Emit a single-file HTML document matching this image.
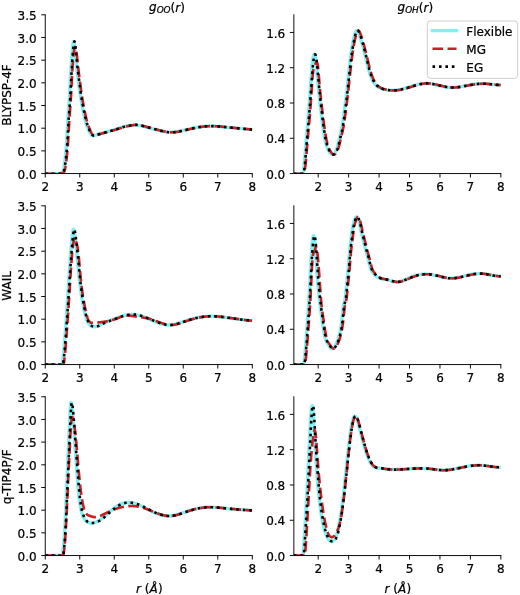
<!DOCTYPE html>
<html><head><meta charset="utf-8"><title>g(r)</title><style>html,body{margin:0;padding:0;background:#fff;width:520px;height:595px;overflow:hidden;}</style></head><body>
<svg width="520" height="595" viewBox="0 0 520 595" style="position:absolute;left:0;top:0;font-family:'DejaVu Sans', 'Liberation Sans', sans-serif;">
<style>text{fill:#000;stroke:#000;stroke-width:0.22px;}</style>
<rect x="0" y="0" width="520" height="595" fill="#fff"/>
<clipPath id="c00"><rect x="45.25" y="14.8" width="207.05" height="158.75"/></clipPath>
<g clip-path="url(#c00)">
<path d="M45.25,173.70 L45.48,173.70 L45.71,173.70 L45.94,173.70 L46.17,173.70 L46.40,173.70 L46.63,173.70 L46.86,173.70 L47.09,173.70 L47.32,173.70 L47.55,173.70 L47.78,173.70 L48.01,173.70 L48.24,173.70 L48.47,173.70 L48.70,173.70 L48.93,173.70 L49.17,173.70 L49.40,173.70 L49.63,173.70 L49.86,173.70 L50.09,173.70 L50.32,173.70 L50.55,173.70 L50.78,173.70 L51.01,173.70 L51.24,173.70 L51.47,173.70 L51.70,173.70 L51.93,173.70 L52.16,173.70 L52.39,173.70 L52.62,173.70 L52.85,173.70 L53.08,173.70 L53.31,173.70 L53.54,173.70 L53.77,173.70 L54.00,173.70 L54.23,173.70 L54.46,173.70 L54.69,173.70 L54.92,173.70 L55.15,173.70 L55.38,173.70 L55.61,173.70 L55.84,173.70 L56.07,173.70 L56.30,173.70 L56.54,173.70 L56.77,173.70 L57.00,173.70 L57.23,173.70 L57.46,173.70 L57.69,173.70 L57.92,173.70 L58.15,173.70 L58.38,173.70 L58.61,173.70 L58.84,173.70 L59.07,173.68 L59.30,173.61 L59.53,173.54 L59.76,173.47 L59.99,173.39 L60.22,173.30 L60.45,173.22 L60.68,173.12 L60.91,173.02 L61.14,172.92 L61.37,172.81 L61.60,172.70 L61.83,172.57 L62.06,172.42 L62.29,172.21 L62.52,171.93 L62.75,171.55 L62.98,171.04 L63.21,170.39 L63.44,169.56 L63.67,168.55 L63.91,167.33 L64.14,165.94 L64.37,164.38 L64.60,162.70 L64.83,160.91 L65.06,159.03 L65.29,157.07 L65.52,154.97 L65.75,152.71 L65.98,150.22 L66.21,147.47 L66.44,144.40 L66.67,140.96 L66.90,137.12 L67.13,132.83 L67.36,128.29 L67.59,123.86 L67.82,119.91 L68.05,116.53 L68.28,113.52 L68.51,110.70 L68.74,107.88 L68.97,104.88 L69.20,101.61 L69.43,97.95 L69.66,93.82 L69.89,89.23 L70.12,84.44 L70.35,79.71 L70.58,75.30 L70.81,71.23 L71.04,67.44 L71.28,63.87 L71.51,60.48 L71.74,57.26 L71.97,54.24 L72.20,51.43 L72.43,48.86 L72.66,46.56 L72.89,44.57 L73.12,43.00 L73.35,41.92 L73.58,41.41 L73.81,41.56 L74.04,42.31 L74.27,43.58 L74.50,45.31 L74.73,47.40 L74.96,49.79 L75.19,52.36 L75.42,54.99 L75.65,57.56 L75.88,59.99 L76.11,62.27 L76.34,64.44 L76.57,66.50 L76.80,68.47 L77.03,70.37 L77.26,72.21 L77.49,74.01 L77.72,75.78 L77.95,77.53 L78.18,79.28 L78.41,81.03 L78.65,82.80 L78.88,84.59 L79.11,86.41 L79.34,88.22 L79.57,90.00 L79.80,91.71 L80.03,93.34 L80.26,94.91 L80.49,96.40 L80.72,97.84 L80.95,99.22 L81.18,100.55 L81.41,101.85 L81.64,103.11 L81.87,104.34 L82.10,105.55 L82.33,106.74 L82.56,107.91 L82.79,109.07 L83.02,110.21 L83.25,111.33 L83.48,112.45 L83.71,113.56 L83.94,114.65 L84.17,115.74 L84.40,116.80 L84.63,117.84 L84.86,118.84 L85.09,119.81 L85.32,120.74 L85.55,121.62 L85.78,122.45 L86.02,123.22 L86.25,123.94 L86.48,124.61 L86.71,125.25 L86.94,125.86 L87.17,126.46 L87.40,127.04 L87.63,127.62 L87.86,128.20 L88.09,128.78 L88.32,129.34 L88.55,129.90 L88.78,130.44 L89.01,130.96 L89.24,131.47 L89.47,131.94 L89.70,132.39 L89.93,132.81 L90.16,133.20 L90.39,133.56 L90.62,133.89 L90.85,134.19 L91.08,134.46 L91.31,134.70 L91.54,134.92 L91.77,135.11 L92.00,135.27 L92.23,135.41 L92.46,135.51 L92.69,135.60 L92.92,135.66 L93.15,135.69 L93.39,135.70 L93.62,135.70 L93.85,135.67 L94.08,135.64 L94.31,135.58 L94.54,135.52 L94.77,135.45 L95.00,135.37 L95.23,135.28 L95.46,135.19 L95.69,135.10 L95.92,135.02 L96.15,134.93 L96.38,134.84 L96.61,134.76 L96.84,134.67 L97.07,134.59 L97.30,134.51 L97.53,134.42 L97.76,134.34 L97.99,134.27 L98.22,134.19 L98.45,134.11 L98.68,134.04 L98.91,133.96 L99.14,133.89 L99.37,133.82 L99.60,133.75 L99.83,133.68 L100.06,133.61 L100.29,133.55 L100.52,133.48 L100.76,133.42 L100.99,133.35 L101.22,133.29 L101.45,133.23 L101.68,133.17 L101.91,133.10 L102.14,133.04 L102.37,132.98 L102.60,132.92 L102.83,132.86 L103.06,132.80 L103.29,132.74 L103.52,132.68 L103.75,132.62 L103.98,132.56 L104.21,132.51 L104.44,132.45 L104.67,132.39 L104.90,132.33 L105.13,132.27 L105.36,132.20 L105.59,132.14 L105.82,132.08 L106.05,132.02 L106.28,131.96 L106.51,131.90 L106.74,131.83 L106.97,131.77 L107.20,131.71 L107.43,131.64 L107.66,131.58 L107.89,131.52 L108.13,131.45 L108.36,131.39 L108.59,131.32 L108.82,131.26 L109.05,131.19 L109.28,131.13 L109.51,131.06 L109.74,130.99 L109.97,130.93 L110.20,130.86 L110.43,130.80 L110.66,130.73 L110.89,130.66 L111.12,130.59 L111.35,130.53 L111.58,130.46 L111.81,130.39 L112.04,130.32 L112.27,130.26 L112.50,130.19 L112.73,130.12 L112.96,130.05 L113.19,129.98 L113.42,129.91 L113.65,129.84 L113.88,129.77 L114.11,129.70 L114.34,129.63 L114.57,129.56 L114.80,129.49 L115.03,129.42 L115.26,129.35 L115.49,129.28 L115.73,129.20 L115.96,129.13 L116.19,129.06 L116.42,128.98 L116.65,128.91 L116.88,128.84 L117.11,128.76 L117.34,128.69 L117.57,128.61 L117.80,128.54 L118.03,128.46 L118.26,128.39 L118.49,128.31 L118.72,128.23 L118.95,128.16 L119.18,128.08 L119.41,128.01 L119.64,127.93 L119.87,127.86 L120.10,127.78 L120.33,127.71 L120.56,127.63 L120.79,127.56 L121.02,127.49 L121.25,127.42 L121.48,127.35 L121.71,127.28 L121.94,127.21 L122.17,127.14 L122.40,127.07 L122.63,127.01 L122.86,126.94 L123.10,126.88 L123.33,126.82 L123.56,126.76 L123.79,126.70 L124.02,126.64 L124.25,126.59 L124.48,126.53 L124.71,126.48 L124.94,126.43 L125.17,126.38 L125.40,126.33 L125.63,126.28 L125.86,126.23 L126.09,126.18 L126.32,126.13 L126.55,126.09 L126.78,126.04 L127.01,125.99 L127.24,125.95 L127.47,125.90 L127.70,125.86 L127.93,125.81 L128.16,125.77 L128.39,125.72 L128.62,125.68 L128.85,125.64 L129.08,125.59 L129.31,125.55 L129.54,125.51 L129.77,125.46 L130.00,125.42 L130.23,125.38 L130.47,125.34 L130.70,125.30 L130.93,125.27 L131.16,125.23 L131.39,125.20 L131.62,125.16 L131.85,125.13 L132.08,125.10 L132.31,125.07 L132.54,125.04 L132.77,125.02 L133.00,125.00 L133.23,124.97 L133.46,124.96 L133.69,124.94 L133.92,124.92 L134.15,124.91 L134.38,124.90 L134.61,124.90 L134.84,124.89 L135.07,124.89 L135.30,124.89 L135.53,124.89 L135.76,124.90 L135.99,124.91 L136.22,124.93 L136.45,124.94 L136.68,124.96 L136.91,124.98 L137.14,125.01 L137.37,125.03 L137.60,125.06 L137.84,125.10 L138.07,125.13 L138.30,125.17 L138.53,125.21 L138.76,125.25 L138.99,125.29 L139.22,125.33 L139.45,125.38 L139.68,125.43 L139.91,125.48 L140.14,125.53 L140.37,125.58 L140.60,125.63 L140.83,125.69 L141.06,125.75 L141.29,125.80 L141.52,125.86 L141.75,125.92 L141.98,125.98 L142.21,126.04 L142.44,126.10 L142.67,126.16 L142.90,126.23 L143.13,126.29 L143.36,126.35 L143.59,126.41 L143.82,126.48 L144.05,126.54 L144.28,126.60 L144.51,126.67 L144.74,126.73 L144.97,126.79 L145.21,126.86 L145.44,126.92 L145.67,126.98 L145.90,127.04 L146.13,127.10 L146.36,127.16 L146.59,127.22 L146.82,127.28 L147.05,127.34 L147.28,127.40 L147.51,127.46 L147.74,127.52 L147.97,127.58 L148.20,127.64 L148.43,127.69 L148.66,127.75 L148.89,127.81 L149.12,127.87 L149.35,127.93 L149.58,127.99 L149.81,128.05 L150.04,128.11 L150.27,128.17 L150.50,128.22 L150.73,128.28 L150.96,128.34 L151.19,128.40 L151.42,128.46 L151.65,128.52 L151.88,128.58 L152.11,128.64 L152.34,128.71 L152.58,128.77 L152.81,128.83 L153.04,128.89 L153.27,128.95 L153.50,129.02 L153.73,129.08 L153.96,129.14 L154.19,129.21 L154.42,129.27 L154.65,129.33 L154.88,129.40 L155.11,129.46 L155.34,129.53 L155.57,129.59 L155.80,129.65 L156.03,129.72 L156.26,129.78 L156.49,129.85 L156.72,129.91 L156.95,129.97 L157.18,130.04 L157.41,130.10 L157.64,130.16 L157.87,130.23 L158.10,130.29 L158.33,130.35 L158.56,130.41 L158.79,130.48 L159.02,130.54 L159.25,130.60 L159.48,130.66 L159.71,130.72 L159.95,130.77 L160.18,130.83 L160.41,130.89 L160.64,130.95 L160.87,131.00 L161.10,131.06 L161.33,131.11 L161.56,131.17 L161.79,131.22 L162.02,131.27 L162.25,131.32 L162.48,131.37 L162.71,131.42 L162.94,131.47 L163.17,131.52 L163.40,131.57 L163.63,131.61 L163.86,131.66 L164.09,131.70 L164.32,131.74 L164.55,131.78 L164.78,131.82 L165.01,131.86 L165.24,131.90 L165.47,131.93 L165.70,131.97 L165.93,132.00 L166.16,132.03 L166.39,132.06 L166.62,132.09 L166.85,132.12 L167.08,132.14 L167.32,132.17 L167.55,132.19 L167.78,132.21 L168.01,132.23 L168.24,132.25 L168.47,132.26 L168.70,132.28 L168.93,132.29 L169.16,132.30 L169.39,132.31 L169.62,132.31 L169.85,132.32 L170.08,132.32 L170.31,132.32 L170.54,132.32 L170.77,132.32 L171.00,132.32 L171.23,132.31 L171.46,132.30 L171.69,132.29 L171.92,132.28 L172.15,132.27 L172.38,132.26 L172.61,132.24 L172.84,132.23 L173.07,132.21 L173.30,132.19 L173.53,132.17 L173.76,132.15 L173.99,132.12 L174.22,132.10 L174.45,132.07 L174.69,132.04 L174.92,132.02 L175.15,131.99 L175.38,131.96 L175.61,131.92 L175.84,131.89 L176.07,131.86 L176.30,131.82 L176.53,131.78 L176.76,131.75 L176.99,131.71 L177.22,131.67 L177.45,131.63 L177.68,131.59 L177.91,131.55 L178.14,131.50 L178.37,131.46 L178.60,131.41 L178.83,131.37 L179.06,131.32 L179.29,131.28 L179.52,131.23 L179.75,131.18 L179.98,131.13 L180.21,131.08 L180.44,131.03 L180.67,130.98 L180.90,130.93 L181.13,130.88 L181.36,130.83 L181.59,130.78 L181.82,130.72 L182.06,130.67 L182.29,130.62 L182.52,130.56 L182.75,130.51 L182.98,130.45 L183.21,130.40 L183.44,130.34 L183.67,130.29 L183.90,130.23 L184.13,130.18 L184.36,130.12 L184.59,130.06 L184.82,130.01 L185.05,129.95 L185.28,129.90 L185.51,129.84 L185.74,129.78 L185.97,129.73 L186.20,129.67 L186.43,129.62 L186.66,129.56 L186.89,129.51 L187.12,129.45 L187.35,129.40 L187.58,129.34 L187.81,129.29 L188.04,129.23 L188.27,129.18 L188.50,129.12 L188.73,129.07 L188.96,129.01 L189.19,128.96 L189.42,128.91 L189.66,128.85 L189.89,128.80 L190.12,128.75 L190.35,128.70 L190.58,128.65 L190.81,128.59 L191.04,128.54 L191.27,128.49 L191.50,128.44 L191.73,128.39 L191.96,128.34 L192.19,128.29 L192.42,128.24 L192.65,128.19 L192.88,128.14 L193.11,128.10 L193.34,128.05 L193.57,128.00 L193.80,127.95 L194.03,127.91 L194.26,127.86 L194.49,127.81 L194.72,127.77 L194.95,127.72 L195.18,127.68 L195.41,127.64 L195.64,127.59 L195.87,127.55 L196.10,127.51 L196.33,127.46 L196.56,127.42 L196.79,127.38 L197.03,127.34 L197.26,127.30 L197.49,127.26 L197.72,127.22 L197.95,127.18 L198.18,127.14 L198.41,127.11 L198.64,127.07 L198.87,127.03 L199.10,127.00 L199.33,126.96 L199.56,126.93 L199.79,126.89 L200.02,126.86 L200.25,126.83 L200.48,126.80 L200.71,126.77 L200.94,126.73 L201.17,126.70 L201.40,126.67 L201.63,126.65 L201.86,126.62 L202.09,126.59 L202.32,126.56 L202.55,126.54 L202.78,126.51 L203.01,126.49 L203.24,126.46 L203.47,126.44 L203.70,126.42 L203.93,126.40 L204.16,126.38 L204.40,126.36 L204.63,126.34 L204.86,126.32 L205.09,126.30 L205.32,126.28 L205.55,126.27 L205.78,126.25 L206.01,126.24 L206.24,126.22 L206.47,126.21 L206.70,126.20 L206.93,126.19 L207.16,126.18 L207.39,126.17 L207.62,126.16 L207.85,126.15 L208.08,126.15 L208.31,126.14 L208.54,126.14 L208.77,126.13 L209.00,126.13 L209.23,126.12 L209.46,126.12 L209.69,126.12 L209.92,126.12 L210.15,126.12 L210.38,126.12 L210.61,126.12 L210.84,126.12 L211.07,126.13 L211.30,126.13 L211.53,126.13 L211.77,126.14 L212.00,126.14 L212.23,126.15 L212.46,126.15 L212.69,126.16 L212.92,126.17 L213.15,126.18 L213.38,126.19 L213.61,126.20 L213.84,126.21 L214.07,126.22 L214.30,126.23 L214.53,126.24 L214.76,126.25 L214.99,126.26 L215.22,126.28 L215.45,126.29 L215.68,126.30 L215.91,126.32 L216.14,126.33 L216.37,126.35 L216.60,126.36 L216.83,126.38 L217.06,126.39 L217.29,126.41 L217.52,126.43 L217.75,126.44 L217.98,126.46 L218.21,126.48 L218.44,126.50 L218.67,126.52 L218.90,126.54 L219.14,126.56 L219.37,126.57 L219.60,126.59 L219.83,126.61 L220.06,126.64 L220.29,126.66 L220.52,126.68 L220.75,126.70 L220.98,126.72 L221.21,126.74 L221.44,126.76 L221.67,126.78 L221.90,126.81 L222.13,126.83 L222.36,126.85 L222.59,126.87 L222.82,126.89 L223.05,126.92 L223.28,126.94 L223.51,126.96 L223.74,126.99 L223.97,127.01 L224.20,127.03 L224.43,127.05 L224.66,127.08 L224.89,127.10 L225.12,127.12 L225.35,127.15 L225.58,127.17 L225.81,127.19 L226.04,127.22 L226.27,127.24 L226.51,127.26 L226.74,127.28 L226.97,127.31 L227.20,127.33 L227.43,127.35 L227.66,127.37 L227.89,127.40 L228.12,127.42 L228.35,127.44 L228.58,127.46 L228.81,127.49 L229.04,127.51 L229.27,127.53 L229.50,127.55 L229.73,127.57 L229.96,127.60 L230.19,127.62 L230.42,127.64 L230.65,127.66 L230.88,127.68 L231.11,127.70 L231.34,127.72 L231.57,127.75 L231.80,127.77 L232.03,127.79 L232.26,127.81 L232.49,127.83 L232.72,127.85 L232.95,127.87 L233.18,127.89 L233.41,127.91 L233.64,127.94 L233.88,127.96 L234.11,127.98 L234.34,128.00 L234.57,128.02 L234.80,128.04 L235.03,128.06 L235.26,128.08 L235.49,128.10 L235.72,128.12 L235.95,128.14 L236.18,128.16 L236.41,128.18 L236.64,128.20 L236.87,128.22 L237.10,128.24 L237.33,128.26 L237.56,128.28 L237.79,128.30 L238.02,128.32 L238.25,128.34 L238.48,128.36 L238.71,128.38 L238.94,128.40 L239.17,128.42 L239.40,128.44 L239.63,128.46 L239.86,128.48 L240.09,128.50 L240.32,128.52 L240.55,128.54 L240.78,128.56 L241.01,128.58 L241.25,128.60 L241.48,128.62 L241.71,128.64 L241.94,128.66 L242.17,128.68 L242.40,128.70 L242.63,128.72 L242.86,128.74 L243.09,128.76 L243.32,128.78 L243.55,128.80 L243.78,128.82 L244.01,128.84 L244.24,128.86 L244.47,128.88 L244.70,128.90 L244.93,128.91 L245.16,128.93 L245.39,128.95 L245.62,128.97 L245.85,128.99 L246.08,129.01 L246.31,129.03 L246.54,129.05 L246.77,129.07 L247.00,129.09 L247.23,129.11 L247.46,129.13 L247.69,129.15 L247.92,129.17 L248.15,129.19 L248.38,129.21 L248.62,129.23 L248.85,129.25 L249.08,129.27 L249.31,129.29 L249.54,129.31 L249.77,129.33 L250.00,129.35 L250.23,129.37 L250.46,129.39 L250.69,129.41 L250.92,129.43 L251.15,129.45 L251.38,129.47 L251.61,129.49 L251.84,129.51 L252.07,129.53 L252.30,129.55" fill="none" stroke="#80f0f0" stroke-width="3.4" stroke-linejoin="round"/>
<path d="M45.25,173.70 L45.48,173.70 L45.71,173.70 L45.94,173.70 L46.17,173.70 L46.40,173.70 L46.63,173.70 L46.86,173.70 L47.09,173.70 L47.32,173.70 L47.55,173.70 L47.78,173.70 L48.01,173.70 L48.24,173.70 L48.47,173.70 L48.70,173.70 L48.93,173.70 L49.17,173.70 L49.40,173.70 L49.63,173.70 L49.86,173.70 L50.09,173.70 L50.32,173.70 L50.55,173.70 L50.78,173.70 L51.01,173.70 L51.24,173.70 L51.47,173.70 L51.70,173.70 L51.93,173.70 L52.16,173.70 L52.39,173.70 L52.62,173.70 L52.85,173.70 L53.08,173.70 L53.31,173.70 L53.54,173.70 L53.77,173.70 L54.00,173.70 L54.23,173.70 L54.46,173.70 L54.69,173.70 L54.92,173.70 L55.15,173.70 L55.38,173.70 L55.61,173.70 L55.84,173.70 L56.07,173.70 L56.30,173.70 L56.54,173.70 L56.77,173.70 L57.00,173.70 L57.23,173.70 L57.46,173.70 L57.69,173.70 L57.92,173.70 L58.15,173.70 L58.38,173.70 L58.61,173.70 L58.84,173.70 L59.07,173.69 L59.30,173.67 L59.53,173.64 L59.76,173.61 L59.99,173.58 L60.22,173.55 L60.45,173.51 L60.68,173.47 L60.91,173.42 L61.14,173.37 L61.37,173.32 L61.60,173.26 L61.83,173.19 L62.06,173.12 L62.29,173.04 L62.52,172.95 L62.75,172.86 L62.98,172.75 L63.21,172.64 L63.44,172.51 L63.67,172.34 L63.91,172.10 L64.14,171.77 L64.37,171.32 L64.60,170.75 L64.83,170.01 L65.06,169.09 L65.29,167.98 L65.52,166.67 L65.75,165.20 L65.98,163.58 L66.21,161.84 L66.44,160.00 L66.67,158.09 L66.90,156.07 L67.13,153.90 L67.36,151.53 L67.59,148.92 L67.82,146.01 L68.05,142.77 L68.28,139.15 L68.51,135.09 L68.74,130.63 L68.97,126.09 L69.20,121.86 L69.43,118.20 L69.66,115.03 L69.89,112.14 L70.12,109.34 L70.35,106.45 L70.58,103.32 L70.81,99.87 L71.04,96.00 L71.28,91.64 L71.51,86.93 L71.74,82.14 L71.97,77.50 L72.20,73.19 L72.43,69.21 L72.66,65.58 L72.89,62.29 L73.12,59.34 L73.35,56.72 L73.58,54.42 L73.81,52.42 L74.04,50.74 L74.27,49.34 L74.50,48.26 L74.73,47.51 L74.96,47.09 L75.19,47.01 L75.42,47.29 L75.65,47.88 L75.88,48.76 L76.11,49.90 L76.34,51.27 L76.57,52.84 L76.80,54.58 L77.03,56.46 L77.26,58.46 L77.49,60.54 L77.72,62.67 L77.95,64.83 L78.18,66.99 L78.41,69.11 L78.65,71.17 L78.88,73.13 L79.11,75.00 L79.34,76.78 L79.57,78.52 L79.80,80.22 L80.03,81.94 L80.26,83.67 L80.49,85.46 L80.72,87.27 L80.95,89.08 L81.18,90.84 L81.41,92.52 L81.64,94.13 L81.87,95.66 L82.10,97.13 L82.33,98.53 L82.56,99.89 L82.79,101.20 L83.02,102.47 L83.25,103.71 L83.48,104.93 L83.71,106.13 L83.94,107.31 L84.17,108.47 L84.40,109.62 L84.63,110.76 L84.86,111.88 L85.09,112.99 L85.32,114.09 L85.55,115.18 L85.78,116.26 L86.02,117.31 L86.25,118.33 L86.48,119.32 L86.71,120.27 L86.94,121.18 L87.17,122.03 L87.40,122.83 L87.63,123.57 L87.86,124.27 L88.09,124.93 L88.32,125.55 L88.55,126.15 L88.78,126.74 L89.01,127.32 L89.24,127.90 L89.47,128.48 L89.70,129.05 L89.93,129.62 L90.16,130.16 L90.39,130.70 L90.62,131.21 L90.85,131.70 L91.08,132.16 L91.31,132.60 L91.54,133.00 L91.77,133.38 L92.00,133.72 L92.23,134.04 L92.46,134.32 L92.69,134.58 L92.92,134.81 L93.15,135.01 L93.39,135.19 L93.62,135.34 L93.85,135.46 L94.08,135.56 L94.31,135.63 L94.54,135.68 L94.77,135.70 L95.00,135.70 L95.23,135.69 L95.46,135.66 L95.69,135.61 L95.92,135.55 L96.15,135.49 L96.38,135.41 L96.61,135.33 L96.84,135.24 L97.07,135.15 L97.30,135.06 L97.53,134.97 L97.76,134.89 L97.99,134.80 L98.22,134.71 L98.45,134.63 L98.68,134.55 L98.91,134.47 L99.14,134.39 L99.37,134.31 L99.60,134.23 L99.83,134.15 L100.06,134.08 L100.29,134.00 L100.52,133.93 L100.76,133.86 L100.99,133.79 L101.22,133.72 L101.45,133.65 L101.68,133.58 L101.91,133.52 L102.14,133.45 L102.37,133.39 L102.60,133.32 L102.83,133.26 L103.06,133.20 L103.29,133.14 L103.52,133.07 L103.75,133.01 L103.98,132.95 L104.21,132.89 L104.44,132.83 L104.67,132.77 L104.90,132.71 L105.13,132.65 L105.36,132.60 L105.59,132.54 L105.82,132.48 L106.05,132.42 L106.28,132.36 L106.51,132.30 L106.74,132.24 L106.97,132.18 L107.20,132.11 L107.43,132.05 L107.66,131.99 L107.89,131.93 L108.13,131.87 L108.36,131.80 L108.59,131.74 L108.82,131.68 L109.05,131.61 L109.28,131.55 L109.51,131.48 L109.74,131.42 L109.97,131.36 L110.20,131.29 L110.43,131.23 L110.66,131.16 L110.89,131.09 L111.12,131.03 L111.35,130.96 L111.58,130.90 L111.81,130.83 L112.04,130.76 L112.27,130.70 L112.50,130.63 L112.73,130.56 L112.96,130.49 L113.19,130.43 L113.42,130.36 L113.65,130.29 L113.88,130.22 L114.11,130.15 L114.34,130.09 L114.57,130.02 L114.80,129.95 L115.03,129.88 L115.26,129.81 L115.49,129.74 L115.73,129.67 L115.96,129.60 L116.19,129.53 L116.42,129.46 L116.65,129.38 L116.88,129.31 L117.11,129.24 L117.34,129.17 L117.57,129.10 L117.80,129.02 L118.03,128.95 L118.26,128.87 L118.49,128.80 L118.72,128.73 L118.95,128.65 L119.18,128.58 L119.41,128.50 L119.64,128.42 L119.87,128.35 L120.10,128.27 L120.33,128.20 L120.56,128.12 L120.79,128.05 L121.02,127.97 L121.25,127.89 L121.48,127.82 L121.71,127.75 L121.94,127.67 L122.17,127.60 L122.40,127.53 L122.63,127.45 L122.86,127.38 L123.10,127.31 L123.33,127.24 L123.56,127.17 L123.79,127.11 L124.02,127.04 L124.25,126.98 L124.48,126.91 L124.71,126.85 L124.94,126.79 L125.17,126.73 L125.40,126.67 L125.63,126.62 L125.86,126.56 L126.09,126.51 L126.32,126.45 L126.55,126.40 L126.78,126.35 L127.01,126.30 L127.24,126.25 L127.47,126.20 L127.70,126.16 L127.93,126.11 L128.16,126.06 L128.39,126.02 L128.62,125.97 L128.85,125.93 L129.08,125.88 L129.31,125.84 L129.54,125.79 L129.77,125.75 L130.00,125.70 L130.23,125.66 L130.47,125.61 L130.70,125.57 L130.93,125.53 L131.16,125.48 L131.39,125.44 L131.62,125.40 L131.85,125.36 L132.08,125.32 L132.31,125.29 L132.54,125.25 L132.77,125.21 L133.00,125.18 L133.23,125.15 L133.46,125.11 L133.69,125.09 L133.92,125.06 L134.15,125.03 L134.38,125.01 L134.61,124.98 L134.84,124.96 L135.07,124.95 L135.30,124.93 L135.53,124.92 L135.76,124.91 L135.99,124.90 L136.22,124.89 L136.45,124.89 L136.68,124.89 L136.91,124.89 L137.14,124.90 L137.37,124.91 L137.60,124.92 L137.84,124.93 L138.07,124.95 L138.30,124.97 L138.53,124.99 L138.76,125.02 L138.99,125.05 L139.22,125.08 L139.45,125.11 L139.68,125.15 L139.91,125.19 L140.14,125.23 L140.37,125.27 L140.60,125.31 L140.83,125.36 L141.06,125.40 L141.29,125.45 L141.52,125.50 L141.75,125.55 L141.98,125.61 L142.21,125.66 L142.44,125.72 L142.67,125.77 L142.90,125.83 L143.13,125.89 L143.36,125.95 L143.59,126.01 L143.82,126.07 L144.05,126.13 L144.28,126.19 L144.51,126.26 L144.74,126.32 L144.97,126.38 L145.21,126.45 L145.44,126.51 L145.67,126.57 L145.90,126.64 L146.13,126.70 L146.36,126.76 L146.59,126.82 L146.82,126.89 L147.05,126.95 L147.28,127.01 L147.51,127.07 L147.74,127.13 L147.97,127.19 L148.20,127.25 L148.43,127.31 L148.66,127.37 L148.89,127.43 L149.12,127.49 L149.35,127.55 L149.58,127.61 L149.81,127.66 L150.04,127.72 L150.27,127.78 L150.50,127.84 L150.73,127.90 L150.96,127.96 L151.19,128.02 L151.42,128.08 L151.65,128.13 L151.88,128.19 L152.11,128.25 L152.34,128.31 L152.58,128.37 L152.81,128.43 L153.04,128.49 L153.27,128.55 L153.50,128.61 L153.73,128.67 L153.96,128.73 L154.19,128.80 L154.42,128.86 L154.65,128.92 L154.88,128.98 L155.11,129.05 L155.34,129.11 L155.57,129.17 L155.80,129.24 L156.03,129.30 L156.26,129.36 L156.49,129.43 L156.72,129.49 L156.95,129.56 L157.18,129.62 L157.41,129.69 L157.64,129.75 L157.87,129.81 L158.10,129.88 L158.33,129.94 L158.56,130.01 L158.79,130.07 L159.02,130.13 L159.25,130.20 L159.48,130.26 L159.71,130.32 L159.95,130.38 L160.18,130.44 L160.41,130.50 L160.64,130.57 L160.87,130.63 L161.10,130.69 L161.33,130.74 L161.56,130.80 L161.79,130.86 L162.02,130.92 L162.25,130.97 L162.48,131.03 L162.71,131.09 L162.94,131.14 L163.17,131.19 L163.40,131.25 L163.63,131.30 L163.86,131.35 L164.09,131.40 L164.32,131.45 L164.55,131.50 L164.78,131.54 L165.01,131.59 L165.24,131.63 L165.47,131.68 L165.70,131.72 L165.93,131.76 L166.16,131.80 L166.39,131.84 L166.62,131.88 L166.85,131.92 L167.08,131.95 L167.32,131.98 L167.55,132.02 L167.78,132.05 L168.01,132.08 L168.24,132.10 L168.47,132.13 L168.70,132.16 L168.93,132.18 L169.16,132.20 L169.39,132.22 L169.62,132.24 L169.85,132.25 L170.08,132.27 L170.31,132.28 L170.54,132.29 L170.77,132.30 L171.00,132.31 L171.23,132.32 L171.46,132.32 L171.69,132.32 L171.92,132.32 L172.15,132.32 L172.38,132.32 L172.61,132.31 L172.84,132.31 L173.07,132.30 L173.30,132.29 L173.53,132.28 L173.76,132.26 L173.99,132.25 L174.22,132.23 L174.45,132.22 L174.69,132.20 L174.92,132.18 L175.15,132.16 L175.38,132.13 L175.61,132.11 L175.84,132.08 L176.07,132.06 L176.30,132.03 L176.53,132.00 L176.76,131.97 L176.99,131.94 L177.22,131.91 L177.45,131.87 L177.68,131.84 L177.91,131.80 L178.14,131.77 L178.37,131.73 L178.60,131.69 L178.83,131.65 L179.06,131.61 L179.29,131.57 L179.52,131.52 L179.75,131.48 L179.98,131.44 L180.21,131.39 L180.44,131.35 L180.67,131.30 L180.90,131.25 L181.13,131.20 L181.36,131.16 L181.59,131.11 L181.82,131.06 L182.06,131.01 L182.29,130.96 L182.52,130.91 L182.75,130.85 L182.98,130.80 L183.21,130.75 L183.44,130.70 L183.67,130.64 L183.90,130.59 L184.13,130.53 L184.36,130.48 L184.59,130.43 L184.82,130.37 L185.05,130.31 L185.28,130.26 L185.51,130.20 L185.74,130.15 L185.97,130.09 L186.20,130.04 L186.43,129.98 L186.66,129.92 L186.89,129.87 L187.12,129.81 L187.35,129.76 L187.58,129.70 L187.81,129.65 L188.04,129.59 L188.27,129.53 L188.50,129.48 L188.73,129.42 L188.96,129.37 L189.19,129.31 L189.42,129.26 L189.66,129.20 L189.89,129.15 L190.12,129.10 L190.35,129.04 L190.58,128.99 L190.81,128.94 L191.04,128.88 L191.27,128.83 L191.50,128.78 L191.73,128.73 L191.96,128.67 L192.19,128.62 L192.42,128.57 L192.65,128.52 L192.88,128.47 L193.11,128.42 L193.34,128.37 L193.57,128.32 L193.80,128.27 L194.03,128.22 L194.26,128.17 L194.49,128.12 L194.72,128.07 L194.95,128.03 L195.18,127.98 L195.41,127.93 L195.64,127.89 L195.87,127.84 L196.10,127.80 L196.33,127.75 L196.56,127.71 L196.79,127.66 L197.03,127.62 L197.26,127.57 L197.49,127.53 L197.72,127.49 L197.95,127.45 L198.18,127.41 L198.41,127.36 L198.64,127.32 L198.87,127.28 L199.10,127.24 L199.33,127.21 L199.56,127.17 L199.79,127.13 L200.02,127.09 L200.25,127.06 L200.48,127.02 L200.71,126.98 L200.94,126.95 L201.17,126.92 L201.40,126.88 L201.63,126.85 L201.86,126.82 L202.09,126.78 L202.32,126.75 L202.55,126.72 L202.78,126.69 L203.01,126.66 L203.24,126.64 L203.47,126.61 L203.70,126.58 L203.93,126.55 L204.16,126.53 L204.40,126.50 L204.63,126.48 L204.86,126.46 L205.09,126.43 L205.32,126.41 L205.55,126.39 L205.78,126.37 L206.01,126.35 L206.24,126.33 L206.47,126.31 L206.70,126.29 L206.93,126.28 L207.16,126.26 L207.39,126.25 L207.62,126.23 L207.85,126.22 L208.08,126.21 L208.31,126.19 L208.54,126.18 L208.77,126.17 L209.00,126.16 L209.23,126.16 L209.46,126.15 L209.69,126.14 L209.92,126.14 L210.15,126.13 L210.38,126.13 L210.61,126.12 L210.84,126.12 L211.07,126.12 L211.30,126.12 L211.53,126.11 L211.77,126.11 L212.00,126.12 L212.23,126.12 L212.46,126.12 L212.69,126.12 L212.92,126.12 L213.15,126.13 L213.38,126.13 L213.61,126.14 L213.84,126.14 L214.07,126.15 L214.30,126.16 L214.53,126.16 L214.76,126.17 L214.99,126.18 L215.22,126.19 L215.45,126.20 L215.68,126.21 L215.91,126.22 L216.14,126.23 L216.37,126.24 L216.60,126.26 L216.83,126.27 L217.06,126.28 L217.29,126.30 L217.52,126.31 L217.75,126.33 L217.98,126.34 L218.21,126.36 L218.44,126.37 L218.67,126.39 L218.90,126.40 L219.14,126.42 L219.37,126.44 L219.60,126.46 L219.83,126.48 L220.06,126.49 L220.29,126.51 L220.52,126.53 L220.75,126.55 L220.98,126.57 L221.21,126.59 L221.44,126.61 L221.67,126.63 L221.90,126.65 L222.13,126.67 L222.36,126.69 L222.59,126.72 L222.82,126.74 L223.05,126.76 L223.28,126.78 L223.51,126.80 L223.74,126.83 L223.97,126.85 L224.20,126.87 L224.43,126.89 L224.66,126.92 L224.89,126.94 L225.12,126.96 L225.35,126.99 L225.58,127.01 L225.81,127.03 L226.04,127.06 L226.27,127.08 L226.51,127.10 L226.74,127.13 L226.97,127.15 L227.20,127.18 L227.43,127.20 L227.66,127.22 L227.89,127.25 L228.12,127.27 L228.35,127.29 L228.58,127.32 L228.81,127.34 L229.04,127.37 L229.27,127.39 L229.50,127.41 L229.73,127.44 L229.96,127.46 L230.19,127.48 L230.42,127.51 L230.65,127.53 L230.88,127.55 L231.11,127.58 L231.34,127.60 L231.57,127.62 L231.80,127.65 L232.03,127.67 L232.26,127.69 L232.49,127.71 L232.72,127.74 L232.95,127.76 L233.18,127.78 L233.41,127.81 L233.64,127.83 L233.88,127.85 L234.11,127.87 L234.34,127.90 L234.57,127.92 L234.80,127.94 L235.03,127.96 L235.26,127.99 L235.49,128.01 L235.72,128.03 L235.95,128.05 L236.18,128.08 L236.41,128.10 L236.64,128.12 L236.87,128.14 L237.10,128.16 L237.33,128.19 L237.56,128.21 L237.79,128.23 L238.02,128.25 L238.25,128.27 L238.48,128.30 L238.71,128.32 L238.94,128.34 L239.17,128.36 L239.40,128.38 L239.63,128.41 L239.86,128.43 L240.09,128.45 L240.32,128.47 L240.55,128.49 L240.78,128.51 L241.01,128.54 L241.25,128.56 L241.48,128.58 L241.71,128.60 L241.94,128.62 L242.17,128.64 L242.40,128.66 L242.63,128.68 L242.86,128.71 L243.09,128.73 L243.32,128.75 L243.55,128.77 L243.78,128.79 L244.01,128.81 L244.24,128.83 L244.47,128.85 L244.70,128.87 L244.93,128.90 L245.16,128.92 L245.39,128.94 L245.62,128.96 L245.85,128.98 L246.08,129.00 L246.31,129.02 L246.54,129.04 L246.77,129.06 L247.00,129.08 L247.23,129.10 L247.46,129.12 L247.69,129.14 L247.92,129.16 L248.15,129.18 L248.38,129.21 L248.62,129.23 L248.85,129.25 L249.08,129.27 L249.31,129.29 L249.54,129.31 L249.77,129.33 L250.00,129.35 L250.23,129.37 L250.46,129.39 L250.69,129.41 L250.92,129.43 L251.15,129.45 L251.38,129.47 L251.61,129.49 L251.84,129.51 L252.07,129.53 L252.30,129.55" fill="none" stroke="#c81e24" stroke-width="2.6" stroke-dasharray="10.6,4.4" stroke-linejoin="round"/>
<path d="M45.25,173.70 L45.48,173.70 L45.71,173.70 L45.94,173.70 L46.17,173.70 L46.40,173.70 L46.63,173.70 L46.86,173.70 L47.09,173.70 L47.32,173.70 L47.55,173.70 L47.78,173.70 L48.01,173.70 L48.24,173.70 L48.47,173.70 L48.70,173.70 L48.93,173.70 L49.17,173.70 L49.40,173.70 L49.63,173.70 L49.86,173.70 L50.09,173.70 L50.32,173.70 L50.55,173.70 L50.78,173.70 L51.01,173.70 L51.24,173.70 L51.47,173.70 L51.70,173.70 L51.93,173.70 L52.16,173.70 L52.39,173.70 L52.62,173.70 L52.85,173.70 L53.08,173.70 L53.31,173.70 L53.54,173.70 L53.77,173.70 L54.00,173.70 L54.23,173.70 L54.46,173.70 L54.69,173.70 L54.92,173.70 L55.15,173.70 L55.38,173.70 L55.61,173.70 L55.84,173.70 L56.07,173.70 L56.30,173.70 L56.54,173.70 L56.77,173.70 L57.00,173.70 L57.23,173.70 L57.46,173.70 L57.69,173.70 L57.92,173.70 L58.15,173.70 L58.38,173.70 L58.61,173.70 L58.84,173.70 L59.07,173.69 L59.30,173.65 L59.53,173.61 L59.76,173.56 L59.99,173.51 L60.22,173.46 L60.45,173.40 L60.68,173.34 L60.91,173.28 L61.14,173.20 L61.37,173.13 L61.60,173.04 L61.83,172.95 L62.06,172.86 L62.29,172.75 L62.52,172.64 L62.75,172.50 L62.98,172.33 L63.21,172.08 L63.44,171.75 L63.67,171.30 L63.91,170.72 L64.14,169.98 L64.37,169.05 L64.60,167.93 L64.83,166.62 L65.06,165.14 L65.29,163.51 L65.52,161.77 L65.75,159.93 L65.98,158.01 L66.21,155.98 L66.44,153.81 L66.67,151.43 L66.90,148.81 L67.13,145.89 L67.36,142.64 L67.59,138.99 L67.82,134.92 L68.05,130.45 L68.28,125.92 L68.51,121.70 L68.74,118.07 L68.97,114.91 L69.20,112.03 L69.43,109.23 L69.66,106.33 L69.89,103.20 L70.12,99.74 L70.35,95.84 L70.58,91.44 L70.81,86.72 L71.04,81.93 L71.28,77.34 L71.51,73.12 L71.74,69.20 L71.97,65.54 L72.20,62.07 L72.43,58.76 L72.66,55.65 L72.89,52.73 L73.12,50.05 L73.35,47.61 L73.58,45.47 L73.81,43.69 L74.04,42.36 L74.27,41.57 L74.50,41.41 L74.73,41.88 L74.96,42.92 L75.19,44.44 L75.42,46.37 L75.65,48.63 L75.88,51.12 L76.11,53.74 L76.34,56.36 L76.57,58.85 L76.80,61.21 L77.03,63.43 L77.26,65.54 L77.49,67.55 L77.72,69.48 L77.95,71.35 L78.18,73.16 L78.41,74.95 L78.65,76.70 L78.88,78.45 L79.11,80.20 L79.34,81.96 L79.57,83.74 L79.80,85.55 L80.03,87.36 L80.26,89.16 L80.49,90.91 L80.72,92.58 L80.95,94.18 L81.18,95.70 L81.41,97.16 L81.64,98.57 L81.87,99.93 L82.10,101.24 L82.33,102.51 L82.56,103.76 L82.79,104.98 L83.02,106.18 L83.25,107.36 L83.48,108.52 L83.71,109.67 L83.94,110.80 L84.17,111.92 L84.40,113.03 L84.63,114.14 L84.86,115.23 L85.09,116.30 L85.32,117.35 L85.55,118.37 L85.78,119.36 L86.02,120.31 L86.25,121.21 L86.48,122.06 L86.71,122.86 L86.94,123.60 L87.17,124.30 L87.40,124.95 L87.63,125.58 L87.86,126.18 L88.09,126.77 L88.32,127.35 L88.55,127.93 L88.78,128.50 L89.01,129.08 L89.24,129.64 L89.47,130.19 L89.70,130.72 L89.93,131.23 L90.16,131.72 L90.39,132.18 L90.62,132.62 L90.85,133.02 L91.08,133.39 L91.31,133.73 L91.54,134.05 L91.77,134.33 L92.00,134.59 L92.23,134.82 L92.46,135.02 L92.69,135.20 L92.92,135.34 L93.15,135.47 L93.39,135.56 L93.62,135.63 L93.85,135.68 L94.08,135.70 L94.31,135.70 L94.54,135.69 L94.77,135.66 L95.00,135.61 L95.23,135.55 L95.46,135.48 L95.69,135.41 L95.92,135.32 L96.15,135.24 L96.38,135.15 L96.61,135.06 L96.84,134.97 L97.07,134.88 L97.30,134.80 L97.53,134.71 L97.76,134.63 L97.99,134.54 L98.22,134.46 L98.45,134.38 L98.68,134.30 L98.91,134.23 L99.14,134.15 L99.37,134.07 L99.60,134.00 L99.83,133.93 L100.06,133.85 L100.29,133.78 L100.52,133.71 L100.76,133.65 L100.99,133.58 L101.22,133.51 L101.45,133.45 L101.68,133.38 L101.91,133.32 L102.14,133.26 L102.37,133.19 L102.60,133.13 L102.83,133.07 L103.06,133.01 L103.29,132.95 L103.52,132.89 L103.75,132.83 L103.98,132.77 L104.21,132.71 L104.44,132.65 L104.67,132.59 L104.90,132.53 L105.13,132.47 L105.36,132.41 L105.59,132.35 L105.82,132.29 L106.05,132.23 L106.28,132.17 L106.51,132.11 L106.74,132.05 L106.97,131.99 L107.20,131.93 L107.43,131.86 L107.66,131.80 L107.89,131.74 L108.13,131.67 L108.36,131.61 L108.59,131.55 L108.82,131.48 L109.05,131.42 L109.28,131.35 L109.51,131.29 L109.74,131.22 L109.97,131.16 L110.20,131.09 L110.43,131.03 L110.66,130.96 L110.89,130.89 L111.12,130.83 L111.35,130.76 L111.58,130.69 L111.81,130.63 L112.04,130.56 L112.27,130.49 L112.50,130.42 L112.73,130.36 L112.96,130.29 L113.19,130.22 L113.42,130.15 L113.65,130.08 L113.88,130.01 L114.11,129.94 L114.34,129.88 L114.57,129.81 L114.80,129.74 L115.03,129.67 L115.26,129.59 L115.49,129.52 L115.73,129.45 L115.96,129.38 L116.19,129.31 L116.42,129.24 L116.65,129.17 L116.88,129.09 L117.11,129.02 L117.34,128.95 L117.57,128.87 L117.80,128.80 L118.03,128.72 L118.26,128.65 L118.49,128.57 L118.72,128.50 L118.95,128.42 L119.18,128.35 L119.41,128.27 L119.64,128.19 L119.87,128.12 L120.10,128.04 L120.33,127.97 L120.56,127.89 L120.79,127.82 L121.02,127.74 L121.25,127.67 L121.48,127.60 L121.71,127.52 L121.94,127.45 L122.17,127.38 L122.40,127.31 L122.63,127.24 L122.86,127.17 L123.10,127.10 L123.33,127.04 L123.56,126.97 L123.79,126.91 L124.02,126.85 L124.25,126.79 L124.48,126.73 L124.71,126.67 L124.94,126.61 L125.17,126.56 L125.40,126.51 L125.63,126.45 L125.86,126.40 L126.09,126.35 L126.32,126.30 L126.55,126.25 L126.78,126.20 L127.01,126.15 L127.24,126.11 L127.47,126.06 L127.70,126.02 L127.93,125.97 L128.16,125.92 L128.39,125.88 L128.62,125.83 L128.85,125.79 L129.08,125.74 L129.31,125.70 L129.54,125.66 L129.77,125.61 L130.00,125.57 L130.23,125.53 L130.47,125.48 L130.70,125.44 L130.93,125.40 L131.16,125.36 L131.39,125.32 L131.62,125.28 L131.85,125.25 L132.08,125.21 L132.31,125.18 L132.54,125.14 L132.77,125.11 L133.00,125.08 L133.23,125.06 L133.46,125.03 L133.69,125.01 L133.92,124.98 L134.15,124.96 L134.38,124.95 L134.61,124.93 L134.84,124.92 L135.07,124.91 L135.30,124.90 L135.53,124.89 L135.76,124.89 L135.99,124.89 L136.22,124.89 L136.45,124.90 L136.68,124.91 L136.91,124.92 L137.14,124.93 L137.37,124.95 L137.60,124.97 L137.84,125.00 L138.07,125.02 L138.30,125.05 L138.53,125.08 L138.76,125.11 L138.99,125.15 L139.22,125.19 L139.45,125.23 L139.68,125.27 L139.91,125.31 L140.14,125.36 L140.37,125.40 L140.60,125.45 L140.83,125.50 L141.06,125.56 L141.29,125.61 L141.52,125.66 L141.75,125.72 L141.98,125.78 L142.21,125.83 L142.44,125.89 L142.67,125.95 L142.90,126.01 L143.13,126.07 L143.36,126.13 L143.59,126.20 L143.82,126.26 L144.05,126.32 L144.28,126.38 L144.51,126.45 L144.74,126.51 L144.97,126.57 L145.21,126.64 L145.44,126.70 L145.67,126.76 L145.90,126.83 L146.13,126.89 L146.36,126.95 L146.59,127.01 L146.82,127.07 L147.05,127.13 L147.28,127.19 L147.51,127.25 L147.74,127.31 L147.97,127.37 L148.20,127.43 L148.43,127.49 L148.66,127.55 L148.89,127.61 L149.12,127.67 L149.35,127.73 L149.58,127.78 L149.81,127.84 L150.04,127.90 L150.27,127.96 L150.50,128.02 L150.73,128.08 L150.96,128.14 L151.19,128.20 L151.42,128.26 L151.65,128.31 L151.88,128.37 L152.11,128.43 L152.34,128.49 L152.58,128.55 L152.81,128.62 L153.04,128.68 L153.27,128.74 L153.50,128.80 L153.73,128.86 L153.96,128.92 L154.19,128.99 L154.42,129.05 L154.65,129.11 L154.88,129.18 L155.11,129.24 L155.34,129.30 L155.57,129.37 L155.80,129.43 L156.03,129.50 L156.26,129.56 L156.49,129.62 L156.72,129.69 L156.95,129.75 L157.18,129.82 L157.41,129.88 L157.64,129.94 L157.87,130.01 L158.10,130.07 L158.33,130.13 L158.56,130.20 L158.79,130.26 L159.02,130.32 L159.25,130.38 L159.48,130.45 L159.71,130.51 L159.95,130.57 L160.18,130.63 L160.41,130.69 L160.64,130.75 L160.87,130.81 L161.10,130.86 L161.33,130.92 L161.56,130.98 L161.79,131.03 L162.02,131.09 L162.25,131.14 L162.48,131.20 L162.71,131.25 L162.94,131.30 L163.17,131.35 L163.40,131.40 L163.63,131.45 L163.86,131.50 L164.09,131.54 L164.32,131.59 L164.55,131.64 L164.78,131.68 L165.01,131.72 L165.24,131.76 L165.47,131.80 L165.70,131.84 L165.93,131.88 L166.16,131.92 L166.39,131.95 L166.62,131.99 L166.85,132.02 L167.08,132.05 L167.32,132.08 L167.55,132.11 L167.78,132.13 L168.01,132.16 L168.24,132.18 L168.47,132.20 L168.70,132.22 L168.93,132.24 L169.16,132.26 L169.39,132.27 L169.62,132.28 L169.85,132.29 L170.08,132.30 L170.31,132.31 L170.54,132.32 L170.77,132.32 L171.00,132.32 L171.23,132.32 L171.46,132.32 L171.69,132.32 L171.92,132.31 L172.15,132.31 L172.38,132.30 L172.61,132.29 L172.84,132.28 L173.07,132.26 L173.30,132.25 L173.53,132.23 L173.76,132.22 L173.99,132.20 L174.22,132.18 L174.45,132.16 L174.69,132.13 L174.92,132.11 L175.15,132.08 L175.38,132.06 L175.61,132.03 L175.84,132.00 L176.07,131.97 L176.30,131.94 L176.53,131.91 L176.76,131.87 L176.99,131.84 L177.22,131.80 L177.45,131.76 L177.68,131.73 L177.91,131.69 L178.14,131.65 L178.37,131.61 L178.60,131.57 L178.83,131.52 L179.06,131.48 L179.29,131.44 L179.52,131.39 L179.75,131.34 L179.98,131.30 L180.21,131.25 L180.44,131.20 L180.67,131.15 L180.90,131.11 L181.13,131.06 L181.36,131.01 L181.59,130.96 L181.82,130.90 L182.06,130.85 L182.29,130.80 L182.52,130.75 L182.75,130.69 L182.98,130.64 L183.21,130.59 L183.44,130.53 L183.67,130.48 L183.90,130.42 L184.13,130.37 L184.36,130.31 L184.59,130.26 L184.82,130.20 L185.05,130.15 L185.28,130.09 L185.51,130.03 L185.74,129.98 L185.97,129.92 L186.20,129.87 L186.43,129.81 L186.66,129.75 L186.89,129.70 L187.12,129.64 L187.35,129.59 L187.58,129.53 L187.81,129.48 L188.04,129.42 L188.27,129.37 L188.50,129.31 L188.73,129.26 L188.96,129.20 L189.19,129.15 L189.42,129.09 L189.66,129.04 L189.89,128.99 L190.12,128.93 L190.35,128.88 L190.58,128.83 L190.81,128.78 L191.04,128.72 L191.27,128.67 L191.50,128.62 L191.73,128.57 L191.96,128.52 L192.19,128.47 L192.42,128.42 L192.65,128.37 L192.88,128.32 L193.11,128.27 L193.34,128.22 L193.57,128.17 L193.80,128.12 L194.03,128.07 L194.26,128.02 L194.49,127.98 L194.72,127.93 L194.95,127.88 L195.18,127.84 L195.41,127.79 L195.64,127.75 L195.87,127.70 L196.10,127.66 L196.33,127.61 L196.56,127.57 L196.79,127.53 L197.03,127.49 L197.26,127.44 L197.49,127.40 L197.72,127.36 L197.95,127.32 L198.18,127.28 L198.41,127.24 L198.64,127.20 L198.87,127.16 L199.10,127.13 L199.33,127.09 L199.56,127.05 L199.79,127.02 L200.02,126.98 L200.25,126.95 L200.48,126.91 L200.71,126.88 L200.94,126.85 L201.17,126.81 L201.40,126.78 L201.63,126.75 L201.86,126.72 L202.09,126.69 L202.32,126.66 L202.55,126.63 L202.78,126.61 L203.01,126.58 L203.24,126.55 L203.47,126.53 L203.70,126.50 L203.93,126.48 L204.16,126.45 L204.40,126.43 L204.63,126.41 L204.86,126.39 L205.09,126.37 L205.32,126.35 L205.55,126.33 L205.78,126.31 L206.01,126.29 L206.24,126.28 L206.47,126.26 L206.70,126.25 L206.93,126.23 L207.16,126.22 L207.39,126.21 L207.62,126.19 L207.85,126.18 L208.08,126.17 L208.31,126.16 L208.54,126.16 L208.77,126.15 L209.00,126.14 L209.23,126.14 L209.46,126.13 L209.69,126.13 L209.92,126.12 L210.15,126.12 L210.38,126.12 L210.61,126.12 L210.84,126.12 L211.07,126.12 L211.30,126.12 L211.53,126.12 L211.77,126.12 L212.00,126.12 L212.23,126.13 L212.46,126.13 L212.69,126.14 L212.92,126.14 L213.15,126.15 L213.38,126.15 L213.61,126.16 L213.84,126.17 L214.07,126.18 L214.30,126.19 L214.53,126.20 L214.76,126.21 L214.99,126.22 L215.22,126.23 L215.45,126.24 L215.68,126.25 L215.91,126.26 L216.14,126.28 L216.37,126.29 L216.60,126.30 L216.83,126.32 L217.06,126.33 L217.29,126.35 L217.52,126.36 L217.75,126.38 L217.98,126.40 L218.21,126.41 L218.44,126.43 L218.67,126.45 L218.90,126.46 L219.14,126.48 L219.37,126.50 L219.60,126.52 L219.83,126.54 L220.06,126.56 L220.29,126.58 L220.52,126.60 L220.75,126.62 L220.98,126.64 L221.21,126.66 L221.44,126.68 L221.67,126.70 L221.90,126.72 L222.13,126.74 L222.36,126.77 L222.59,126.79 L222.82,126.81 L223.05,126.83 L223.28,126.86 L223.51,126.88 L223.74,126.90 L223.97,126.92 L224.20,126.95 L224.43,126.97 L224.66,126.99 L224.89,127.02 L225.12,127.04 L225.35,127.06 L225.58,127.09 L225.81,127.11 L226.04,127.13 L226.27,127.16 L226.51,127.18 L226.74,127.20 L226.97,127.23 L227.20,127.25 L227.43,127.27 L227.66,127.30 L227.89,127.32 L228.12,127.34 L228.35,127.37 L228.58,127.39 L228.81,127.41 L229.04,127.43 L229.27,127.46 L229.50,127.48 L229.73,127.50 L229.96,127.52 L230.19,127.55 L230.42,127.57 L230.65,127.59 L230.88,127.62 L231.11,127.64 L231.34,127.66 L231.57,127.68 L231.80,127.70 L232.03,127.73 L232.26,127.75 L232.49,127.77 L232.72,127.79 L232.95,127.81 L233.18,127.84 L233.41,127.86 L233.64,127.88 L233.88,127.90 L234.11,127.92 L234.34,127.95 L234.57,127.97 L234.80,127.99 L235.03,128.01 L235.26,128.03 L235.49,128.05 L235.72,128.07 L235.95,128.10 L236.18,128.12 L236.41,128.14 L236.64,128.16 L236.87,128.18 L237.10,128.20 L237.33,128.22 L237.56,128.24 L237.79,128.27 L238.02,128.29 L238.25,128.31 L238.48,128.33 L238.71,128.35 L238.94,128.37 L239.17,128.39 L239.40,128.41 L239.63,128.43 L239.86,128.45 L240.09,128.47 L240.32,128.50 L240.55,128.52 L240.78,128.54 L241.01,128.56 L241.25,128.58 L241.48,128.60 L241.71,128.62 L241.94,128.64 L242.17,128.66 L242.40,128.68 L242.63,128.70 L242.86,128.72 L243.09,128.74 L243.32,128.76 L243.55,128.78 L243.78,128.80 L244.01,128.82 L244.24,128.84 L244.47,128.86 L244.70,128.88 L244.93,128.90 L245.16,128.93 L245.39,128.95 L245.62,128.97 L245.85,128.99 L246.08,129.01 L246.31,129.03 L246.54,129.05 L246.77,129.07 L247.00,129.09 L247.23,129.11 L247.46,129.13 L247.69,129.15 L247.92,129.17 L248.15,129.19 L248.38,129.21 L248.62,129.23 L248.85,129.25 L249.08,129.27 L249.31,129.29 L249.54,129.31 L249.77,129.33 L250.00,129.35 L250.23,129.37 L250.46,129.39 L250.69,129.41 L250.92,129.43 L251.15,129.45 L251.38,129.47 L251.61,129.49 L251.84,129.51 L252.07,129.53 L252.30,129.55" fill="none" stroke="#000" stroke-width="2.6" stroke-dasharray="2.6,3.85" stroke-linejoin="round"/>
</g>
<path d="M45.25,14.8 L45.25,173.55 L252.3,173.55" fill="none" stroke="#000" stroke-width="0.95" stroke-linecap="square"/>
<line x1="41.25" y1="173.55" x2="45.25" y2="173.55" stroke="#000" stroke-width="0.95"/>
<text x="36.65" y="178.70" font-size="12.0" text-anchor="end">0.0</text>
<line x1="41.25" y1="150.87" x2="45.25" y2="150.87" stroke="#000" stroke-width="0.95"/>
<text x="36.65" y="156.02" font-size="12.0" text-anchor="end">0.5</text>
<line x1="41.25" y1="128.19" x2="45.25" y2="128.19" stroke="#000" stroke-width="0.95"/>
<text x="36.65" y="133.34" font-size="12.0" text-anchor="end">1.0</text>
<line x1="41.25" y1="105.51" x2="45.25" y2="105.51" stroke="#000" stroke-width="0.95"/>
<text x="36.65" y="110.66" font-size="12.0" text-anchor="end">1.5</text>
<line x1="41.25" y1="82.84" x2="45.25" y2="82.84" stroke="#000" stroke-width="0.95"/>
<text x="36.65" y="87.99" font-size="12.0" text-anchor="end">2.0</text>
<line x1="41.25" y1="60.16" x2="45.25" y2="60.16" stroke="#000" stroke-width="0.95"/>
<text x="36.65" y="65.31" font-size="12.0" text-anchor="end">2.5</text>
<line x1="41.25" y1="37.48" x2="45.25" y2="37.48" stroke="#000" stroke-width="0.95"/>
<text x="36.65" y="42.63" font-size="12.0" text-anchor="end">3.0</text>
<line x1="41.25" y1="14.80" x2="45.25" y2="14.80" stroke="#000" stroke-width="0.95"/>
<text x="36.65" y="19.95" font-size="12.0" text-anchor="end">3.5</text>
<line x1="45.25" y1="173.55" x2="45.25" y2="177.55" stroke="#000" stroke-width="0.95"/>
<text x="45.25" y="191.45" font-size="12.0" text-anchor="middle">2</text>
<line x1="79.76" y1="173.55" x2="79.76" y2="177.55" stroke="#000" stroke-width="0.95"/>
<text x="79.76" y="191.45" font-size="12.0" text-anchor="middle">3</text>
<line x1="114.27" y1="173.55" x2="114.27" y2="177.55" stroke="#000" stroke-width="0.95"/>
<text x="114.27" y="191.45" font-size="12.0" text-anchor="middle">4</text>
<line x1="148.78" y1="173.55" x2="148.78" y2="177.55" stroke="#000" stroke-width="0.95"/>
<text x="148.78" y="191.45" font-size="12.0" text-anchor="middle">5</text>
<line x1="183.28" y1="173.55" x2="183.28" y2="177.55" stroke="#000" stroke-width="0.95"/>
<text x="183.28" y="191.45" font-size="12.0" text-anchor="middle">6</text>
<line x1="217.79" y1="173.55" x2="217.79" y2="177.55" stroke="#000" stroke-width="0.95"/>
<text x="217.79" y="191.45" font-size="12.0" text-anchor="middle">7</text>
<line x1="252.30" y1="173.55" x2="252.30" y2="177.55" stroke="#000" stroke-width="0.95"/>
<text x="252.30" y="191.45" font-size="12.0" text-anchor="middle">8</text>
<clipPath id="c01"><rect x="293.85" y="14.8" width="207.00" height="158.75"/></clipPath>
<g clip-path="url(#c01)">
<path d="M293.85,173.70 L294.08,173.70 L294.31,173.70 L294.54,173.70 L294.77,173.70 L295.00,173.70 L295.23,173.70 L295.46,173.70 L295.69,173.70 L295.92,173.70 L296.15,173.70 L296.38,173.70 L296.61,173.70 L296.84,173.70 L297.07,173.70 L297.30,173.70 L297.53,173.70 L297.76,173.70 L297.99,173.70 L298.22,173.70 L298.46,173.70 L298.69,173.70 L298.92,173.70 L299.15,173.70 L299.38,173.70 L299.61,173.70 L299.84,173.70 L300.07,173.70 L300.30,173.70 L300.53,173.70 L300.76,173.70 L300.99,173.70 L301.22,173.70 L301.45,173.70 L301.68,173.70 L301.91,173.70 L302.14,173.70 L302.37,173.69 L302.60,173.52 L302.83,173.09 L303.06,172.33 L303.29,171.22 L303.52,169.79 L303.75,168.06 L303.98,166.08 L304.21,163.87 L304.44,161.46 L304.67,158.89 L304.90,156.18 L305.13,153.36 L305.36,150.47 L305.59,147.54 L305.82,144.60 L306.05,141.67 L306.28,138.80 L306.51,136.00 L306.74,133.27 L306.97,130.59 L307.20,127.95 L307.44,125.33 L307.67,122.71 L307.90,120.09 L308.13,117.44 L308.36,114.75 L308.59,112.01 L308.82,109.19 L309.05,106.29 L309.28,103.28 L309.51,100.17 L309.74,96.99 L309.97,93.75 L310.20,90.49 L310.43,87.23 L310.66,84.01 L310.89,80.84 L311.12,77.75 L311.35,74.77 L311.58,71.93 L311.81,69.25 L312.04,66.75 L312.27,64.43 L312.50,62.32 L312.73,60.42 L312.96,58.76 L313.19,57.34 L313.42,56.18 L313.65,55.28 L313.88,54.67 L314.11,54.34 L314.34,54.32 L314.57,54.60 L314.80,55.18 L315.03,56.04 L315.26,57.16 L315.49,58.55 L315.72,60.18 L315.95,62.04 L316.18,64.10 L316.42,66.33 L316.65,68.69 L316.88,71.15 L317.11,73.68 L317.34,76.25 L317.57,78.82 L317.80,81.36 L318.03,83.85 L318.26,86.28 L318.49,88.66 L318.72,90.98 L318.95,93.26 L319.18,95.49 L319.41,97.68 L319.64,99.83 L319.87,101.95 L320.10,104.04 L320.33,106.11 L320.56,108.15 L320.79,110.16 L321.02,112.16 L321.25,114.13 L321.48,116.07 L321.71,117.98 L321.94,119.85 L322.17,121.69 L322.40,123.48 L322.63,125.23 L322.86,126.93 L323.09,128.57 L323.32,130.17 L323.55,131.70 L323.78,133.18 L324.01,134.59 L324.24,135.93 L324.47,137.20 L324.70,138.40 L324.93,139.53 L325.16,140.60 L325.40,141.60 L325.63,142.54 L325.86,143.42 L326.09,144.25 L326.32,145.03 L326.55,145.77 L326.78,146.46 L327.01,147.10 L327.24,147.71 L327.47,148.28 L327.70,148.82 L327.93,149.34 L328.16,149.82 L328.39,150.28 L328.62,150.72 L328.85,151.13 L329.08,151.52 L329.31,151.88 L329.54,152.23 L329.77,152.54 L330.00,152.83 L330.23,153.10 L330.46,153.35 L330.69,153.57 L330.92,153.76 L331.15,153.93 L331.38,154.08 L331.61,154.20 L331.84,154.30 L332.07,154.37 L332.30,154.42 L332.53,154.44 L332.76,154.44 L332.99,154.41 L333.22,154.34 L333.45,154.25 L333.68,154.13 L333.91,153.97 L334.14,153.77 L334.38,153.54 L334.61,153.27 L334.84,152.96 L335.07,152.61 L335.30,152.22 L335.53,151.78 L335.76,151.30 L335.99,150.77 L336.22,150.19 L336.45,149.57 L336.68,148.89 L336.91,148.17 L337.14,147.40 L337.37,146.60 L337.60,145.77 L337.83,144.90 L338.06,144.01 L338.29,143.10 L338.52,142.17 L338.75,141.23 L338.98,140.27 L339.21,139.32 L339.44,138.36 L339.67,137.41 L339.90,136.46 L340.13,135.50 L340.36,134.53 L340.59,133.55 L340.82,132.54 L341.05,131.49 L341.28,130.40 L341.51,129.25 L341.74,128.05 L341.97,126.79 L342.20,125.45 L342.43,124.06 L342.66,122.60 L342.89,121.09 L343.12,119.54 L343.36,117.95 L343.59,116.32 L343.82,114.67 L344.05,112.99 L344.28,111.28 L344.51,109.55 L344.74,107.79 L344.97,106.00 L345.20,104.18 L345.43,102.33 L345.66,100.44 L345.89,98.53 L346.12,96.58 L346.35,94.59 L346.58,92.58 L346.81,90.52 L347.04,88.43 L347.27,86.31 L347.50,84.17 L347.73,82.02 L347.96,79.86 L348.19,77.71 L348.42,75.57 L348.65,73.45 L348.88,71.36 L349.11,69.30 L349.34,67.28 L349.57,65.30 L349.80,63.36 L350.03,61.47 L350.26,59.64 L350.49,57.85 L350.72,56.13 L350.95,54.46 L351.18,52.85 L351.41,51.29 L351.64,49.79 L351.87,48.33 L352.10,46.93 L352.33,45.57 L352.57,44.27 L352.80,43.01 L353.03,41.80 L353.26,40.64 L353.49,39.53 L353.72,38.47 L353.95,37.47 L354.18,36.53 L354.41,35.64 L354.64,34.81 L354.87,34.05 L355.10,33.35 L355.33,32.72 L355.56,32.16 L355.79,31.68 L356.02,31.29 L356.25,30.98 L356.48,30.76 L356.71,30.63 L356.94,30.60 L357.17,30.67 L357.40,30.84 L357.63,31.09 L357.86,31.41 L358.09,31.81 L358.32,32.27 L358.55,32.78 L358.78,33.33 L359.01,33.93 L359.24,34.56 L359.47,35.21 L359.70,35.88 L359.93,36.56 L360.16,37.27 L360.39,37.98 L360.62,38.72 L360.85,39.47 L361.08,40.23 L361.31,41.01 L361.55,41.80 L361.78,42.60 L362.01,43.42 L362.24,44.24 L362.47,45.08 L362.70,45.92 L362.93,46.78 L363.16,47.64 L363.39,48.52 L363.62,49.40 L363.85,50.30 L364.08,51.20 L364.31,52.11 L364.54,53.03 L364.77,53.96 L365.00,54.90 L365.23,55.84 L365.46,56.80 L365.69,57.76 L365.92,58.73 L366.15,59.70 L366.38,60.68 L366.61,61.66 L366.84,62.63 L367.07,63.60 L367.30,64.56 L367.53,65.51 L367.76,66.44 L367.99,67.36 L368.22,68.26 L368.45,69.13 L368.68,69.98 L368.91,70.80 L369.14,71.59 L369.37,72.36 L369.60,73.09 L369.83,73.80 L370.06,74.48 L370.29,75.14 L370.53,75.77 L370.76,76.38 L370.99,76.97 L371.22,77.53 L371.45,78.08 L371.68,78.60 L371.91,79.10 L372.14,79.58 L372.37,80.05 L372.60,80.50 L372.83,80.93 L373.06,81.34 L373.29,81.74 L373.52,82.12 L373.75,82.49 L373.98,82.84 L374.21,83.18 L374.44,83.50 L374.67,83.82 L374.90,84.11 L375.13,84.40 L375.36,84.67 L375.59,84.93 L375.82,85.18 L376.05,85.42 L376.28,85.65 L376.51,85.87 L376.74,86.08 L376.97,86.28 L377.20,86.47 L377.43,86.65 L377.66,86.82 L377.89,86.99 L378.12,87.14 L378.35,87.29 L378.58,87.43 L378.81,87.57 L379.04,87.70 L379.27,87.82 L379.51,87.94 L379.74,88.05 L379.97,88.15 L380.20,88.25 L380.43,88.35 L380.66,88.44 L380.89,88.53 L381.12,88.61 L381.35,88.69 L381.58,88.77 L381.81,88.84 L382.04,88.91 L382.27,88.98 L382.50,89.04 L382.73,89.11 L382.96,89.17 L383.19,89.23 L383.42,89.29 L383.65,89.35 L383.88,89.41 L384.11,89.46 L384.34,89.51 L384.57,89.57 L384.80,89.62 L385.03,89.66 L385.26,89.71 L385.49,89.76 L385.72,89.80 L385.95,89.84 L386.18,89.89 L386.41,89.92 L386.64,89.96 L386.87,90.00 L387.10,90.03 L387.33,90.07 L387.56,90.10 L387.79,90.13 L388.02,90.16 L388.25,90.19 L388.49,90.21 L388.72,90.24 L388.95,90.26 L389.18,90.28 L389.41,90.30 L389.64,90.32 L389.87,90.33 L390.10,90.35 L390.33,90.36 L390.56,90.37 L390.79,90.38 L391.02,90.39 L391.25,90.40 L391.48,90.41 L391.71,90.41 L391.94,90.41 L392.17,90.42 L392.40,90.41 L392.63,90.41 L392.86,90.41 L393.09,90.40 L393.32,90.40 L393.55,90.39 L393.78,90.38 L394.01,90.37 L394.24,90.36 L394.47,90.34 L394.70,90.33 L394.93,90.31 L395.16,90.29 L395.39,90.27 L395.62,90.25 L395.85,90.23 L396.08,90.20 L396.31,90.18 L396.54,90.15 L396.77,90.12 L397.00,90.09 L397.23,90.06 L397.47,90.02 L397.70,89.99 L397.93,89.95 L398.16,89.91 L398.39,89.87 L398.62,89.83 L398.85,89.79 L399.08,89.75 L399.31,89.71 L399.54,89.66 L399.77,89.61 L400.00,89.57 L400.23,89.52 L400.46,89.47 L400.69,89.42 L400.92,89.37 L401.15,89.31 L401.38,89.26 L401.61,89.20 L401.84,89.15 L402.07,89.09 L402.30,89.03 L402.53,88.98 L402.76,88.92 L402.99,88.86 L403.22,88.80 L403.45,88.74 L403.68,88.67 L403.91,88.61 L404.14,88.55 L404.37,88.48 L404.60,88.42 L404.83,88.35 L405.06,88.29 L405.29,88.22 L405.52,88.15 L405.75,88.08 L405.98,88.02 L406.21,87.95 L406.45,87.88 L406.68,87.81 L406.91,87.74 L407.14,87.67 L407.37,87.60 L407.60,87.53 L407.83,87.46 L408.06,87.38 L408.29,87.31 L408.52,87.24 L408.75,87.17 L408.98,87.10 L409.21,87.02 L409.44,86.95 L409.67,86.88 L409.90,86.81 L410.13,86.73 L410.36,86.66 L410.59,86.59 L410.82,86.51 L411.05,86.44 L411.28,86.37 L411.51,86.30 L411.74,86.23 L411.97,86.15 L412.20,86.08 L412.43,86.01 L412.66,85.94 L412.89,85.87 L413.12,85.80 L413.35,85.73 L413.58,85.66 L413.81,85.59 L414.04,85.52 L414.27,85.45 L414.50,85.39 L414.73,85.32 L414.96,85.25 L415.19,85.19 L415.43,85.12 L415.66,85.06 L415.89,84.99 L416.12,84.93 L416.35,84.87 L416.58,84.81 L416.81,84.75 L417.04,84.69 L417.27,84.63 L417.50,84.57 L417.73,84.52 L417.96,84.46 L418.19,84.41 L418.42,84.35 L418.65,84.30 L418.88,84.25 L419.11,84.20 L419.34,84.15 L419.57,84.10 L419.80,84.06 L420.03,84.01 L420.26,83.97 L420.49,83.93 L420.72,83.88 L420.95,83.85 L421.18,83.81 L421.41,83.77 L421.64,83.74 L421.87,83.70 L422.10,83.67 L422.33,83.64 L422.56,83.61 L422.79,83.58 L423.02,83.56 L423.25,83.54 L423.48,83.51 L423.71,83.49 L423.94,83.48 L424.17,83.46 L424.41,83.44 L424.64,83.43 L424.87,83.42 L425.10,83.41 L425.33,83.41 L425.56,83.40 L425.79,83.40 L426.02,83.40 L426.25,83.40 L426.48,83.40 L426.71,83.41 L426.94,83.42 L427.17,83.43 L427.40,83.44 L427.63,83.45 L427.86,83.47 L428.09,83.48 L428.32,83.50 L428.55,83.52 L428.78,83.54 L429.01,83.56 L429.24,83.59 L429.47,83.62 L429.70,83.64 L429.93,83.67 L430.16,83.70 L430.39,83.73 L430.62,83.77 L430.85,83.80 L431.08,83.84 L431.31,83.87 L431.54,83.91 L431.77,83.95 L432.00,83.99 L432.23,84.03 L432.46,84.08 L432.69,84.12 L432.92,84.16 L433.15,84.21 L433.39,84.26 L433.62,84.30 L433.85,84.35 L434.08,84.40 L434.31,84.45 L434.54,84.50 L434.77,84.55 L435.00,84.60 L435.23,84.65 L435.46,84.70 L435.69,84.76 L435.92,84.81 L436.15,84.86 L436.38,84.92 L436.61,84.97 L436.84,85.03 L437.07,85.08 L437.30,85.14 L437.53,85.19 L437.76,85.25 L437.99,85.31 L438.22,85.36 L438.45,85.42 L438.68,85.47 L438.91,85.53 L439.14,85.59 L439.37,85.64 L439.60,85.70 L439.83,85.75 L440.06,85.81 L440.29,85.86 L440.52,85.92 L440.75,85.97 L440.98,86.03 L441.21,86.08 L441.44,86.13 L441.67,86.19 L441.90,86.24 L442.13,86.29 L442.37,86.34 L442.60,86.39 L442.83,86.44 L443.06,86.49 L443.29,86.54 L443.52,86.59 L443.75,86.64 L443.98,86.69 L444.21,86.73 L444.44,86.78 L444.67,86.82 L444.90,86.86 L445.13,86.90 L445.36,86.95 L445.59,86.99 L445.82,87.02 L446.05,87.06 L446.28,87.10 L446.51,87.13 L446.74,87.17 L446.97,87.20 L447.20,87.23 L447.43,87.26 L447.66,87.29 L447.89,87.32 L448.12,87.35 L448.35,87.37 L448.58,87.39 L448.81,87.41 L449.04,87.43 L449.27,87.45 L449.50,87.47 L449.73,87.48 L449.96,87.50 L450.19,87.51 L450.42,87.52 L450.65,87.53 L450.88,87.53 L451.11,87.54 L451.34,87.54 L451.58,87.54 L451.81,87.54 L452.04,87.54 L452.27,87.54 L452.50,87.53 L452.73,87.53 L452.96,87.52 L453.19,87.51 L453.42,87.50 L453.65,87.49 L453.88,87.48 L454.11,87.46 L454.34,87.45 L454.57,87.43 L454.80,87.41 L455.03,87.39 L455.26,87.37 L455.49,87.35 L455.72,87.33 L455.95,87.30 L456.18,87.28 L456.41,87.25 L456.64,87.23 L456.87,87.20 L457.10,87.17 L457.33,87.14 L457.56,87.11 L457.79,87.08 L458.02,87.04 L458.25,87.01 L458.48,86.98 L458.71,86.94 L458.94,86.91 L459.17,86.87 L459.40,86.83 L459.63,86.80 L459.86,86.76 L460.09,86.72 L460.32,86.68 L460.56,86.64 L460.79,86.60 L461.02,86.56 L461.25,86.52 L461.48,86.48 L461.71,86.44 L461.94,86.40 L462.17,86.35 L462.40,86.31 L462.63,86.27 L462.86,86.22 L463.09,86.18 L463.32,86.14 L463.55,86.09 L463.78,86.05 L464.01,86.00 L464.24,85.96 L464.47,85.91 L464.70,85.87 L464.93,85.83 L465.16,85.78 L465.39,85.74 L465.62,85.69 L465.85,85.65 L466.08,85.60 L466.31,85.56 L466.54,85.52 L466.77,85.47 L467.00,85.43 L467.23,85.39 L467.46,85.34 L467.69,85.30 L467.92,85.26 L468.15,85.22 L468.38,85.17 L468.61,85.13 L468.84,85.09 L469.07,85.05 L469.30,85.01 L469.54,84.97 L469.77,84.93 L470.00,84.89 L470.23,84.85 L470.46,84.81 L470.69,84.77 L470.92,84.73 L471.15,84.70 L471.38,84.66 L471.61,84.62 L471.84,84.59 L472.07,84.55 L472.30,84.52 L472.53,84.48 L472.76,84.45 L472.99,84.42 L473.22,84.38 L473.45,84.35 L473.68,84.32 L473.91,84.29 L474.14,84.26 L474.37,84.23 L474.60,84.20 L474.83,84.17 L475.06,84.14 L475.29,84.12 L475.52,84.09 L475.75,84.06 L475.98,84.04 L476.21,84.02 L476.44,83.99 L476.67,83.97 L476.90,83.95 L477.13,83.93 L477.36,83.91 L477.59,83.89 L477.82,83.87 L478.05,83.85 L478.28,83.83 L478.52,83.82 L478.75,83.80 L478.98,83.79 L479.21,83.78 L479.44,83.77 L479.67,83.75 L479.90,83.74 L480.13,83.73 L480.36,83.73 L480.59,83.72 L480.82,83.71 L481.05,83.71 L481.28,83.70 L481.51,83.70 L481.74,83.70 L481.97,83.70 L482.20,83.70 L482.43,83.70 L482.66,83.70 L482.89,83.71 L483.12,83.71 L483.35,83.72 L483.58,83.72 L483.81,83.73 L484.04,83.74 L484.27,83.75 L484.50,83.76 L484.73,83.77 L484.96,83.79 L485.19,83.80 L485.42,83.81 L485.65,83.83 L485.88,83.84 L486.11,83.86 L486.34,83.87 L486.57,83.89 L486.80,83.91 L487.03,83.93 L487.26,83.95 L487.50,83.97 L487.73,83.99 L487.96,84.01 L488.19,84.03 L488.42,84.05 L488.65,84.07 L488.88,84.09 L489.11,84.11 L489.34,84.14 L489.57,84.16 L489.80,84.18 L490.03,84.21 L490.26,84.23 L490.49,84.25 L490.72,84.28 L490.95,84.30 L491.18,84.32 L491.41,84.35 L491.64,84.37 L491.87,84.40 L492.10,84.42 L492.33,84.44 L492.56,84.47 L492.79,84.49 L493.02,84.51 L493.25,84.54 L493.48,84.56 L493.71,84.58 L493.94,84.61 L494.17,84.63 L494.40,84.65 L494.63,84.67 L494.86,84.69 L495.09,84.71 L495.32,84.73 L495.55,84.75 L495.78,84.77 L496.01,84.79 L496.24,84.81 L496.48,84.82 L496.71,84.84 L496.94,84.86 L497.17,84.87 L497.40,84.89 L497.63,84.90 L497.86,84.91 L498.09,84.93 L498.32,84.94 L498.55,84.95 L498.78,84.96 L499.01,84.97 L499.24,84.97 L499.47,84.98 L499.70,84.99 L499.93,84.99 L500.16,85.00 L500.39,85.00 L500.62,85.00 L500.85,85.00" fill="none" stroke="#80f0f0" stroke-width="3.4" stroke-linejoin="round"/>
<path d="M293.85,173.70 L294.08,173.70 L294.31,173.70 L294.54,173.70 L294.77,173.70 L295.00,173.70 L295.23,173.70 L295.46,173.70 L295.69,173.70 L295.92,173.70 L296.15,173.70 L296.38,173.70 L296.61,173.70 L296.84,173.70 L297.07,173.70 L297.30,173.70 L297.53,173.70 L297.76,173.70 L297.99,173.70 L298.22,173.70 L298.46,173.70 L298.69,173.70 L298.92,173.70 L299.15,173.70 L299.38,173.70 L299.61,173.70 L299.84,173.70 L300.07,173.70 L300.30,173.70 L300.53,173.70 L300.76,173.70 L300.99,173.70 L301.22,173.70 L301.45,173.70 L301.68,173.70 L301.91,173.70 L302.14,173.70 L302.37,173.70 L302.60,173.70 L302.83,173.70 L303.06,173.70 L303.29,173.70 L303.52,173.70 L303.75,173.70 L303.98,173.70 L304.21,173.67 L304.44,172.70 L304.67,171.46 L304.90,169.94 L305.13,168.19 L305.36,166.21 L305.59,164.05 L305.82,161.73 L306.05,159.26 L306.28,156.68 L306.51,154.01 L306.74,151.27 L306.97,148.50 L307.20,145.70 L307.44,142.92 L307.67,140.18 L307.90,137.49 L308.13,134.87 L308.36,132.30 L308.59,129.76 L308.82,127.22 L309.05,124.68 L309.28,122.10 L309.51,119.47 L309.74,116.77 L309.97,113.99 L310.20,111.09 L310.43,108.06 L310.66,104.89 L310.89,101.55 L311.12,98.09 L311.35,94.57 L311.58,91.05 L311.81,87.59 L312.04,84.24 L312.27,81.07 L312.50,78.14 L312.73,75.51 L312.96,73.24 L313.19,71.38 L313.42,69.89 L313.65,68.71 L313.88,67.78 L314.11,67.03 L314.34,66.40 L314.57,65.82 L314.80,65.26 L315.03,64.71 L315.26,64.20 L315.49,63.73 L315.72,63.30 L315.95,62.93 L316.18,62.62 L316.42,62.40 L316.65,62.28 L316.88,62.32 L317.11,62.59 L317.34,63.13 L317.57,64.01 L317.80,65.28 L318.03,67.00 L318.26,69.14 L318.49,71.60 L318.72,74.29 L318.95,77.10 L319.18,79.93 L319.41,82.68 L319.64,85.32 L319.87,87.84 L320.10,90.27 L320.33,92.59 L320.56,94.84 L320.79,97.01 L321.02,99.13 L321.25,101.18 L321.48,103.20 L321.71,105.19 L321.94,107.15 L322.17,109.11 L322.40,111.05 L322.63,112.99 L322.86,114.91 L323.09,116.81 L323.32,118.69 L323.55,120.54 L323.78,122.36 L324.01,124.14 L324.24,125.88 L324.47,127.58 L324.70,129.23 L324.93,130.82 L325.16,132.35 L325.40,133.82 L325.63,135.22 L325.86,136.55 L326.09,137.81 L326.32,138.99 L326.55,140.09 L326.78,141.14 L327.01,142.11 L327.24,143.03 L327.47,143.89 L327.70,144.69 L327.93,145.44 L328.16,146.15 L328.39,146.81 L328.62,147.43 L328.85,148.01 L329.08,148.56 L329.31,149.08 L329.54,149.58 L329.77,150.04 L330.00,150.49 L330.23,150.91 L330.46,151.31 L330.69,151.68 L330.92,152.04 L331.15,152.37 L331.38,152.67 L331.61,152.95 L331.84,153.21 L332.07,153.44 L332.30,153.65 L332.53,153.84 L332.76,154.00 L332.99,154.14 L333.22,154.25 L333.45,154.33 L333.68,154.40 L333.91,154.43 L334.14,154.45 L334.38,154.43 L334.61,154.38 L334.84,154.31 L335.07,154.20 L335.30,154.06 L335.53,153.88 L335.76,153.67 L335.99,153.42 L336.22,153.13 L336.45,152.80 L336.68,152.43 L336.91,152.01 L337.14,151.56 L337.37,151.05 L337.60,150.50 L337.83,149.90 L338.06,149.24 L338.29,148.54 L338.52,147.80 L338.75,147.02 L338.98,146.20 L339.21,145.35 L339.44,144.47 L339.67,143.57 L339.90,142.65 L340.13,141.71 L340.36,140.76 L340.59,139.81 L340.82,138.85 L341.05,137.90 L341.28,136.95 L341.51,135.99 L341.74,135.03 L341.97,134.06 L342.20,133.06 L342.43,132.03 L342.66,130.96 L342.89,129.85 L343.12,128.68 L343.36,127.45 L343.59,126.15 L343.82,124.78 L344.05,123.36 L344.28,121.87 L344.51,120.34 L344.74,118.77 L344.97,117.16 L345.20,115.52 L345.43,113.85 L345.66,112.16 L345.89,110.44 L346.12,108.70 L346.35,106.92 L346.58,105.12 L346.81,103.28 L347.04,101.42 L347.27,99.52 L347.50,97.59 L347.73,95.62 L347.96,93.62 L348.19,91.58 L348.42,89.51 L348.65,87.40 L348.88,85.27 L349.11,83.13 L349.34,80.97 L349.57,78.81 L349.80,76.67 L350.03,74.54 L350.26,72.43 L350.49,70.35 L350.72,68.31 L350.95,66.31 L351.18,64.35 L351.41,62.44 L351.64,60.58 L351.87,58.76 L352.10,57.01 L352.33,55.31 L352.57,53.67 L352.80,52.09 L353.03,50.55 L353.26,49.07 L353.49,47.64 L353.72,46.27 L353.95,44.93 L354.18,43.65 L354.41,42.41 L354.64,41.23 L354.87,40.09 L355.10,39.01 L355.33,37.98 L355.56,37.01 L355.79,36.09 L356.02,35.23 L356.25,34.43 L356.48,33.70 L356.71,33.03 L356.94,32.44 L357.17,31.92 L357.40,31.48 L357.63,31.12 L357.86,30.86 L358.09,30.68 L358.32,30.60 L358.55,30.63 L358.78,30.74 L359.01,30.95 L359.24,31.24 L359.47,31.60 L359.70,32.02 L359.93,32.51 L360.16,33.04 L360.39,33.62 L360.62,34.23 L360.85,34.87 L361.08,35.53 L361.31,36.21 L361.55,36.90 L361.78,37.61 L362.01,38.34 L362.24,39.08 L362.47,39.84 L362.70,40.61 L362.93,41.39 L363.16,42.19 L363.39,43.00 L363.62,43.81 L363.85,44.65 L364.08,45.49 L364.31,46.34 L364.54,47.20 L364.77,48.07 L365.00,48.95 L365.23,49.83 L365.46,50.73 L365.69,51.64 L365.92,52.55 L366.15,53.48 L366.38,54.41 L366.61,55.35 L366.84,56.30 L367.07,57.26 L367.30,58.23 L367.53,59.20 L367.76,60.18 L367.99,61.15 L368.22,62.13 L368.45,63.10 L368.68,64.07 L368.91,65.02 L369.14,65.96 L369.37,66.89 L369.60,67.80 L369.83,68.68 L370.06,69.55 L370.29,70.38 L370.53,71.19 L370.76,71.97 L370.99,72.72 L371.22,73.44 L371.45,74.14 L371.68,74.81 L371.91,75.45 L372.14,76.07 L372.37,76.67 L372.60,77.25 L372.83,77.80 L373.06,78.33 L373.29,78.84 L373.52,79.34 L373.75,79.81 L373.98,80.27 L374.21,80.71 L374.44,81.13 L374.67,81.54 L374.90,81.93 L375.13,82.30 L375.36,82.66 L375.59,83.01 L375.82,83.34 L376.05,83.66 L376.28,83.96 L376.51,84.25 L376.74,84.53 L376.97,84.80 L377.20,85.06 L377.43,85.30 L377.66,85.54 L377.89,85.76 L378.12,85.97 L378.35,86.18 L378.58,86.37 L378.81,86.56 L379.04,86.73 L379.27,86.90 L379.51,87.06 L379.74,87.22 L379.97,87.36 L380.20,87.50 L380.43,87.63 L380.66,87.76 L380.89,87.88 L381.12,87.99 L381.35,88.10 L381.58,88.20 L381.81,88.30 L382.04,88.39 L382.27,88.48 L382.50,88.57 L382.73,88.65 L382.96,88.73 L383.19,88.80 L383.42,88.87 L383.65,88.94 L383.88,89.01 L384.11,89.08 L384.34,89.14 L384.57,89.20 L384.80,89.26 L385.03,89.32 L385.26,89.38 L385.49,89.43 L385.72,89.49 L385.95,89.54 L386.18,89.59 L386.41,89.64 L386.64,89.69 L386.87,89.73 L387.10,89.78 L387.33,89.82 L387.56,89.86 L387.79,89.90 L388.02,89.94 L388.25,89.98 L388.49,90.02 L388.72,90.05 L388.95,90.08 L389.18,90.11 L389.41,90.14 L389.64,90.17 L389.87,90.20 L390.10,90.22 L390.33,90.25 L390.56,90.27 L390.79,90.29 L391.02,90.31 L391.25,90.33 L391.48,90.34 L391.71,90.36 L391.94,90.37 L392.17,90.38 L392.40,90.39 L392.63,90.40 L392.86,90.40 L393.09,90.41 L393.32,90.41 L393.55,90.41 L393.78,90.42 L394.01,90.41 L394.24,90.41 L394.47,90.41 L394.70,90.40 L394.93,90.39 L395.16,90.39 L395.39,90.38 L395.62,90.36 L395.85,90.35 L396.08,90.34 L396.31,90.32 L396.54,90.30 L396.77,90.28 L397.00,90.26 L397.23,90.24 L397.47,90.21 L397.70,90.19 L397.93,90.16 L398.16,90.13 L398.39,90.10 L398.62,90.07 L398.85,90.04 L399.08,90.00 L399.31,89.97 L399.54,89.93 L399.77,89.89 L400.00,89.85 L400.23,89.81 L400.46,89.77 L400.69,89.73 L400.92,89.68 L401.15,89.64 L401.38,89.59 L401.61,89.54 L401.84,89.49 L402.07,89.44 L402.30,89.39 L402.53,89.34 L402.76,89.29 L402.99,89.23 L403.22,89.18 L403.45,89.12 L403.68,89.06 L403.91,89.01 L404.14,88.95 L404.37,88.89 L404.60,88.83 L404.83,88.77 L405.06,88.71 L405.29,88.64 L405.52,88.58 L405.75,88.52 L405.98,88.45 L406.21,88.39 L406.45,88.32 L406.68,88.25 L406.91,88.19 L407.14,88.12 L407.37,88.05 L407.60,87.98 L407.83,87.91 L408.06,87.84 L408.29,87.77 L408.52,87.70 L408.75,87.63 L408.98,87.56 L409.21,87.49 L409.44,87.42 L409.67,87.35 L409.90,87.28 L410.13,87.21 L410.36,87.13 L410.59,87.06 L410.82,86.99 L411.05,86.92 L411.28,86.84 L411.51,86.77 L411.74,86.70 L411.97,86.62 L412.20,86.55 L412.43,86.48 L412.66,86.41 L412.89,86.33 L413.12,86.26 L413.35,86.19 L413.58,86.12 L413.81,86.05 L414.04,85.98 L414.27,85.90 L414.50,85.83 L414.73,85.76 L414.96,85.69 L415.19,85.62 L415.43,85.56 L415.66,85.49 L415.89,85.42 L416.12,85.35 L416.35,85.29 L416.58,85.22 L416.81,85.15 L417.04,85.09 L417.27,85.03 L417.50,84.96 L417.73,84.90 L417.96,84.84 L418.19,84.78 L418.42,84.72 L418.65,84.66 L418.88,84.60 L419.11,84.54 L419.34,84.49 L419.57,84.43 L419.80,84.38 L420.03,84.33 L420.26,84.28 L420.49,84.22 L420.72,84.18 L420.95,84.13 L421.18,84.08 L421.41,84.03 L421.64,83.99 L421.87,83.95 L422.10,83.91 L422.33,83.87 L422.56,83.83 L422.79,83.79 L423.02,83.75 L423.25,83.72 L423.48,83.69 L423.71,83.66 L423.94,83.63 L424.17,83.60 L424.41,83.57 L424.64,83.55 L424.87,83.52 L425.10,83.50 L425.33,83.48 L425.56,83.47 L425.79,83.45 L426.02,83.44 L426.25,83.43 L426.48,83.42 L426.71,83.41 L426.94,83.40 L427.17,83.40 L427.40,83.40 L427.63,83.40 L427.86,83.40 L428.09,83.41 L428.32,83.41 L428.55,83.42 L428.78,83.43 L429.01,83.44 L429.24,83.46 L429.47,83.47 L429.70,83.49 L429.93,83.51 L430.16,83.53 L430.39,83.55 L430.62,83.58 L430.85,83.60 L431.08,83.63 L431.31,83.66 L431.54,83.69 L431.77,83.72 L432.00,83.75 L432.23,83.78 L432.46,83.82 L432.69,83.86 L432.92,83.89 L433.15,83.93 L433.39,83.97 L433.62,84.01 L433.85,84.05 L434.08,84.10 L434.31,84.14 L434.54,84.19 L434.77,84.23 L435.00,84.28 L435.23,84.33 L435.46,84.37 L435.69,84.42 L435.92,84.47 L436.15,84.52 L436.38,84.57 L436.61,84.63 L436.84,84.68 L437.07,84.73 L437.30,84.78 L437.53,84.84 L437.76,84.89 L437.99,84.95 L438.22,85.00 L438.45,85.05 L438.68,85.11 L438.91,85.17 L439.14,85.22 L439.37,85.28 L439.60,85.33 L439.83,85.39 L440.06,85.45 L440.29,85.50 L440.52,85.56 L440.75,85.61 L440.98,85.67 L441.21,85.72 L441.44,85.78 L441.67,85.84 L441.90,85.89 L442.13,85.94 L442.37,86.00 L442.60,86.05 L442.83,86.11 L443.06,86.16 L443.29,86.21 L443.52,86.26 L443.75,86.32 L443.98,86.37 L444.21,86.42 L444.44,86.47 L444.67,86.52 L444.90,86.57 L445.13,86.61 L445.36,86.66 L445.59,86.71 L445.82,86.75 L446.05,86.80 L446.28,86.84 L446.51,86.88 L446.74,86.92 L446.97,86.96 L447.20,87.00 L447.43,87.04 L447.66,87.08 L447.89,87.12 L448.12,87.15 L448.35,87.18 L448.58,87.22 L448.81,87.25 L449.04,87.28 L449.27,87.30 L449.50,87.33 L449.73,87.36 L449.96,87.38 L450.19,87.40 L450.42,87.42 L450.65,87.44 L450.88,87.46 L451.11,87.48 L451.34,87.49 L451.58,87.50 L451.81,87.51 L452.04,87.52 L452.27,87.53 L452.50,87.54 L452.73,87.54 L452.96,87.54 L453.19,87.54 L453.42,87.54 L453.65,87.54 L453.88,87.54 L454.11,87.53 L454.34,87.53 L454.57,87.52 L454.80,87.51 L455.03,87.50 L455.26,87.49 L455.49,87.47 L455.72,87.46 L455.95,87.44 L456.18,87.42 L456.41,87.41 L456.64,87.39 L456.87,87.36 L457.10,87.34 L457.33,87.32 L457.56,87.30 L457.79,87.27 L458.02,87.24 L458.25,87.22 L458.48,87.19 L458.71,87.16 L458.94,87.13 L459.17,87.10 L459.40,87.07 L459.63,87.03 L459.86,87.00 L460.09,86.97 L460.32,86.93 L460.56,86.90 L460.79,86.86 L461.02,86.82 L461.25,86.79 L461.48,86.75 L461.71,86.71 L461.94,86.67 L462.17,86.63 L462.40,86.59 L462.63,86.55 L462.86,86.51 L463.09,86.46 L463.32,86.42 L463.55,86.38 L463.78,86.34 L464.01,86.29 L464.24,86.25 L464.47,86.21 L464.70,86.16 L464.93,86.12 L465.16,86.07 L465.39,86.03 L465.62,85.99 L465.85,85.94 L466.08,85.90 L466.31,85.85 L466.54,85.81 L466.77,85.76 L467.00,85.72 L467.23,85.67 L467.46,85.63 L467.69,85.58 L467.92,85.54 L468.15,85.49 L468.38,85.45 L468.61,85.41 L468.84,85.36 L469.07,85.32 L469.30,85.27 L469.54,85.23 L469.77,85.19 L470.00,85.15 L470.23,85.10 L470.46,85.06 L470.69,85.02 L470.92,84.98 L471.15,84.94 L471.38,84.90 L471.61,84.86 L471.84,84.82 L472.07,84.78 L472.30,84.74 L472.53,84.70 L472.76,84.66 L472.99,84.63 L473.22,84.59 L473.45,84.55 L473.68,84.52 L473.91,84.48 L474.14,84.45 L474.37,84.41 L474.60,84.38 L474.83,84.35 L475.06,84.31 L475.29,84.28 L475.52,84.25 L475.75,84.22 L475.98,84.19 L476.21,84.16 L476.44,84.13 L476.67,84.11 L476.90,84.08 L477.13,84.05 L477.36,84.03 L477.59,84.00 L477.82,83.98 L478.05,83.96 L478.28,83.93 L478.52,83.91 L478.75,83.89 L478.98,83.87 L479.21,83.85 L479.44,83.84 L479.67,83.82 L479.90,83.81 L480.13,83.79 L480.36,83.78 L480.59,83.76 L480.82,83.75 L481.05,83.74 L481.28,83.73 L481.51,83.72 L481.74,83.72 L481.97,83.71 L482.20,83.70 L482.43,83.70 L482.66,83.70 L482.89,83.70 L483.12,83.69 L483.35,83.70 L483.58,83.70 L483.81,83.70 L484.04,83.70 L484.27,83.71 L484.50,83.72 L484.73,83.72 L484.96,83.73 L485.19,83.74 L485.42,83.75 L485.65,83.77 L485.88,83.78 L486.11,83.79 L486.34,83.81 L486.57,83.82 L486.80,83.84 L487.03,83.86 L487.26,83.87 L487.50,83.89 L487.73,83.91 L487.96,83.93 L488.19,83.95 L488.42,83.97 L488.65,83.99 L488.88,84.02 L489.11,84.04 L489.34,84.06 L489.57,84.09 L489.80,84.11 L490.03,84.13 L490.26,84.16 L490.49,84.18 L490.72,84.21 L490.95,84.23 L491.18,84.26 L491.41,84.28 L491.64,84.31 L491.87,84.33 L492.10,84.36 L492.33,84.38 L492.56,84.41 L492.79,84.44 L493.02,84.46 L493.25,84.49 L493.48,84.51 L493.71,84.54 L493.94,84.56 L494.17,84.58 L494.40,84.61 L494.63,84.63 L494.86,84.65 L495.09,84.68 L495.32,84.70 L495.55,84.72 L495.78,84.74 L496.01,84.76 L496.24,84.78 L496.48,84.80 L496.71,84.82 L496.94,84.84 L497.17,84.86 L497.40,84.87 L497.63,84.89 L497.86,84.90 L498.09,84.92 L498.32,84.93 L498.55,84.94 L498.78,84.95 L499.01,84.96 L499.24,84.97 L499.47,84.98 L499.70,84.99 L499.93,84.99 L500.16,85.00 L500.39,85.00 L500.62,85.00 L500.85,85.00" fill="none" stroke="#c81e24" stroke-width="2.6" stroke-dasharray="10.6,4.4" stroke-linejoin="round"/>
<path d="M293.85,173.70 L294.08,173.70 L294.31,173.70 L294.54,173.70 L294.77,173.70 L295.00,173.70 L295.23,173.70 L295.46,173.70 L295.69,173.70 L295.92,173.70 L296.15,173.70 L296.38,173.70 L296.61,173.70 L296.84,173.70 L297.07,173.70 L297.30,173.70 L297.53,173.70 L297.76,173.70 L297.99,173.70 L298.22,173.70 L298.46,173.70 L298.69,173.70 L298.92,173.70 L299.15,173.70 L299.38,173.70 L299.61,173.70 L299.84,173.70 L300.07,173.70 L300.30,173.70 L300.53,173.70 L300.76,173.70 L300.99,173.70 L301.22,173.70 L301.45,173.70 L301.68,173.70 L301.91,173.70 L302.14,173.70 L302.37,173.70 L302.60,173.70 L302.83,173.70 L303.06,173.70 L303.29,173.70 L303.52,173.50 L303.75,172.70 L303.98,171.58 L304.21,170.17 L304.44,168.50 L304.67,166.58 L304.90,164.46 L305.13,162.14 L305.36,159.67 L305.59,157.06 L305.82,154.35 L306.05,151.55 L306.28,148.71 L306.51,145.84 L306.74,142.97 L306.97,140.13 L307.20,137.34 L307.44,134.61 L307.67,131.94 L307.90,129.29 L308.13,126.67 L308.36,124.05 L308.59,121.43 L308.82,118.78 L309.05,116.10 L309.28,113.37 L309.51,110.57 L309.74,107.69 L309.97,104.72 L310.20,101.65 L310.43,98.49 L310.66,95.27 L310.89,92.02 L311.12,88.76 L311.35,85.52 L311.58,82.32 L311.81,79.19 L312.04,76.17 L312.27,73.26 L312.50,70.51 L312.73,67.92 L312.96,65.51 L313.19,63.30 L313.42,61.29 L313.65,59.52 L313.88,57.98 L314.11,56.69 L314.34,55.67 L314.57,54.92 L314.80,54.46 L315.03,54.29 L315.26,54.43 L315.49,54.87 L315.72,55.59 L315.95,56.60 L316.18,57.86 L316.42,59.38 L316.65,61.14 L316.88,63.10 L317.11,65.26 L317.34,67.56 L317.57,69.97 L317.80,72.48 L318.03,75.03 L318.26,77.60 L318.49,80.16 L318.72,82.68 L318.95,85.13 L319.18,87.54 L319.41,89.88 L319.64,92.18 L319.87,94.43 L320.10,96.65 L320.33,98.82 L320.56,100.95 L320.79,103.06 L321.02,105.13 L321.25,107.18 L321.48,109.21 L321.71,111.21 L321.94,113.20 L322.17,115.15 L322.40,117.08 L322.63,118.97 L322.86,120.82 L323.09,122.63 L323.32,124.40 L323.55,126.13 L323.78,127.80 L324.01,129.42 L324.24,130.98 L324.47,132.49 L324.70,133.93 L324.93,135.30 L325.16,136.61 L325.40,137.84 L325.63,139.00 L325.86,140.10 L326.09,141.13 L326.32,142.10 L326.55,143.01 L326.78,143.87 L327.01,144.67 L327.24,145.43 L327.47,146.13 L327.70,146.80 L327.93,147.43 L328.16,148.02 L328.39,148.57 L328.62,149.10 L328.85,149.59 L329.08,150.07 L329.31,150.51 L329.54,150.94 L329.77,151.34 L330.00,151.71 L330.23,152.07 L330.46,152.40 L330.69,152.70 L330.92,152.98 L331.15,153.23 L331.38,153.47 L331.61,153.67 L331.84,153.85 L332.07,154.01 L332.30,154.15 L332.53,154.25 L332.76,154.34 L332.99,154.40 L333.22,154.43 L333.45,154.44 L333.68,154.42 L333.91,154.38 L334.14,154.30 L334.38,154.19 L334.61,154.05 L334.84,153.87 L335.07,153.66 L335.30,153.40 L335.53,153.11 L335.76,152.78 L335.99,152.41 L336.22,152.00 L336.45,151.53 L336.68,151.03 L336.91,150.47 L337.14,149.87 L337.37,149.22 L337.60,148.52 L337.83,147.77 L338.06,146.99 L338.29,146.17 L338.52,145.31 L338.75,144.43 L338.98,143.53 L339.21,142.61 L339.44,141.67 L339.67,140.73 L339.90,139.77 L340.13,138.81 L340.36,137.86 L340.59,136.91 L340.82,135.96 L341.05,135.00 L341.28,134.02 L341.51,133.02 L341.74,131.99 L341.97,130.92 L342.20,129.80 L342.43,128.63 L342.66,127.40 L342.89,126.10 L343.12,124.73 L343.36,123.30 L343.59,121.81 L343.82,120.28 L344.05,118.71 L344.28,117.10 L344.51,115.45 L344.74,113.79 L344.97,112.09 L345.20,110.37 L345.43,108.63 L345.66,106.85 L345.89,105.04 L346.12,103.21 L346.35,101.34 L346.58,99.44 L346.81,97.51 L347.04,95.54 L347.27,93.54 L347.50,91.50 L347.73,89.43 L347.96,87.32 L348.19,85.19 L348.42,83.04 L348.65,80.88 L348.88,78.73 L349.11,76.58 L349.34,74.45 L349.57,72.35 L349.80,70.27 L350.03,68.23 L350.26,66.23 L350.49,64.28 L350.72,62.36 L350.95,60.50 L351.18,58.69 L351.41,56.94 L351.64,55.25 L351.87,53.61 L352.10,52.02 L352.33,50.49 L352.57,49.02 L352.80,47.59 L353.03,46.21 L353.26,44.88 L353.49,43.60 L353.72,42.36 L353.95,41.18 L354.18,40.05 L354.41,38.97 L354.64,37.94 L354.87,36.97 L355.10,36.05 L355.33,35.20 L355.56,34.40 L355.79,33.67 L356.02,33.01 L356.25,32.41 L356.48,31.90 L356.71,31.46 L356.94,31.11 L357.17,30.85 L357.40,30.68 L357.63,30.60 L357.86,30.63 L358.09,30.75 L358.32,30.96 L358.55,31.25 L358.78,31.61 L359.01,32.04 L359.24,32.53 L359.47,33.06 L359.70,33.64 L359.93,34.26 L360.16,34.90 L360.39,35.56 L360.62,36.24 L360.85,36.93 L361.08,37.64 L361.31,38.37 L361.55,39.11 L361.78,39.87 L362.01,40.64 L362.24,41.42 L362.47,42.22 L362.70,43.03 L362.93,43.85 L363.16,44.68 L363.39,45.52 L363.62,46.37 L363.85,47.23 L364.08,48.10 L364.31,48.98 L364.54,49.87 L364.77,50.77 L365.00,51.68 L365.23,52.59 L365.46,53.52 L365.69,54.45 L365.92,55.39 L366.15,56.34 L366.38,57.30 L366.61,58.27 L366.84,59.24 L367.07,60.22 L367.30,61.19 L367.53,62.17 L367.76,63.14 L367.99,64.11 L368.22,65.06 L368.45,66.00 L368.68,66.93 L368.91,67.83 L369.14,68.72 L369.37,69.58 L369.60,70.41 L369.83,71.22 L370.06,72.00 L370.29,72.75 L370.53,73.47 L370.76,74.16 L370.99,74.83 L371.22,75.48 L371.45,76.10 L371.68,76.69 L371.91,77.27 L372.14,77.82 L372.37,78.35 L372.60,78.86 L372.83,79.36 L373.06,79.83 L373.29,80.29 L373.52,80.72 L373.75,81.15 L373.98,81.55 L374.21,81.94 L374.44,82.32 L374.67,82.68 L374.90,83.02 L375.13,83.35 L375.36,83.67 L375.59,83.97 L375.82,84.27 L376.05,84.54 L376.28,84.81 L376.51,85.07 L376.74,85.31 L376.97,85.54 L377.20,85.77 L377.43,85.98 L377.66,86.18 L377.89,86.38 L378.12,86.56 L378.35,86.74 L378.58,86.91 L378.81,87.07 L379.04,87.22 L379.27,87.37 L379.51,87.51 L379.74,87.64 L379.97,87.76 L380.20,87.88 L380.43,88.00 L380.66,88.10 L380.89,88.21 L381.12,88.30 L381.35,88.40 L381.58,88.49 L381.81,88.57 L382.04,88.65 L382.27,88.73 L382.50,88.81 L382.73,88.88 L382.96,88.95 L383.19,89.01 L383.42,89.08 L383.65,89.14 L383.88,89.20 L384.11,89.26 L384.34,89.32 L384.57,89.38 L384.80,89.43 L385.03,89.49 L385.26,89.54 L385.49,89.59 L385.72,89.64 L385.95,89.69 L386.18,89.74 L386.41,89.78 L386.64,89.82 L386.87,89.87 L387.10,89.91 L387.33,89.94 L387.56,89.98 L387.79,90.02 L388.02,90.05 L388.25,90.08 L388.49,90.12 L388.72,90.15 L388.95,90.17 L389.18,90.20 L389.41,90.22 L389.64,90.25 L389.87,90.27 L390.10,90.29 L390.33,90.31 L390.56,90.33 L390.79,90.34 L391.02,90.36 L391.25,90.37 L391.48,90.38 L391.71,90.39 L391.94,90.40 L392.17,90.40 L392.40,90.41 L392.63,90.41 L392.86,90.41 L393.09,90.42 L393.32,90.41 L393.55,90.41 L393.78,90.41 L394.01,90.40 L394.24,90.39 L394.47,90.39 L394.70,90.38 L394.93,90.36 L395.16,90.35 L395.39,90.34 L395.62,90.32 L395.85,90.30 L396.08,90.28 L396.31,90.26 L396.54,90.24 L396.77,90.21 L397.00,90.19 L397.23,90.16 L397.47,90.13 L397.70,90.10 L397.93,90.07 L398.16,90.04 L398.39,90.00 L398.62,89.97 L398.85,89.93 L399.08,89.89 L399.31,89.85 L399.54,89.81 L399.77,89.77 L400.00,89.73 L400.23,89.68 L400.46,89.64 L400.69,89.59 L400.92,89.54 L401.15,89.49 L401.38,89.44 L401.61,89.39 L401.84,89.34 L402.07,89.28 L402.30,89.23 L402.53,89.18 L402.76,89.12 L402.99,89.06 L403.22,89.00 L403.45,88.95 L403.68,88.89 L403.91,88.83 L404.14,88.76 L404.37,88.70 L404.60,88.64 L404.83,88.58 L405.06,88.51 L405.29,88.45 L405.52,88.38 L405.75,88.32 L405.98,88.25 L406.21,88.18 L406.45,88.12 L406.68,88.05 L406.91,87.98 L407.14,87.91 L407.37,87.84 L407.60,87.77 L407.83,87.70 L408.06,87.63 L408.29,87.56 L408.52,87.49 L408.75,87.42 L408.98,87.35 L409.21,87.27 L409.44,87.20 L409.67,87.13 L409.90,87.06 L410.13,86.99 L410.36,86.91 L410.59,86.84 L410.82,86.77 L411.05,86.69 L411.28,86.62 L411.51,86.55 L411.74,86.48 L411.97,86.40 L412.20,86.33 L412.43,86.26 L412.66,86.19 L412.89,86.12 L413.12,86.04 L413.35,85.97 L413.58,85.90 L413.81,85.83 L414.04,85.76 L414.27,85.69 L414.50,85.62 L414.73,85.55 L414.96,85.49 L415.19,85.42 L415.43,85.35 L415.66,85.28 L415.89,85.22 L416.12,85.15 L416.35,85.09 L416.58,85.02 L416.81,84.96 L417.04,84.90 L417.27,84.84 L417.50,84.78 L417.73,84.72 L417.96,84.66 L418.19,84.60 L418.42,84.54 L418.65,84.49 L418.88,84.43 L419.11,84.38 L419.34,84.32 L419.57,84.27 L419.80,84.22 L420.03,84.17 L420.26,84.13 L420.49,84.08 L420.72,84.03 L420.95,83.99 L421.18,83.95 L421.41,83.90 L421.64,83.86 L421.87,83.83 L422.10,83.79 L422.33,83.75 L422.56,83.72 L422.79,83.69 L423.02,83.65 L423.25,83.62 L423.48,83.60 L423.71,83.57 L423.94,83.55 L424.17,83.52 L424.41,83.50 L424.64,83.48 L424.87,83.47 L425.10,83.45 L425.33,83.44 L425.56,83.43 L425.79,83.42 L426.02,83.41 L426.25,83.40 L426.48,83.40 L426.71,83.40 L426.94,83.40 L427.17,83.40 L427.40,83.41 L427.63,83.41 L427.86,83.42 L428.09,83.43 L428.32,83.44 L428.55,83.46 L428.78,83.47 L429.01,83.49 L429.24,83.51 L429.47,83.53 L429.70,83.55 L429.93,83.58 L430.16,83.60 L430.39,83.63 L430.62,83.66 L430.85,83.69 L431.08,83.72 L431.31,83.75 L431.54,83.79 L431.77,83.82 L432.00,83.86 L432.23,83.89 L432.46,83.93 L432.69,83.97 L432.92,84.01 L433.15,84.06 L433.39,84.10 L433.62,84.14 L433.85,84.19 L434.08,84.23 L434.31,84.28 L434.54,84.33 L434.77,84.38 L435.00,84.42 L435.23,84.47 L435.46,84.52 L435.69,84.58 L435.92,84.63 L436.15,84.68 L436.38,84.73 L436.61,84.79 L436.84,84.84 L437.07,84.89 L437.30,84.95 L437.53,85.00 L437.76,85.06 L437.99,85.11 L438.22,85.17 L438.45,85.22 L438.68,85.28 L438.91,85.34 L439.14,85.39 L439.37,85.45 L439.60,85.50 L439.83,85.56 L440.06,85.62 L440.29,85.67 L440.52,85.73 L440.75,85.78 L440.98,85.84 L441.21,85.89 L441.44,85.95 L441.67,86.00 L441.90,86.06 L442.13,86.11 L442.37,86.16 L442.60,86.21 L442.83,86.27 L443.06,86.32 L443.29,86.37 L443.52,86.42 L443.75,86.47 L443.98,86.52 L444.21,86.57 L444.44,86.62 L444.67,86.66 L444.90,86.71 L445.13,86.75 L445.36,86.80 L445.59,86.84 L445.82,86.88 L446.05,86.93 L446.28,86.97 L446.51,87.01 L446.74,87.04 L446.97,87.08 L447.20,87.12 L447.43,87.15 L447.66,87.19 L447.89,87.22 L448.12,87.25 L448.35,87.28 L448.58,87.31 L448.81,87.33 L449.04,87.36 L449.27,87.38 L449.50,87.40 L449.73,87.43 L449.96,87.44 L450.19,87.46 L450.42,87.48 L450.65,87.49 L450.88,87.50 L451.11,87.52 L451.34,87.52 L451.58,87.53 L451.81,87.54 L452.04,87.54 L452.27,87.54 L452.50,87.54 L452.73,87.54 L452.96,87.54 L453.19,87.54 L453.42,87.53 L453.65,87.52 L453.88,87.52 L454.11,87.51 L454.34,87.50 L454.57,87.48 L454.80,87.47 L455.03,87.45 L455.26,87.44 L455.49,87.42 L455.72,87.40 L455.95,87.38 L456.18,87.36 L456.41,87.34 L456.64,87.32 L456.87,87.29 L457.10,87.27 L457.33,87.24 L457.56,87.21 L457.79,87.19 L458.02,87.16 L458.25,87.13 L458.48,87.09 L458.71,87.06 L458.94,87.03 L459.17,87.00 L459.40,86.96 L459.63,86.93 L459.86,86.89 L460.09,86.86 L460.32,86.82 L460.56,86.78 L460.79,86.74 L461.02,86.70 L461.25,86.66 L461.48,86.62 L461.71,86.58 L461.94,86.54 L462.17,86.50 L462.40,86.46 L462.63,86.42 L462.86,86.38 L463.09,86.33 L463.32,86.29 L463.55,86.25 L463.78,86.20 L464.01,86.16 L464.24,86.11 L464.47,86.07 L464.70,86.03 L464.93,85.98 L465.16,85.94 L465.39,85.89 L465.62,85.85 L465.85,85.80 L466.08,85.76 L466.31,85.71 L466.54,85.67 L466.77,85.62 L467.00,85.58 L467.23,85.54 L467.46,85.49 L467.69,85.45 L467.92,85.40 L468.15,85.36 L468.38,85.32 L468.61,85.28 L468.84,85.23 L469.07,85.19 L469.30,85.15 L469.54,85.11 L469.77,85.06 L470.00,85.02 L470.23,84.98 L470.46,84.94 L470.69,84.90 L470.92,84.86 L471.15,84.82 L471.38,84.78 L471.61,84.75 L471.84,84.71 L472.07,84.67 L472.30,84.63 L472.53,84.60 L472.76,84.56 L472.99,84.52 L473.22,84.49 L473.45,84.45 L473.68,84.42 L473.91,84.39 L474.14,84.35 L474.37,84.32 L474.60,84.29 L474.83,84.26 L475.06,84.23 L475.29,84.20 L475.52,84.17 L475.75,84.14 L475.98,84.12 L476.21,84.09 L476.44,84.06 L476.67,84.04 L476.90,84.01 L477.13,83.99 L477.36,83.97 L477.59,83.95 L477.82,83.92 L478.05,83.90 L478.28,83.88 L478.52,83.87 L478.75,83.85 L478.98,83.83 L479.21,83.82 L479.44,83.80 L479.67,83.79 L479.90,83.77 L480.13,83.76 L480.36,83.75 L480.59,83.74 L480.82,83.73 L481.05,83.72 L481.28,83.72 L481.51,83.71 L481.74,83.71 L481.97,83.70 L482.20,83.70 L482.43,83.70 L482.66,83.70 L482.89,83.70 L483.12,83.70 L483.35,83.70 L483.58,83.71 L483.81,83.71 L484.04,83.72 L484.27,83.73 L484.50,83.74 L484.73,83.75 L484.96,83.76 L485.19,83.77 L485.42,83.78 L485.65,83.79 L485.88,83.81 L486.11,83.82 L486.34,83.84 L486.57,83.85 L486.80,83.87 L487.03,83.89 L487.26,83.91 L487.50,83.93 L487.73,83.95 L487.96,83.97 L488.19,83.99 L488.42,84.01 L488.65,84.03 L488.88,84.05 L489.11,84.08 L489.34,84.10 L489.57,84.12 L489.80,84.14 L490.03,84.17 L490.26,84.19 L490.49,84.22 L490.72,84.24 L490.95,84.27 L491.18,84.29 L491.41,84.31 L491.64,84.34 L491.87,84.36 L492.10,84.39 L492.33,84.41 L492.56,84.44 L492.79,84.46 L493.02,84.49 L493.25,84.51 L493.48,84.53 L493.71,84.56 L493.94,84.58 L494.17,84.61 L494.40,84.63 L494.63,84.65 L494.86,84.67 L495.09,84.69 L495.32,84.72 L495.55,84.74 L495.78,84.76 L496.01,84.78 L496.24,84.79 L496.48,84.81 L496.71,84.83 L496.94,84.85 L497.17,84.86 L497.40,84.88 L497.63,84.89 L497.86,84.91 L498.09,84.92 L498.32,84.93 L498.55,84.94 L498.78,84.95 L499.01,84.96 L499.24,84.97 L499.47,84.98 L499.70,84.99 L499.93,84.99 L500.16,85.00 L500.39,85.00 L500.62,85.00 L500.85,85.00" fill="none" stroke="#000" stroke-width="2.6" stroke-dasharray="2.6,3.85" stroke-linejoin="round"/>
</g>
<path d="M293.85,14.8 L293.85,173.55 L500.85,173.55" fill="none" stroke="#000" stroke-width="0.95" stroke-linecap="square"/>
<line x1="289.85" y1="173.55" x2="293.85" y2="173.55" stroke="#000" stroke-width="0.95"/>
<text x="285.25" y="178.70" font-size="12.0" text-anchor="end">0.0</text>
<line x1="289.85" y1="138.27" x2="293.85" y2="138.27" stroke="#000" stroke-width="0.95"/>
<text x="285.25" y="143.42" font-size="12.0" text-anchor="end">0.4</text>
<line x1="289.85" y1="102.99" x2="293.85" y2="102.99" stroke="#000" stroke-width="0.95"/>
<text x="285.25" y="108.14" font-size="12.0" text-anchor="end">0.8</text>
<line x1="289.85" y1="67.72" x2="293.85" y2="67.72" stroke="#000" stroke-width="0.95"/>
<text x="285.25" y="72.87" font-size="12.0" text-anchor="end">1.2</text>
<line x1="289.85" y1="32.44" x2="293.85" y2="32.44" stroke="#000" stroke-width="0.95"/>
<text x="285.25" y="37.59" font-size="12.0" text-anchor="end">1.6</text>
<line x1="318.20" y1="173.55" x2="318.20" y2="177.55" stroke="#000" stroke-width="0.95"/>
<text x="318.20" y="191.45" font-size="12.0" text-anchor="middle">2</text>
<line x1="348.64" y1="173.55" x2="348.64" y2="177.55" stroke="#000" stroke-width="0.95"/>
<text x="348.64" y="191.45" font-size="12.0" text-anchor="middle">3</text>
<line x1="379.09" y1="173.55" x2="379.09" y2="177.55" stroke="#000" stroke-width="0.95"/>
<text x="379.09" y="191.45" font-size="12.0" text-anchor="middle">4</text>
<line x1="409.53" y1="173.55" x2="409.53" y2="177.55" stroke="#000" stroke-width="0.95"/>
<text x="409.53" y="191.45" font-size="12.0" text-anchor="middle">5</text>
<line x1="439.97" y1="173.55" x2="439.97" y2="177.55" stroke="#000" stroke-width="0.95"/>
<text x="439.97" y="191.45" font-size="12.0" text-anchor="middle">6</text>
<line x1="470.41" y1="173.55" x2="470.41" y2="177.55" stroke="#000" stroke-width="0.95"/>
<text x="470.41" y="191.45" font-size="12.0" text-anchor="middle">7</text>
<line x1="500.85" y1="173.55" x2="500.85" y2="177.55" stroke="#000" stroke-width="0.95"/>
<text x="500.85" y="191.45" font-size="12.0" text-anchor="middle">8</text>
<clipPath id="c10"><rect x="45.25" y="205.8" width="207.05" height="158.75"/></clipPath>
<g clip-path="url(#c10)">
<path d="M45.25,364.60 L45.48,364.60 L45.71,364.60 L45.94,364.60 L46.17,364.60 L46.40,364.60 L46.63,364.60 L46.86,364.60 L47.09,364.60 L47.32,364.60 L47.55,364.60 L47.78,364.60 L48.01,364.60 L48.24,364.60 L48.47,364.60 L48.70,364.60 L48.93,364.60 L49.17,364.60 L49.40,364.60 L49.63,364.60 L49.86,364.60 L50.09,364.60 L50.32,364.60 L50.55,364.60 L50.78,364.60 L51.01,364.60 L51.24,364.60 L51.47,364.60 L51.70,364.60 L51.93,364.60 L52.16,364.60 L52.39,364.60 L52.62,364.60 L52.85,364.60 L53.08,364.60 L53.31,364.60 L53.54,364.60 L53.77,364.60 L54.00,364.60 L54.23,364.60 L54.46,364.60 L54.69,364.60 L54.92,364.60 L55.15,364.60 L55.38,364.60 L55.61,364.60 L55.84,364.60 L56.07,364.60 L56.30,364.60 L56.54,364.60 L56.77,364.60 L57.00,364.60 L57.23,364.60 L57.46,364.60 L57.69,364.60 L57.92,364.60 L58.15,364.60 L58.38,364.60 L58.61,364.60 L58.84,364.60 L59.07,364.60 L59.30,364.60 L59.53,364.60 L59.76,364.60 L59.99,364.60 L60.22,364.60 L60.45,364.60 L60.68,364.60 L60.91,364.60 L61.14,364.60 L61.37,364.60 L61.60,364.60 L61.83,364.60 L62.06,364.60 L62.29,363.74 L62.52,362.40 L62.75,360.82 L62.98,359.01 L63.21,356.99 L63.44,354.77 L63.67,352.38 L63.91,349.83 L64.14,347.14 L64.37,344.33 L64.60,341.41 L64.83,338.41 L65.06,335.34 L65.29,332.21 L65.52,329.05 L65.75,325.85 L65.98,322.61 L66.21,319.33 L66.44,316.01 L66.67,312.65 L66.90,309.25 L67.13,305.82 L67.36,302.34 L67.59,298.83 L67.82,295.28 L68.05,291.70 L68.28,288.09 L68.51,284.48 L68.74,280.87 L68.97,277.29 L69.20,273.74 L69.43,270.24 L69.66,266.82 L69.89,263.47 L70.12,260.22 L70.35,257.07 L70.58,254.05 L70.81,251.15 L71.04,248.36 L71.28,245.69 L71.51,243.13 L71.74,240.68 L71.97,238.34 L72.20,236.10 L72.43,234.05 L72.66,232.26 L72.89,230.82 L73.12,229.82 L73.35,229.35 L73.58,229.43 L73.81,230.01 L74.04,230.98 L74.27,232.28 L74.50,233.80 L74.73,235.48 L74.96,237.21 L75.19,238.99 L75.42,240.81 L75.65,242.68 L75.88,244.62 L76.11,246.63 L76.34,248.72 L76.57,250.89 L76.80,253.15 L77.03,255.48 L77.26,257.87 L77.49,260.29 L77.72,262.74 L77.95,265.20 L78.18,267.65 L78.41,270.09 L78.65,272.48 L78.88,274.82 L79.11,277.09 L79.34,279.28 L79.57,281.38 L79.80,283.40 L80.03,285.34 L80.26,287.20 L80.49,288.99 L80.72,290.71 L80.95,292.36 L81.18,293.95 L81.41,295.49 L81.64,296.97 L81.87,298.40 L82.10,299.78 L82.33,301.12 L82.56,302.43 L82.79,303.70 L83.02,304.93 L83.25,306.13 L83.48,307.30 L83.71,308.43 L83.94,309.53 L84.17,310.59 L84.40,311.62 L84.63,312.61 L84.86,313.56 L85.09,314.47 L85.32,315.35 L85.55,316.18 L85.78,316.97 L86.02,317.73 L86.25,318.44 L86.48,319.11 L86.71,319.74 L86.94,320.33 L87.17,320.88 L87.40,321.40 L87.63,321.88 L87.86,322.33 L88.09,322.75 L88.32,323.14 L88.55,323.50 L88.78,323.83 L89.01,324.13 L89.24,324.41 L89.47,324.67 L89.70,324.91 L89.93,325.12 L90.16,325.32 L90.39,325.49 L90.62,325.66 L90.85,325.80 L91.08,325.94 L91.31,326.06 L91.54,326.17 L91.77,326.27 L92.00,326.36 L92.23,326.43 L92.46,326.50 L92.69,326.56 L92.92,326.61 L93.15,326.65 L93.39,326.68 L93.62,326.70 L93.85,326.71 L94.08,326.72 L94.31,326.71 L94.54,326.70 L94.77,326.68 L95.00,326.66 L95.23,326.63 L95.46,326.59 L95.69,326.54 L95.92,326.49 L96.15,326.43 L96.38,326.37 L96.61,326.30 L96.84,326.23 L97.07,326.15 L97.30,326.07 L97.53,325.98 L97.76,325.89 L97.99,325.80 L98.22,325.70 L98.45,325.60 L98.68,325.49 L98.91,325.39 L99.14,325.28 L99.37,325.17 L99.60,325.06 L99.83,324.94 L100.06,324.83 L100.29,324.71 L100.52,324.60 L100.76,324.48 L100.99,324.36 L101.22,324.24 L101.45,324.13 L101.68,324.01 L101.91,323.90 L102.14,323.78 L102.37,323.67 L102.60,323.56 L102.83,323.45 L103.06,323.34 L103.29,323.23 L103.52,323.13 L103.75,323.02 L103.98,322.92 L104.21,322.81 L104.44,322.71 L104.67,322.61 L104.90,322.51 L105.13,322.41 L105.36,322.32 L105.59,322.22 L105.82,322.12 L106.05,322.03 L106.28,321.94 L106.51,321.84 L106.74,321.75 L106.97,321.66 L107.20,321.57 L107.43,321.48 L107.66,321.39 L107.89,321.30 L108.13,321.21 L108.36,321.12 L108.59,321.04 L108.82,320.95 L109.05,320.86 L109.28,320.78 L109.51,320.69 L109.74,320.61 L109.97,320.52 L110.20,320.44 L110.43,320.35 L110.66,320.27 L110.89,320.19 L111.12,320.10 L111.35,320.02 L111.58,319.94 L111.81,319.85 L112.04,319.77 L112.27,319.69 L112.50,319.60 L112.73,319.52 L112.96,319.44 L113.19,319.35 L113.42,319.27 L113.65,319.19 L113.88,319.10 L114.11,319.02 L114.34,318.93 L114.57,318.85 L114.80,318.76 L115.03,318.68 L115.26,318.59 L115.49,318.50 L115.73,318.42 L115.96,318.33 L116.19,318.24 L116.42,318.16 L116.65,318.07 L116.88,317.98 L117.11,317.90 L117.34,317.81 L117.57,317.72 L117.80,317.64 L118.03,317.55 L118.26,317.47 L118.49,317.38 L118.72,317.30 L118.95,317.21 L119.18,317.13 L119.41,317.04 L119.64,316.96 L119.87,316.88 L120.10,316.80 L120.33,316.72 L120.56,316.64 L120.79,316.56 L121.02,316.48 L121.25,316.40 L121.48,316.33 L121.71,316.25 L121.94,316.18 L122.17,316.11 L122.40,316.04 L122.63,315.97 L122.86,315.90 L123.10,315.83 L123.33,315.76 L123.56,315.70 L123.79,315.64 L124.02,315.57 L124.25,315.51 L124.48,315.46 L124.71,315.40 L124.94,315.34 L125.17,315.29 L125.40,315.24 L125.63,315.19 L125.86,315.14 L126.09,315.09 L126.32,315.04 L126.55,315.00 L126.78,314.96 L127.01,314.92 L127.24,314.88 L127.47,314.84 L127.70,314.80 L127.93,314.77 L128.16,314.74 L128.39,314.71 L128.62,314.68 L128.85,314.65 L129.08,314.63 L129.31,314.60 L129.54,314.58 L129.77,314.56 L130.00,314.55 L130.23,314.53 L130.47,314.52 L130.70,314.51 L130.93,314.50 L131.16,314.49 L131.39,314.49 L131.62,314.48 L131.85,314.48 L132.08,314.48 L132.31,314.49 L132.54,314.49 L132.77,314.50 L133.00,314.51 L133.23,314.52 L133.46,314.53 L133.69,314.55 L133.92,314.57 L134.15,314.59 L134.38,314.61 L134.61,314.64 L134.84,314.66 L135.07,314.69 L135.30,314.72 L135.53,314.75 L135.76,314.79 L135.99,314.82 L136.22,314.86 L136.45,314.90 L136.68,314.94 L136.91,314.98 L137.14,315.03 L137.37,315.07 L137.60,315.12 L137.84,315.17 L138.07,315.22 L138.30,315.27 L138.53,315.33 L138.76,315.38 L138.99,315.44 L139.22,315.50 L139.45,315.56 L139.68,315.62 L139.91,315.68 L140.14,315.75 L140.37,315.81 L140.60,315.88 L140.83,315.95 L141.06,316.02 L141.29,316.09 L141.52,316.16 L141.75,316.23 L141.98,316.31 L142.21,316.38 L142.44,316.46 L142.67,316.53 L142.90,316.61 L143.13,316.69 L143.36,316.77 L143.59,316.85 L143.82,316.94 L144.05,317.02 L144.28,317.10 L144.51,317.19 L144.74,317.27 L144.97,317.36 L145.21,317.45 L145.44,317.54 L145.67,317.63 L145.90,317.72 L146.13,317.81 L146.36,317.90 L146.59,317.99 L146.82,318.08 L147.05,318.17 L147.28,318.27 L147.51,318.36 L147.74,318.45 L147.97,318.55 L148.20,318.64 L148.43,318.74 L148.66,318.84 L148.89,318.93 L149.12,319.03 L149.35,319.13 L149.58,319.22 L149.81,319.32 L150.04,319.42 L150.27,319.52 L150.50,319.61 L150.73,319.71 L150.96,319.81 L151.19,319.91 L151.42,320.01 L151.65,320.11 L151.88,320.20 L152.11,320.30 L152.34,320.40 L152.58,320.50 L152.81,320.60 L153.04,320.69 L153.27,320.79 L153.50,320.89 L153.73,320.98 L153.96,321.08 L154.19,321.18 L154.42,321.27 L154.65,321.37 L154.88,321.46 L155.11,321.56 L155.34,321.65 L155.57,321.74 L155.80,321.84 L156.03,321.93 L156.26,322.02 L156.49,322.11 L156.72,322.20 L156.95,322.29 L157.18,322.38 L157.41,322.46 L157.64,322.55 L157.87,322.64 L158.10,322.72 L158.33,322.80 L158.56,322.89 L158.79,322.97 L159.02,323.05 L159.25,323.13 L159.48,323.20 L159.71,323.28 L159.95,323.36 L160.18,323.43 L160.41,323.51 L160.64,323.58 L160.87,323.65 L161.10,323.72 L161.33,323.78 L161.56,323.85 L161.79,323.92 L162.02,323.98 L162.25,324.04 L162.48,324.10 L162.71,324.16 L162.94,324.22 L163.17,324.27 L163.40,324.32 L163.63,324.38 L163.86,324.43 L164.09,324.47 L164.32,324.52 L164.55,324.56 L164.78,324.61 L165.01,324.65 L165.24,324.69 L165.47,324.72 L165.70,324.76 L165.93,324.79 L166.16,324.82 L166.39,324.85 L166.62,324.87 L166.85,324.90 L167.08,324.92 L167.32,324.94 L167.55,324.95 L167.78,324.97 L168.01,324.98 L168.24,324.99 L168.47,324.99 L168.70,325.00 L168.93,325.00 L169.16,325.00 L169.39,325.00 L169.62,324.99 L169.85,324.98 L170.08,324.97 L170.31,324.96 L170.54,324.94 L170.77,324.93 L171.00,324.91 L171.23,324.88 L171.46,324.86 L171.69,324.83 L171.92,324.80 L172.15,324.77 L172.38,324.74 L172.61,324.70 L172.84,324.67 L173.07,324.63 L173.30,324.59 L173.53,324.54 L173.76,324.50 L173.99,324.45 L174.22,324.40 L174.45,324.35 L174.69,324.30 L174.92,324.25 L175.15,324.20 L175.38,324.14 L175.61,324.08 L175.84,324.02 L176.07,323.96 L176.30,323.90 L176.53,323.84 L176.76,323.78 L176.99,323.71 L177.22,323.65 L177.45,323.58 L177.68,323.51 L177.91,323.44 L178.14,323.37 L178.37,323.30 L178.60,323.23 L178.83,323.16 L179.06,323.08 L179.29,323.01 L179.52,322.93 L179.75,322.86 L179.98,322.78 L180.21,322.71 L180.44,322.63 L180.67,322.55 L180.90,322.47 L181.13,322.40 L181.36,322.32 L181.59,322.24 L181.82,322.16 L182.06,322.08 L182.29,322.00 L182.52,321.92 L182.75,321.84 L182.98,321.76 L183.21,321.68 L183.44,321.60 L183.67,321.52 L183.90,321.44 L184.13,321.36 L184.36,321.29 L184.59,321.21 L184.82,321.13 L185.05,321.05 L185.28,320.97 L185.51,320.90 L185.74,320.82 L185.97,320.74 L186.20,320.67 L186.43,320.59 L186.66,320.52 L186.89,320.44 L187.12,320.37 L187.35,320.30 L187.58,320.22 L187.81,320.15 L188.04,320.08 L188.27,320.01 L188.50,319.94 L188.73,319.87 L188.96,319.80 L189.19,319.73 L189.42,319.66 L189.66,319.59 L189.89,319.52 L190.12,319.46 L190.35,319.39 L190.58,319.32 L190.81,319.26 L191.04,319.19 L191.27,319.13 L191.50,319.07 L191.73,319.00 L191.96,318.94 L192.19,318.88 L192.42,318.82 L192.65,318.76 L192.88,318.70 L193.11,318.64 L193.34,318.58 L193.57,318.52 L193.80,318.46 L194.03,318.40 L194.26,318.35 L194.49,318.29 L194.72,318.24 L194.95,318.18 L195.18,318.13 L195.41,318.07 L195.64,318.02 L195.87,317.97 L196.10,317.92 L196.33,317.87 L196.56,317.82 L196.79,317.77 L197.03,317.72 L197.26,317.67 L197.49,317.63 L197.72,317.58 L197.95,317.53 L198.18,317.49 L198.41,317.44 L198.64,317.40 L198.87,317.36 L199.10,317.32 L199.33,317.27 L199.56,317.23 L199.79,317.19 L200.02,317.15 L200.25,317.12 L200.48,317.08 L200.71,317.04 L200.94,317.01 L201.17,316.97 L201.40,316.94 L201.63,316.90 L201.86,316.87 L202.09,316.84 L202.32,316.81 L202.55,316.78 L202.78,316.75 L203.01,316.72 L203.24,316.69 L203.47,316.66 L203.70,316.63 L203.93,316.61 L204.16,316.58 L204.40,316.56 L204.63,316.54 L204.86,316.52 L205.09,316.49 L205.32,316.47 L205.55,316.45 L205.78,316.44 L206.01,316.42 L206.24,316.40 L206.47,316.38 L206.70,316.37 L206.93,316.35 L207.16,316.34 L207.39,316.33 L207.62,316.32 L207.85,316.31 L208.08,316.30 L208.31,316.29 L208.54,316.28 L208.77,316.27 L209.00,316.27 L209.23,316.26 L209.46,316.26 L209.69,316.25 L209.92,316.25 L210.15,316.25 L210.38,316.25 L210.61,316.25 L210.84,316.25 L211.07,316.25 L211.30,316.25 L211.53,316.26 L211.77,316.26 L212.00,316.26 L212.23,316.27 L212.46,316.27 L212.69,316.28 L212.92,316.29 L213.15,316.30 L213.38,316.31 L213.61,316.32 L213.84,316.33 L214.07,316.34 L214.30,316.35 L214.53,316.36 L214.76,316.37 L214.99,316.39 L215.22,316.40 L215.45,316.42 L215.68,316.43 L215.91,316.45 L216.14,316.46 L216.37,316.48 L216.60,316.50 L216.83,316.52 L217.06,316.53 L217.29,316.55 L217.52,316.57 L217.75,316.59 L217.98,316.61 L218.21,316.63 L218.44,316.66 L218.67,316.68 L218.90,316.70 L219.14,316.72 L219.37,316.75 L219.60,316.77 L219.83,316.79 L220.06,316.82 L220.29,316.84 L220.52,316.87 L220.75,316.89 L220.98,316.92 L221.21,316.95 L221.44,316.97 L221.67,317.00 L221.90,317.03 L222.13,317.06 L222.36,317.08 L222.59,317.11 L222.82,317.14 L223.05,317.17 L223.28,317.20 L223.51,317.23 L223.74,317.26 L223.97,317.29 L224.20,317.32 L224.43,317.35 L224.66,317.38 L224.89,317.41 L225.12,317.44 L225.35,317.47 L225.58,317.50 L225.81,317.53 L226.04,317.56 L226.27,317.59 L226.51,317.63 L226.74,317.66 L226.97,317.69 L227.20,317.72 L227.43,317.75 L227.66,317.79 L227.89,317.82 L228.12,317.85 L228.35,317.88 L228.58,317.91 L228.81,317.95 L229.04,317.98 L229.27,318.01 L229.50,318.04 L229.73,318.07 L229.96,318.11 L230.19,318.14 L230.42,318.17 L230.65,318.20 L230.88,318.23 L231.11,318.27 L231.34,318.30 L231.57,318.33 L231.80,318.36 L232.03,318.39 L232.26,318.42 L232.49,318.46 L232.72,318.49 L232.95,318.52 L233.18,318.55 L233.41,318.58 L233.64,318.61 L233.88,318.64 L234.11,318.67 L234.34,318.71 L234.57,318.74 L234.80,318.77 L235.03,318.80 L235.26,318.83 L235.49,318.86 L235.72,318.89 L235.95,318.92 L236.18,318.95 L236.41,318.98 L236.64,319.01 L236.87,319.04 L237.10,319.07 L237.33,319.10 L237.56,319.13 L237.79,319.16 L238.02,319.19 L238.25,319.22 L238.48,319.25 L238.71,319.28 L238.94,319.31 L239.17,319.34 L239.40,319.37 L239.63,319.40 L239.86,319.43 L240.09,319.46 L240.32,319.48 L240.55,319.51 L240.78,319.54 L241.01,319.57 L241.25,319.60 L241.48,319.62 L241.71,319.65 L241.94,319.68 L242.17,319.71 L242.40,319.74 L242.63,319.76 L242.86,319.79 L243.09,319.82 L243.32,319.84 L243.55,319.87 L243.78,319.90 L244.01,319.92 L244.24,319.95 L244.47,319.98 L244.70,320.00 L244.93,320.03 L245.16,320.05 L245.39,320.08 L245.62,320.10 L245.85,320.13 L246.08,320.15 L246.31,320.18 L246.54,320.20 L246.77,320.23 L247.00,320.25 L247.23,320.27 L247.46,320.30 L247.69,320.32 L247.92,320.34 L248.15,320.37 L248.38,320.39 L248.62,320.41 L248.85,320.44 L249.08,320.46 L249.31,320.48 L249.54,320.50 L249.77,320.52 L250.00,320.54 L250.23,320.57 L250.46,320.59 L250.69,320.61 L250.92,320.63 L251.15,320.65 L251.38,320.67 L251.61,320.69 L251.84,320.71 L252.07,320.73 L252.30,320.75" fill="none" stroke="#80f0f0" stroke-width="3.4" stroke-linejoin="round"/>
<path d="M45.25,364.60 L45.48,364.60 L45.71,364.60 L45.94,364.60 L46.17,364.60 L46.40,364.60 L46.63,364.60 L46.86,364.60 L47.09,364.60 L47.32,364.60 L47.55,364.60 L47.78,364.60 L48.01,364.60 L48.24,364.60 L48.47,364.60 L48.70,364.60 L48.93,364.60 L49.17,364.60 L49.40,364.60 L49.63,364.60 L49.86,364.60 L50.09,364.60 L50.32,364.60 L50.55,364.60 L50.78,364.60 L51.01,364.60 L51.24,364.60 L51.47,364.60 L51.70,364.60 L51.93,364.60 L52.16,364.60 L52.39,364.60 L52.62,364.60 L52.85,364.60 L53.08,364.60 L53.31,364.60 L53.54,364.60 L53.77,364.60 L54.00,364.60 L54.23,364.60 L54.46,364.60 L54.69,364.60 L54.92,364.60 L55.15,364.60 L55.38,364.60 L55.61,364.60 L55.84,364.60 L56.07,364.60 L56.30,364.60 L56.54,364.60 L56.77,364.60 L57.00,364.60 L57.23,364.60 L57.46,364.60 L57.69,364.60 L57.92,364.60 L58.15,364.60 L58.38,364.60 L58.61,364.60 L58.84,364.60 L59.07,364.60 L59.30,364.60 L59.53,364.60 L59.76,364.60 L59.99,364.60 L60.22,364.60 L60.45,364.60 L60.68,364.60 L60.91,364.60 L61.14,364.60 L61.37,364.60 L61.60,364.60 L61.83,364.60 L62.06,364.60 L62.29,364.60 L62.52,364.60 L62.75,364.60 L62.98,364.60 L63.21,364.60 L63.44,364.60 L63.67,364.34 L63.91,362.95 L64.14,361.35 L64.37,359.56 L64.60,357.59 L64.83,355.45 L65.06,353.15 L65.29,350.71 L65.52,348.15 L65.75,345.46 L65.98,342.67 L66.21,339.79 L66.44,336.83 L66.67,333.81 L66.90,330.74 L67.13,327.61 L67.36,324.43 L67.59,321.20 L67.82,317.92 L68.05,314.59 L68.28,311.21 L68.51,307.77 L68.74,304.28 L68.97,300.74 L69.20,297.14 L69.43,293.49 L69.66,289.80 L69.89,286.09 L70.12,282.39 L70.35,278.72 L70.58,275.10 L70.81,271.55 L71.04,268.11 L71.28,264.79 L71.51,261.61 L71.74,258.60 L71.97,255.79 L72.20,253.17 L72.43,250.75 L72.66,248.52 L72.89,246.49 L73.12,244.65 L73.35,242.99 L73.58,241.52 L73.81,240.25 L74.04,239.20 L74.27,238.39 L74.50,237.85 L74.73,237.61 L74.96,237.69 L75.19,238.05 L75.42,238.64 L75.65,239.41 L75.88,240.29 L76.11,241.23 L76.34,242.17 L76.57,243.07 L76.80,243.98 L77.03,244.92 L77.26,245.94 L77.49,247.08 L77.72,248.38 L77.95,249.88 L78.18,251.60 L78.41,253.55 L78.65,255.69 L78.88,257.99 L79.11,260.41 L79.34,262.93 L79.57,265.50 L79.80,268.11 L80.03,270.71 L80.26,273.28 L80.49,275.78 L80.72,278.18 L80.95,280.46 L81.18,282.62 L81.41,284.67 L81.64,286.61 L81.87,288.46 L82.10,290.21 L82.33,291.88 L82.56,293.47 L82.79,294.99 L83.02,296.45 L83.25,297.85 L83.48,299.21 L83.71,300.52 L83.94,301.80 L84.17,303.05 L84.40,304.29 L84.63,305.50 L84.86,306.68 L85.09,307.85 L85.32,308.98 L85.55,310.08 L85.78,311.14 L86.02,312.17 L86.25,313.16 L86.48,314.10 L86.71,315.00 L86.94,315.86 L87.17,316.66 L87.40,317.40 L87.63,318.09 L87.86,318.73 L88.09,319.30 L88.32,319.82 L88.55,320.28 L88.78,320.70 L89.01,321.07 L89.24,321.39 L89.47,321.67 L89.70,321.92 L89.93,322.13 L90.16,322.30 L90.39,322.44 L90.62,322.56 L90.85,322.65 L91.08,322.72 L91.31,322.77 L91.54,322.80 L91.77,322.82 L92.00,322.82 L92.23,322.82 L92.46,322.81 L92.69,322.80 L92.92,322.79 L93.15,322.78 L93.39,322.76 L93.62,322.75 L93.85,322.74 L94.08,322.72 L94.31,322.71 L94.54,322.69 L94.77,322.68 L95.00,322.66 L95.23,322.65 L95.46,322.63 L95.69,322.61 L95.92,322.60 L96.15,322.58 L96.38,322.56 L96.61,322.55 L96.84,322.53 L97.07,322.51 L97.30,322.49 L97.53,322.47 L97.76,322.45 L97.99,322.43 L98.22,322.41 L98.45,322.39 L98.68,322.37 L98.91,322.34 L99.14,322.32 L99.37,322.30 L99.60,322.28 L99.83,322.25 L100.06,322.23 L100.29,322.20 L100.52,322.18 L100.76,322.15 L100.99,322.13 L101.22,322.10 L101.45,322.07 L101.68,322.05 L101.91,322.02 L102.14,321.99 L102.37,321.96 L102.60,321.93 L102.83,321.90 L103.06,321.87 L103.29,321.84 L103.52,321.81 L103.75,321.78 L103.98,321.75 L104.21,321.71 L104.44,321.68 L104.67,321.65 L104.90,321.61 L105.13,321.58 L105.36,321.54 L105.59,321.51 L105.82,321.47 L106.05,321.43 L106.28,321.39 L106.51,321.35 L106.74,321.31 L106.97,321.27 L107.20,321.23 L107.43,321.19 L107.66,321.15 L107.89,321.10 L108.13,321.06 L108.36,321.01 L108.59,320.96 L108.82,320.92 L109.05,320.87 L109.28,320.82 L109.51,320.77 L109.74,320.72 L109.97,320.66 L110.20,320.61 L110.43,320.56 L110.66,320.50 L110.89,320.45 L111.12,320.39 L111.35,320.33 L111.58,320.27 L111.81,320.21 L112.04,320.15 L112.27,320.08 L112.50,320.02 L112.73,319.95 L112.96,319.89 L113.19,319.82 L113.42,319.75 L113.65,319.68 L113.88,319.60 L114.11,319.53 L114.34,319.46 L114.57,319.38 L114.80,319.30 L115.03,319.22 L115.26,319.14 L115.49,319.06 L115.73,318.98 L115.96,318.89 L116.19,318.81 L116.42,318.72 L116.65,318.63 L116.88,318.54 L117.11,318.45 L117.34,318.35 L117.57,318.26 L117.80,318.17 L118.03,318.07 L118.26,317.98 L118.49,317.88 L118.72,317.79 L118.95,317.69 L119.18,317.60 L119.41,317.50 L119.64,317.41 L119.87,317.32 L120.10,317.22 L120.33,317.13 L120.56,317.04 L120.79,316.96 L121.02,316.87 L121.25,316.78 L121.48,316.70 L121.71,316.62 L121.94,316.54 L122.17,316.46 L122.40,316.39 L122.63,316.31 L122.86,316.24 L123.10,316.18 L123.33,316.11 L123.56,316.05 L123.79,315.99 L124.02,315.94 L124.25,315.89 L124.48,315.84 L124.71,315.80 L124.94,315.76 L125.17,315.72 L125.40,315.69 L125.63,315.67 L125.86,315.64 L126.09,315.62 L126.32,315.60 L126.55,315.59 L126.78,315.58 L127.01,315.57 L127.24,315.57 L127.47,315.57 L127.70,315.57 L127.93,315.57 L128.16,315.58 L128.39,315.58 L128.62,315.60 L128.85,315.61 L129.08,315.62 L129.31,315.64 L129.54,315.66 L129.77,315.68 L130.00,315.70 L130.23,315.73 L130.47,315.75 L130.70,315.78 L130.93,315.81 L131.16,315.84 L131.39,315.87 L131.62,315.90 L131.85,315.93 L132.08,315.96 L132.31,316.00 L132.54,316.03 L132.77,316.07 L133.00,316.10 L133.23,316.14 L133.46,316.17 L133.69,316.21 L133.92,316.24 L134.15,316.28 L134.38,316.31 L134.61,316.35 L134.84,316.38 L135.07,316.41 L135.30,316.45 L135.53,316.48 L135.76,316.51 L135.99,316.54 L136.22,316.58 L136.45,316.61 L136.68,316.64 L136.91,316.67 L137.14,316.70 L137.37,316.73 L137.60,316.77 L137.84,316.80 L138.07,316.83 L138.30,316.86 L138.53,316.89 L138.76,316.92 L138.99,316.95 L139.22,316.98 L139.45,317.02 L139.68,317.05 L139.91,317.08 L140.14,317.11 L140.37,317.14 L140.60,317.17 L140.83,317.21 L141.06,317.24 L141.29,317.27 L141.52,317.31 L141.75,317.34 L141.98,317.37 L142.21,317.41 L142.44,317.44 L142.67,317.48 L142.90,317.52 L143.13,317.55 L143.36,317.59 L143.59,317.63 L143.82,317.66 L144.05,317.70 L144.28,317.74 L144.51,317.78 L144.74,317.82 L144.97,317.86 L145.21,317.90 L145.44,317.95 L145.67,317.99 L145.90,318.03 L146.13,318.08 L146.36,318.12 L146.59,318.17 L146.82,318.22 L147.05,318.27 L147.28,318.31 L147.51,318.36 L147.74,318.42 L147.97,318.47 L148.20,318.52 L148.43,318.57 L148.66,318.63 L148.89,318.68 L149.12,318.74 L149.35,318.80 L149.58,318.86 L149.81,318.92 L150.04,318.98 L150.27,319.04 L150.50,319.11 L150.73,319.17 L150.96,319.24 L151.19,319.31 L151.42,319.38 L151.65,319.45 L151.88,319.52 L152.11,319.59 L152.34,319.67 L152.58,319.74 L152.81,319.82 L153.04,319.90 L153.27,319.98 L153.50,320.05 L153.73,320.14 L153.96,320.22 L154.19,320.30 L154.42,320.38 L154.65,320.47 L154.88,320.55 L155.11,320.64 L155.34,320.72 L155.57,320.81 L155.80,320.89 L156.03,320.98 L156.26,321.07 L156.49,321.15 L156.72,321.24 L156.95,321.33 L157.18,321.42 L157.41,321.51 L157.64,321.59 L157.87,321.68 L158.10,321.77 L158.33,321.86 L158.56,321.95 L158.79,322.03 L159.02,322.12 L159.25,322.21 L159.48,322.30 L159.71,322.38 L159.95,322.47 L160.18,322.55 L160.41,322.64 L160.64,322.72 L160.87,322.80 L161.10,322.89 L161.33,322.97 L161.56,323.05 L161.79,323.13 L162.02,323.21 L162.25,323.29 L162.48,323.36 L162.71,323.44 L162.94,323.51 L163.17,323.59 L163.40,323.66 L163.63,323.73 L163.86,323.80 L164.09,323.87 L164.32,323.93 L164.55,324.00 L164.78,324.06 L165.01,324.13 L165.24,324.19 L165.47,324.24 L165.70,324.30 L165.93,324.36 L166.16,324.41 L166.39,324.46 L166.62,324.51 L166.85,324.56 L167.08,324.60 L167.32,324.65 L167.55,324.69 L167.78,324.73 L168.01,324.76 L168.24,324.80 L168.47,324.83 L168.70,324.86 L168.93,324.88 L169.16,324.91 L169.39,324.93 L169.62,324.95 L169.85,324.96 L170.08,324.98 L170.31,324.99 L170.54,325.00 L170.77,325.00 L171.00,325.00 L171.23,325.00 L171.46,325.00 L171.69,324.99 L171.92,324.98 L172.15,324.97 L172.38,324.96 L172.61,324.94 L172.84,324.92 L173.07,324.90 L173.30,324.87 L173.53,324.85 L173.76,324.82 L173.99,324.79 L174.22,324.75 L174.45,324.72 L174.69,324.68 L174.92,324.64 L175.15,324.60 L175.38,324.55 L175.61,324.51 L175.84,324.46 L176.07,324.41 L176.30,324.36 L176.53,324.30 L176.76,324.25 L176.99,324.19 L177.22,324.14 L177.45,324.08 L177.68,324.01 L177.91,323.95 L178.14,323.89 L178.37,323.82 L178.60,323.76 L178.83,323.69 L179.06,323.62 L179.29,323.55 L179.52,323.48 L179.75,323.41 L179.98,323.33 L180.21,323.26 L180.44,323.19 L180.67,323.11 L180.90,323.03 L181.13,322.96 L181.36,322.88 L181.59,322.80 L181.82,322.72 L182.06,322.64 L182.29,322.56 L182.52,322.48 L182.75,322.40 L182.98,322.32 L183.21,322.24 L183.44,322.15 L183.67,322.07 L183.90,321.99 L184.13,321.91 L184.36,321.83 L184.59,321.74 L184.82,321.66 L185.05,321.58 L185.28,321.50 L185.51,321.42 L185.74,321.34 L185.97,321.25 L186.20,321.17 L186.43,321.09 L186.66,321.01 L186.89,320.93 L187.12,320.86 L187.35,320.78 L187.58,320.70 L187.81,320.62 L188.04,320.55 L188.27,320.47 L188.50,320.39 L188.73,320.32 L188.96,320.24 L189.19,320.17 L189.42,320.10 L189.66,320.03 L189.89,319.95 L190.12,319.88 L190.35,319.81 L190.58,319.74 L190.81,319.67 L191.04,319.60 L191.27,319.53 L191.50,319.46 L191.73,319.40 L191.96,319.33 L192.19,319.26 L192.42,319.20 L192.65,319.13 L192.88,319.07 L193.11,319.01 L193.34,318.94 L193.57,318.88 L193.80,318.82 L194.03,318.76 L194.26,318.70 L194.49,318.64 L194.72,318.58 L194.95,318.52 L195.18,318.46 L195.41,318.40 L195.64,318.35 L195.87,318.29 L196.10,318.24 L196.33,318.18 L196.56,318.13 L196.79,318.07 L197.03,318.02 L197.26,317.97 L197.49,317.92 L197.72,317.87 L197.95,317.82 L198.18,317.77 L198.41,317.72 L198.64,317.67 L198.87,317.63 L199.10,317.58 L199.33,317.53 L199.56,317.49 L199.79,317.44 L200.02,317.40 L200.25,317.36 L200.48,317.32 L200.71,317.28 L200.94,317.24 L201.17,317.20 L201.40,317.16 L201.63,317.12 L201.86,317.08 L202.09,317.04 L202.32,317.01 L202.55,316.97 L202.78,316.94 L203.01,316.91 L203.24,316.87 L203.47,316.84 L203.70,316.81 L203.93,316.78 L204.16,316.75 L204.40,316.72 L204.63,316.69 L204.86,316.67 L205.09,316.64 L205.32,316.62 L205.55,316.59 L205.78,316.57 L206.01,316.54 L206.24,316.52 L206.47,316.50 L206.70,316.48 L206.93,316.46 L207.16,316.44 L207.39,316.42 L207.62,316.41 L207.85,316.39 L208.08,316.38 L208.31,316.36 L208.54,316.35 L208.77,316.33 L209.00,316.32 L209.23,316.31 L209.46,316.30 L209.69,316.29 L209.92,316.28 L210.15,316.28 L210.38,316.27 L210.61,316.26 L210.84,316.26 L211.07,316.26 L211.30,316.25 L211.53,316.25 L211.77,316.25 L212.00,316.25 L212.23,316.25 L212.46,316.25 L212.69,316.25 L212.92,316.25 L213.15,316.25 L213.38,316.26 L213.61,316.26 L213.84,316.27 L214.07,316.27 L214.30,316.28 L214.53,316.29 L214.76,316.30 L214.99,316.31 L215.22,316.31 L215.45,316.32 L215.68,316.34 L215.91,316.35 L216.14,316.36 L216.37,316.37 L216.60,316.38 L216.83,316.40 L217.06,316.41 L217.29,316.43 L217.52,316.44 L217.75,316.46 L217.98,316.48 L218.21,316.49 L218.44,316.51 L218.67,316.53 L218.90,316.55 L219.14,316.57 L219.37,316.59 L219.60,316.61 L219.83,316.63 L220.06,316.65 L220.29,316.67 L220.52,316.69 L220.75,316.72 L220.98,316.74 L221.21,316.76 L221.44,316.79 L221.67,316.81 L221.90,316.84 L222.13,316.86 L222.36,316.89 L222.59,316.91 L222.82,316.94 L223.05,316.97 L223.28,316.99 L223.51,317.02 L223.74,317.05 L223.97,317.08 L224.20,317.11 L224.43,317.14 L224.66,317.16 L224.89,317.19 L225.12,317.22 L225.35,317.25 L225.58,317.28 L225.81,317.31 L226.04,317.34 L226.27,317.37 L226.51,317.41 L226.74,317.44 L226.97,317.47 L227.20,317.50 L227.43,317.53 L227.66,317.56 L227.89,317.60 L228.12,317.63 L228.35,317.66 L228.58,317.69 L228.81,317.73 L229.04,317.76 L229.27,317.79 L229.50,317.83 L229.73,317.86 L229.96,317.89 L230.19,317.93 L230.42,317.96 L230.65,317.99 L230.88,318.03 L231.11,318.06 L231.34,318.09 L231.57,318.13 L231.80,318.16 L232.03,318.19 L232.26,318.23 L232.49,318.26 L232.72,318.30 L232.95,318.33 L233.18,318.36 L233.41,318.40 L233.64,318.43 L233.88,318.47 L234.11,318.50 L234.34,318.53 L234.57,318.57 L234.80,318.60 L235.03,318.63 L235.26,318.67 L235.49,318.70 L235.72,318.73 L235.95,318.77 L236.18,318.80 L236.41,318.83 L236.64,318.87 L236.87,318.90 L237.10,318.93 L237.33,318.97 L237.56,319.00 L237.79,319.03 L238.02,319.07 L238.25,319.10 L238.48,319.13 L238.71,319.16 L238.94,319.20 L239.17,319.23 L239.40,319.26 L239.63,319.29 L239.86,319.33 L240.09,319.36 L240.32,319.39 L240.55,319.42 L240.78,319.45 L241.01,319.48 L241.25,319.51 L241.48,319.55 L241.71,319.58 L241.94,319.61 L242.17,319.64 L242.40,319.67 L242.63,319.70 L242.86,319.73 L243.09,319.76 L243.32,319.79 L243.55,319.82 L243.78,319.85 L244.01,319.88 L244.24,319.90 L244.47,319.93 L244.70,319.96 L244.93,319.99 L245.16,320.02 L245.39,320.04 L245.62,320.07 L245.85,320.10 L246.08,320.13 L246.31,320.15 L246.54,320.18 L246.77,320.21 L247.00,320.23 L247.23,320.26 L247.46,320.28 L247.69,320.31 L247.92,320.33 L248.15,320.36 L248.38,320.38 L248.62,320.41 L248.85,320.43 L249.08,320.45 L249.31,320.48 L249.54,320.50 L249.77,320.52 L250.00,320.54 L250.23,320.57 L250.46,320.59 L250.69,320.61 L250.92,320.63 L251.15,320.65 L251.38,320.67 L251.61,320.69 L251.84,320.71 L252.07,320.73 L252.30,320.75" fill="none" stroke="#c81e24" stroke-width="2.6" stroke-dasharray="10.6,4.4" stroke-linejoin="round"/>
<path d="M45.25,364.60 L45.48,364.60 L45.71,364.60 L45.94,364.60 L46.17,364.60 L46.40,364.60 L46.63,364.60 L46.86,364.60 L47.09,364.60 L47.32,364.60 L47.55,364.60 L47.78,364.60 L48.01,364.60 L48.24,364.60 L48.47,364.60 L48.70,364.60 L48.93,364.60 L49.17,364.60 L49.40,364.60 L49.63,364.60 L49.86,364.60 L50.09,364.60 L50.32,364.60 L50.55,364.60 L50.78,364.60 L51.01,364.60 L51.24,364.60 L51.47,364.60 L51.70,364.60 L51.93,364.60 L52.16,364.60 L52.39,364.60 L52.62,364.60 L52.85,364.60 L53.08,364.60 L53.31,364.60 L53.54,364.60 L53.77,364.60 L54.00,364.60 L54.23,364.60 L54.46,364.60 L54.69,364.60 L54.92,364.60 L55.15,364.60 L55.38,364.60 L55.61,364.60 L55.84,364.60 L56.07,364.60 L56.30,364.60 L56.54,364.60 L56.77,364.60 L57.00,364.60 L57.23,364.60 L57.46,364.60 L57.69,364.60 L57.92,364.60 L58.15,364.60 L58.38,364.60 L58.61,364.60 L58.84,364.60 L59.07,364.60 L59.30,364.60 L59.53,364.60 L59.76,364.60 L59.99,364.60 L60.22,364.60 L60.45,364.60 L60.68,364.60 L60.91,364.60 L61.14,364.60 L61.37,364.60 L61.60,364.60 L61.83,364.60 L62.06,364.60 L62.29,364.60 L62.52,364.60 L62.75,364.60 L62.98,364.28 L63.21,362.97 L63.44,361.42 L63.67,359.67 L63.91,357.72 L64.14,355.58 L64.37,353.28 L64.60,350.82 L64.83,348.23 L65.06,345.51 L65.29,342.68 L65.52,339.76 L65.75,336.76 L65.98,333.70 L66.21,330.58 L66.44,327.41 L66.67,324.20 L66.90,320.94 L67.13,317.64 L67.36,314.30 L67.59,310.91 L67.82,307.48 L68.05,304.02 L68.28,300.51 L68.51,296.97 L68.74,293.39 L68.97,289.79 L69.20,286.18 L69.43,282.56 L69.66,278.97 L69.89,275.40 L70.12,271.88 L70.35,268.42 L70.58,265.04 L70.81,261.74 L71.04,258.55 L71.28,255.47 L71.51,252.51 L71.74,249.67 L71.97,246.95 L72.20,244.33 L72.43,241.83 L72.66,239.43 L72.89,237.14 L73.12,235.00 L73.35,233.07 L73.58,231.46 L73.81,230.24 L74.04,229.50 L74.27,229.33 L74.50,229.68 L74.73,230.48 L74.96,231.63 L75.19,233.06 L75.42,234.67 L75.65,236.38 L75.88,238.14 L76.11,239.94 L76.34,241.79 L76.57,243.70 L76.80,245.67 L77.03,247.72 L77.26,249.85 L77.49,252.07 L77.72,254.37 L77.95,256.73 L78.18,259.14 L78.41,261.58 L78.65,264.04 L78.88,266.49 L79.11,268.94 L79.34,271.35 L79.57,273.72 L79.80,276.03 L80.03,278.26 L80.26,280.40 L80.49,282.46 L80.72,284.43 L80.95,286.33 L81.18,288.15 L81.41,289.90 L81.64,291.58 L81.87,293.21 L82.10,294.77 L82.33,296.27 L82.56,297.73 L82.79,299.13 L83.02,300.49 L83.25,301.81 L83.48,303.10 L83.71,304.35 L83.94,305.57 L84.17,306.75 L84.40,307.90 L84.63,309.02 L84.86,310.10 L85.09,311.14 L85.32,312.15 L85.55,313.11 L85.78,314.04 L86.02,314.94 L86.25,315.79 L86.48,316.60 L86.71,317.37 L86.94,318.11 L87.17,318.79 L87.40,319.44 L87.63,320.05 L87.86,320.62 L88.09,321.16 L88.32,321.66 L88.55,322.12 L88.78,322.56 L89.01,322.96 L89.24,323.33 L89.47,323.67 L89.70,323.99 L89.93,324.28 L90.16,324.55 L90.39,324.80 L90.62,325.02 L90.85,325.23 L91.08,325.41 L91.31,325.58 L91.54,325.74 L91.77,325.87 L92.00,326.00 L92.23,326.12 L92.46,326.22 L92.69,326.31 L92.92,326.40 L93.15,326.47 L93.39,326.53 L93.62,326.59 L93.85,326.63 L94.08,326.66 L94.31,326.69 L94.54,326.71 L94.77,326.72 L95.00,326.72 L95.23,326.71 L95.46,326.69 L95.69,326.67 L95.92,326.64 L96.15,326.61 L96.38,326.56 L96.61,326.51 L96.84,326.46 L97.07,326.40 L97.30,326.33 L97.53,326.26 L97.76,326.19 L97.99,326.11 L98.22,326.02 L98.45,325.93 L98.68,325.84 L98.91,325.75 L99.14,325.65 L99.37,325.54 L99.60,325.44 L99.83,325.33 L100.06,325.22 L100.29,325.11 L100.52,325.00 L100.76,324.88 L100.99,324.77 L101.22,324.65 L101.45,324.53 L101.68,324.42 L101.91,324.30 L102.14,324.18 L102.37,324.07 L102.60,323.95 L102.83,323.84 L103.06,323.72 L103.29,323.61 L103.52,323.50 L103.75,323.39 L103.98,323.28 L104.21,323.18 L104.44,323.07 L104.67,322.97 L104.90,322.86 L105.13,322.76 L105.36,322.66 L105.59,322.56 L105.82,322.46 L106.05,322.36 L106.28,322.27 L106.51,322.17 L106.74,322.07 L106.97,321.98 L107.20,321.89 L107.43,321.79 L107.66,321.70 L107.89,321.61 L108.13,321.52 L108.36,321.43 L108.59,321.34 L108.82,321.25 L109.05,321.17 L109.28,321.08 L109.51,320.99 L109.74,320.90 L109.97,320.82 L110.20,320.73 L110.43,320.65 L110.66,320.56 L110.89,320.48 L111.12,320.39 L111.35,320.31 L111.58,320.23 L111.81,320.14 L112.04,320.06 L112.27,319.98 L112.50,319.89 L112.73,319.81 L112.96,319.73 L113.19,319.64 L113.42,319.56 L113.65,319.48 L113.88,319.39 L114.11,319.31 L114.34,319.22 L114.57,319.14 L114.80,319.06 L115.03,318.97 L115.26,318.89 L115.49,318.80 L115.73,318.72 L115.96,318.63 L116.19,318.54 L116.42,318.46 L116.65,318.37 L116.88,318.28 L117.11,318.20 L117.34,318.11 L117.57,318.02 L117.80,317.94 L118.03,317.85 L118.26,317.76 L118.49,317.68 L118.72,317.59 L118.95,317.51 L119.18,317.42 L119.41,317.34 L119.64,317.25 L119.87,317.17 L120.10,317.08 L120.33,317.00 L120.56,316.92 L120.79,316.84 L121.02,316.76 L121.25,316.68 L121.48,316.60 L121.71,316.52 L121.94,316.44 L122.17,316.36 L122.40,316.29 L122.63,316.22 L122.86,316.14 L123.10,316.07 L123.33,316.00 L123.56,315.93 L123.79,315.86 L124.02,315.80 L124.25,315.73 L124.48,315.67 L124.71,315.60 L124.94,315.54 L125.17,315.48 L125.40,315.43 L125.63,315.37 L125.86,315.31 L126.09,315.26 L126.32,315.21 L126.55,315.16 L126.78,315.11 L127.01,315.06 L127.24,315.02 L127.47,314.98 L127.70,314.93 L127.93,314.89 L128.16,314.86 L128.39,314.82 L128.62,314.78 L128.85,314.75 L129.08,314.72 L129.31,314.69 L129.54,314.66 L129.77,314.64 L130.00,314.61 L130.23,314.59 L130.47,314.57 L130.70,314.55 L130.93,314.54 L131.16,314.52 L131.39,314.51 L131.62,314.50 L131.85,314.49 L132.08,314.49 L132.31,314.48 L132.54,314.48 L132.77,314.48 L133.00,314.48 L133.23,314.49 L133.46,314.49 L133.69,314.50 L133.92,314.51 L134.15,314.53 L134.38,314.54 L134.61,314.56 L134.84,314.58 L135.07,314.60 L135.30,314.62 L135.53,314.65 L135.76,314.68 L135.99,314.71 L136.22,314.74 L136.45,314.77 L136.68,314.80 L136.91,314.84 L137.14,314.88 L137.37,314.92 L137.60,314.96 L137.84,315.00 L138.07,315.05 L138.30,315.10 L138.53,315.15 L138.76,315.20 L138.99,315.25 L139.22,315.30 L139.45,315.36 L139.68,315.41 L139.91,315.47 L140.14,315.53 L140.37,315.59 L140.60,315.65 L140.83,315.72 L141.06,315.78 L141.29,315.85 L141.52,315.91 L141.75,315.98 L141.98,316.05 L142.21,316.12 L142.44,316.20 L142.67,316.27 L142.90,316.35 L143.13,316.42 L143.36,316.50 L143.59,316.58 L143.82,316.65 L144.05,316.73 L144.28,316.82 L144.51,316.90 L144.74,316.98 L144.97,317.06 L145.21,317.15 L145.44,317.23 L145.67,317.32 L145.90,317.41 L146.13,317.50 L146.36,317.58 L146.59,317.67 L146.82,317.76 L147.05,317.85 L147.28,317.94 L147.51,318.04 L147.74,318.13 L147.97,318.22 L148.20,318.32 L148.43,318.41 L148.66,318.50 L148.89,318.60 L149.12,318.69 L149.35,318.79 L149.58,318.89 L149.81,318.98 L150.04,319.08 L150.27,319.18 L150.50,319.27 L150.73,319.37 L150.96,319.47 L151.19,319.57 L151.42,319.67 L151.65,319.76 L151.88,319.86 L152.11,319.96 L152.34,320.06 L152.58,320.16 L152.81,320.26 L153.04,320.35 L153.27,320.45 L153.50,320.55 L153.73,320.65 L153.96,320.74 L154.19,320.84 L154.42,320.94 L154.65,321.04 L154.88,321.13 L155.11,321.23 L155.34,321.32 L155.57,321.42 L155.80,321.51 L156.03,321.61 L156.26,321.70 L156.49,321.79 L156.72,321.88 L156.95,321.98 L157.18,322.07 L157.41,322.16 L157.64,322.25 L157.87,322.33 L158.10,322.42 L158.33,322.51 L158.56,322.59 L158.79,322.68 L159.02,322.76 L159.25,322.85 L159.48,322.93 L159.71,323.01 L159.95,323.09 L160.18,323.17 L160.41,323.25 L160.64,323.32 L160.87,323.40 L161.10,323.47 L161.33,323.54 L161.56,323.61 L161.79,323.68 L162.02,323.75 L162.25,323.82 L162.48,323.88 L162.71,323.95 L162.94,324.01 L163.17,324.07 L163.40,324.13 L163.63,324.19 L163.86,324.24 L164.09,324.30 L164.32,324.35 L164.55,324.40 L164.78,324.45 L165.01,324.50 L165.24,324.54 L165.47,324.59 L165.70,324.63 L165.93,324.67 L166.16,324.70 L166.39,324.74 L166.62,324.77 L166.85,324.80 L167.08,324.83 L167.32,324.86 L167.55,324.88 L167.78,324.91 L168.01,324.93 L168.24,324.94 L168.47,324.96 L168.70,324.97 L168.93,324.98 L169.16,324.99 L169.39,325.00 L169.62,325.00 L169.85,325.00 L170.08,325.00 L170.31,324.99 L170.54,324.99 L170.77,324.98 L171.00,324.97 L171.23,324.95 L171.46,324.93 L171.69,324.91 L171.92,324.89 L172.15,324.87 L172.38,324.84 L172.61,324.82 L172.84,324.79 L173.07,324.75 L173.30,324.72 L173.53,324.68 L173.76,324.64 L173.99,324.60 L174.22,324.56 L174.45,324.52 L174.69,324.47 L174.92,324.43 L175.15,324.38 L175.38,324.33 L175.61,324.27 L175.84,324.22 L176.07,324.17 L176.30,324.11 L176.53,324.05 L176.76,323.99 L176.99,323.93 L177.22,323.87 L177.45,323.81 L177.68,323.74 L177.91,323.68 L178.14,323.61 L178.37,323.54 L178.60,323.47 L178.83,323.40 L179.06,323.33 L179.29,323.26 L179.52,323.19 L179.75,323.12 L179.98,323.04 L180.21,322.97 L180.44,322.89 L180.67,322.82 L180.90,322.74 L181.13,322.67 L181.36,322.59 L181.59,322.51 L181.82,322.43 L182.06,322.35 L182.29,322.28 L182.52,322.20 L182.75,322.12 L182.98,322.04 L183.21,321.96 L183.44,321.88 L183.67,321.80 L183.90,321.72 L184.13,321.64 L184.36,321.56 L184.59,321.48 L184.82,321.40 L185.05,321.32 L185.28,321.24 L185.51,321.17 L185.74,321.09 L185.97,321.01 L186.20,320.93 L186.43,320.86 L186.66,320.78 L186.89,320.70 L187.12,320.63 L187.35,320.55 L187.58,320.48 L187.81,320.41 L188.04,320.33 L188.27,320.26 L188.50,320.19 L188.73,320.11 L188.96,320.04 L189.19,319.97 L189.42,319.90 L189.66,319.83 L189.89,319.76 L190.12,319.69 L190.35,319.62 L190.58,319.56 L190.81,319.49 L191.04,319.42 L191.27,319.36 L191.50,319.29 L191.73,319.23 L191.96,319.16 L192.19,319.10 L192.42,319.03 L192.65,318.97 L192.88,318.91 L193.11,318.85 L193.34,318.79 L193.57,318.73 L193.80,318.67 L194.03,318.61 L194.26,318.55 L194.49,318.49 L194.72,318.43 L194.95,318.38 L195.18,318.32 L195.41,318.27 L195.64,318.21 L195.87,318.16 L196.10,318.10 L196.33,318.05 L196.56,318.00 L196.79,317.95 L197.03,317.90 L197.26,317.85 L197.49,317.80 L197.72,317.75 L197.95,317.70 L198.18,317.65 L198.41,317.60 L198.64,317.56 L198.87,317.51 L199.10,317.47 L199.33,317.42 L199.56,317.38 L199.79,317.34 L200.02,317.30 L200.25,317.26 L200.48,317.22 L200.71,317.18 L200.94,317.14 L201.17,317.10 L201.40,317.06 L201.63,317.03 L201.86,316.99 L202.09,316.96 L202.32,316.92 L202.55,316.89 L202.78,316.86 L203.01,316.82 L203.24,316.79 L203.47,316.76 L203.70,316.73 L203.93,316.70 L204.16,316.68 L204.40,316.65 L204.63,316.62 L204.86,316.60 L205.09,316.57 L205.32,316.55 L205.55,316.53 L205.78,316.51 L206.01,316.49 L206.24,316.47 L206.47,316.45 L206.70,316.43 L206.93,316.41 L207.16,316.39 L207.39,316.38 L207.62,316.36 L207.85,316.35 L208.08,316.34 L208.31,316.32 L208.54,316.31 L208.77,316.30 L209.00,316.29 L209.23,316.28 L209.46,316.28 L209.69,316.27 L209.92,316.26 L210.15,316.26 L210.38,316.25 L210.61,316.25 L210.84,316.25 L211.07,316.25 L211.30,316.25 L211.53,316.25 L211.77,316.25 L212.00,316.25 L212.23,316.25 L212.46,316.25 L212.69,316.26 L212.92,316.26 L213.15,316.27 L213.38,316.27 L213.61,316.28 L213.84,316.29 L214.07,316.30 L214.30,316.30 L214.53,316.31 L214.76,316.32 L214.99,316.33 L215.22,316.35 L215.45,316.36 L215.68,316.37 L215.91,316.39 L216.14,316.40 L216.37,316.41 L216.60,316.43 L216.83,316.45 L217.06,316.46 L217.29,316.48 L217.52,316.50 L217.75,316.51 L217.98,316.53 L218.21,316.55 L218.44,316.57 L218.67,316.59 L218.90,316.61 L219.14,316.63 L219.37,316.66 L219.60,316.68 L219.83,316.70 L220.06,316.72 L220.29,316.75 L220.52,316.77 L220.75,316.79 L220.98,316.82 L221.21,316.84 L221.44,316.87 L221.67,316.90 L221.90,316.92 L222.13,316.95 L222.36,316.98 L222.59,317.00 L222.82,317.03 L223.05,317.06 L223.28,317.09 L223.51,317.11 L223.74,317.14 L223.97,317.17 L224.20,317.20 L224.43,317.23 L224.66,317.26 L224.89,317.29 L225.12,317.32 L225.35,317.35 L225.58,317.38 L225.81,317.41 L226.04,317.45 L226.27,317.48 L226.51,317.51 L226.74,317.54 L226.97,317.57 L227.20,317.60 L227.43,317.64 L227.66,317.67 L227.89,317.70 L228.12,317.73 L228.35,317.77 L228.58,317.80 L228.81,317.83 L229.04,317.86 L229.27,317.90 L229.50,317.93 L229.73,317.96 L229.96,317.99 L230.19,318.03 L230.42,318.06 L230.65,318.09 L230.88,318.13 L231.11,318.16 L231.34,318.19 L231.57,318.22 L231.80,318.26 L232.03,318.29 L232.26,318.32 L232.49,318.36 L232.72,318.39 L232.95,318.42 L233.18,318.45 L233.41,318.49 L233.64,318.52 L233.88,318.55 L234.11,318.58 L234.34,318.62 L234.57,318.65 L234.80,318.68 L235.03,318.71 L235.26,318.75 L235.49,318.78 L235.72,318.81 L235.95,318.84 L236.18,318.88 L236.41,318.91 L236.64,318.94 L236.87,318.97 L237.10,319.00 L237.33,319.03 L237.56,319.07 L237.79,319.10 L238.02,319.13 L238.25,319.16 L238.48,319.19 L238.71,319.22 L238.94,319.25 L239.17,319.28 L239.40,319.31 L239.63,319.35 L239.86,319.38 L240.09,319.41 L240.32,319.44 L240.55,319.47 L240.78,319.50 L241.01,319.53 L241.25,319.56 L241.48,319.59 L241.71,319.61 L241.94,319.64 L242.17,319.67 L242.40,319.70 L242.63,319.73 L242.86,319.76 L243.09,319.79 L243.32,319.82 L243.55,319.84 L243.78,319.87 L244.01,319.90 L244.24,319.93 L244.47,319.95 L244.70,319.98 L244.93,320.01 L245.16,320.03 L245.39,320.06 L245.62,320.09 L245.85,320.11 L246.08,320.14 L246.31,320.17 L246.54,320.19 L246.77,320.22 L247.00,320.24 L247.23,320.27 L247.46,320.29 L247.69,320.31 L247.92,320.34 L248.15,320.36 L248.38,320.39 L248.62,320.41 L248.85,320.43 L249.08,320.46 L249.31,320.48 L249.54,320.50 L249.77,320.52 L250.00,320.54 L250.23,320.57 L250.46,320.59 L250.69,320.61 L250.92,320.63 L251.15,320.65 L251.38,320.67 L251.61,320.69 L251.84,320.71 L252.07,320.73 L252.30,320.75" fill="none" stroke="#000" stroke-width="2.6" stroke-dasharray="2.6,3.85" stroke-linejoin="round"/>
</g>
<path d="M45.25,205.8 L45.25,364.55 L252.3,364.55" fill="none" stroke="#000" stroke-width="0.95" stroke-linecap="square"/>
<line x1="41.25" y1="364.55" x2="45.25" y2="364.55" stroke="#000" stroke-width="0.95"/>
<text x="36.65" y="369.70" font-size="12.0" text-anchor="end">0.0</text>
<line x1="41.25" y1="341.87" x2="45.25" y2="341.87" stroke="#000" stroke-width="0.95"/>
<text x="36.65" y="347.02" font-size="12.0" text-anchor="end">0.5</text>
<line x1="41.25" y1="319.19" x2="45.25" y2="319.19" stroke="#000" stroke-width="0.95"/>
<text x="36.65" y="324.34" font-size="12.0" text-anchor="end">1.0</text>
<line x1="41.25" y1="296.51" x2="45.25" y2="296.51" stroke="#000" stroke-width="0.95"/>
<text x="36.65" y="301.66" font-size="12.0" text-anchor="end">1.5</text>
<line x1="41.25" y1="273.84" x2="45.25" y2="273.84" stroke="#000" stroke-width="0.95"/>
<text x="36.65" y="278.99" font-size="12.0" text-anchor="end">2.0</text>
<line x1="41.25" y1="251.16" x2="45.25" y2="251.16" stroke="#000" stroke-width="0.95"/>
<text x="36.65" y="256.31" font-size="12.0" text-anchor="end">2.5</text>
<line x1="41.25" y1="228.48" x2="45.25" y2="228.48" stroke="#000" stroke-width="0.95"/>
<text x="36.65" y="233.63" font-size="12.0" text-anchor="end">3.0</text>
<line x1="41.25" y1="205.80" x2="45.25" y2="205.80" stroke="#000" stroke-width="0.95"/>
<text x="36.65" y="210.95" font-size="12.0" text-anchor="end">3.5</text>
<line x1="45.25" y1="364.55" x2="45.25" y2="368.55" stroke="#000" stroke-width="0.95"/>
<text x="45.25" y="382.45" font-size="12.0" text-anchor="middle">2</text>
<line x1="79.76" y1="364.55" x2="79.76" y2="368.55" stroke="#000" stroke-width="0.95"/>
<text x="79.76" y="382.45" font-size="12.0" text-anchor="middle">3</text>
<line x1="114.27" y1="364.55" x2="114.27" y2="368.55" stroke="#000" stroke-width="0.95"/>
<text x="114.27" y="382.45" font-size="12.0" text-anchor="middle">4</text>
<line x1="148.78" y1="364.55" x2="148.78" y2="368.55" stroke="#000" stroke-width="0.95"/>
<text x="148.78" y="382.45" font-size="12.0" text-anchor="middle">5</text>
<line x1="183.28" y1="364.55" x2="183.28" y2="368.55" stroke="#000" stroke-width="0.95"/>
<text x="183.28" y="382.45" font-size="12.0" text-anchor="middle">6</text>
<line x1="217.79" y1="364.55" x2="217.79" y2="368.55" stroke="#000" stroke-width="0.95"/>
<text x="217.79" y="382.45" font-size="12.0" text-anchor="middle">7</text>
<line x1="252.30" y1="364.55" x2="252.30" y2="368.55" stroke="#000" stroke-width="0.95"/>
<text x="252.30" y="382.45" font-size="12.0" text-anchor="middle">8</text>
<clipPath id="c11"><rect x="293.85" y="205.8" width="207.00" height="158.75"/></clipPath>
<g clip-path="url(#c11)">
<path d="M293.85,364.60 L294.08,364.60 L294.31,364.60 L294.54,364.60 L294.77,364.60 L295.00,364.60 L295.23,364.60 L295.46,364.60 L295.69,364.60 L295.92,364.60 L296.15,364.60 L296.38,364.60 L296.61,364.60 L296.84,364.60 L297.07,364.60 L297.30,364.60 L297.53,364.60 L297.76,364.60 L297.99,364.60 L298.22,364.60 L298.46,364.60 L298.69,364.60 L298.92,364.60 L299.15,364.60 L299.38,364.60 L299.61,364.60 L299.84,364.60 L300.07,364.60 L300.30,364.60 L300.53,364.60 L300.76,364.60 L300.99,364.60 L301.22,364.60 L301.45,364.60 L301.68,364.60 L301.91,364.60 L302.14,364.60 L302.37,364.60 L302.60,364.60 L302.83,364.60 L303.06,364.60 L303.29,364.60 L303.52,364.24 L303.75,363.41 L303.98,362.22 L304.21,360.71 L304.44,358.90 L304.67,356.82 L304.90,354.50 L305.13,351.97 L305.36,349.26 L305.59,346.40 L305.82,343.41 L306.05,340.32 L306.28,337.17 L306.51,333.97 L306.74,330.76 L306.97,327.57 L307.20,324.40 L307.44,321.24 L307.67,318.05 L307.90,314.81 L308.13,311.50 L308.36,308.08 L308.59,304.54 L308.82,300.85 L309.05,296.98 L309.28,292.91 L309.51,288.65 L309.74,284.24 L309.97,279.76 L310.20,275.27 L310.43,270.83 L310.66,266.49 L310.89,262.34 L311.12,258.41 L311.35,254.78 L311.58,251.46 L311.81,248.44 L312.04,245.71 L312.27,243.26 L312.50,241.08 L312.73,239.19 L312.96,237.64 L313.19,236.50 L313.42,235.82 L313.65,235.65 L313.88,236.00 L314.11,236.84 L314.34,238.15 L314.57,239.89 L314.80,242.03 L315.03,244.55 L315.26,247.39 L315.49,250.49 L315.72,253.78 L315.95,257.21 L316.18,260.72 L316.42,264.24 L316.65,267.72 L316.88,271.09 L317.11,274.33 L317.34,277.42 L317.57,280.38 L317.80,283.22 L318.03,285.93 L318.26,288.52 L318.49,291.00 L318.72,293.38 L318.95,295.66 L319.18,297.84 L319.41,299.93 L319.64,301.93 L319.87,303.86 L320.10,305.71 L320.33,307.49 L320.56,309.22 L320.79,310.89 L321.02,312.54 L321.25,314.15 L321.48,315.76 L321.71,317.36 L321.94,318.98 L322.17,320.62 L322.40,322.28 L322.63,323.94 L322.86,325.57 L323.09,327.18 L323.32,328.73 L323.55,330.22 L323.78,331.62 L324.01,332.93 L324.24,334.13 L324.47,335.23 L324.70,336.24 L324.93,337.17 L325.16,338.01 L325.40,338.78 L325.63,339.48 L325.86,340.11 L326.09,340.70 L326.32,341.23 L326.55,341.71 L326.78,342.16 L327.01,342.58 L327.24,342.97 L327.47,343.34 L327.70,343.69 L327.93,344.04 L328.16,344.39 L328.39,344.74 L328.62,345.08 L328.85,345.43 L329.08,345.77 L329.31,346.10 L329.54,346.42 L329.77,346.73 L330.00,347.02 L330.23,347.30 L330.46,347.55 L330.69,347.79 L330.92,348.00 L331.15,348.18 L331.38,348.33 L331.61,348.45 L331.84,348.54 L332.07,348.59 L332.30,348.60 L332.53,348.57 L332.76,348.50 L332.99,348.40 L333.22,348.25 L333.45,348.08 L333.68,347.87 L333.91,347.63 L334.14,347.36 L334.38,347.06 L334.61,346.73 L334.84,346.38 L335.07,346.00 L335.30,345.60 L335.53,345.18 L335.76,344.73 L335.99,344.27 L336.22,343.79 L336.45,343.30 L336.68,342.79 L336.91,342.26 L337.14,341.70 L337.37,341.13 L337.60,340.52 L337.83,339.89 L338.06,339.22 L338.29,338.52 L338.52,337.78 L338.75,337.00 L338.98,336.17 L339.21,335.29 L339.44,334.36 L339.67,333.38 L339.90,332.34 L340.13,331.25 L340.36,330.08 L340.59,328.84 L340.82,327.50 L341.05,326.04 L341.28,324.45 L341.51,322.71 L341.74,320.80 L341.97,318.71 L342.20,316.47 L342.43,314.15 L342.66,311.87 L342.89,309.71 L343.12,307.77 L343.36,306.15 L343.59,304.88 L343.82,303.88 L344.05,303.03 L344.28,302.25 L344.51,301.42 L344.74,300.44 L344.97,299.20 L345.20,297.64 L345.43,295.76 L345.66,293.64 L345.89,291.36 L346.12,288.98 L346.35,286.57 L346.58,284.21 L346.81,281.96 L347.04,279.77 L347.27,277.61 L347.50,275.42 L347.73,273.14 L347.96,270.72 L348.19,268.11 L348.42,265.28 L348.65,262.31 L348.88,259.30 L349.11,256.38 L349.34,253.65 L349.57,251.21 L349.80,249.04 L350.03,247.09 L350.26,245.26 L350.49,243.50 L350.72,241.72 L350.95,239.88 L351.18,238.01 L351.41,236.13 L351.64,234.29 L351.87,232.53 L352.10,230.87 L352.33,229.35 L352.57,227.96 L352.80,226.69 L353.03,225.54 L353.26,224.48 L353.49,223.51 L353.72,222.61 L353.95,221.78 L354.18,221.01 L354.41,220.29 L354.64,219.63 L354.87,219.03 L355.10,218.49 L355.33,218.04 L355.56,217.65 L355.79,217.35 L356.02,217.14 L356.25,217.01 L356.48,216.99 L356.71,217.05 L356.94,217.21 L357.17,217.45 L357.40,217.78 L357.63,218.18 L357.86,218.67 L358.09,219.23 L358.32,219.87 L358.55,220.57 L358.78,221.34 L359.01,222.17 L359.24,223.06 L359.47,224.00 L359.70,224.99 L359.93,226.01 L360.16,227.05 L360.39,228.11 L360.62,229.18 L360.85,230.24 L361.08,231.30 L361.31,232.33 L361.55,233.33 L361.78,234.30 L362.01,235.24 L362.24,236.17 L362.47,237.07 L362.70,237.97 L362.93,238.87 L363.16,239.76 L363.39,240.66 L363.62,241.57 L363.85,242.50 L364.08,243.44 L364.31,244.39 L364.54,245.34 L364.77,246.30 L365.00,247.25 L365.23,248.19 L365.46,249.11 L365.69,250.02 L365.92,250.90 L366.15,251.75 L366.38,252.58 L366.61,253.39 L366.84,254.19 L367.07,254.99 L367.30,255.79 L367.53,256.60 L367.76,257.43 L367.99,258.29 L368.22,259.19 L368.45,260.13 L368.68,261.10 L368.91,262.09 L369.14,263.09 L369.37,264.07 L369.60,265.02 L369.83,265.93 L370.06,266.78 L370.29,267.55 L370.53,268.25 L370.76,268.88 L370.99,269.45 L371.22,269.96 L371.45,270.43 L371.68,270.84 L371.91,271.22 L372.14,271.57 L372.37,271.89 L372.60,272.19 L372.83,272.47 L373.06,272.75 L373.29,273.02 L373.52,273.29 L373.75,273.56 L373.98,273.82 L374.21,274.08 L374.44,274.34 L374.67,274.59 L374.90,274.83 L375.13,275.07 L375.36,275.31 L375.59,275.53 L375.82,275.75 L376.05,275.97 L376.28,276.17 L376.51,276.37 L376.74,276.55 L376.97,276.73 L377.20,276.90 L377.43,277.06 L377.66,277.21 L377.89,277.35 L378.12,277.49 L378.35,277.61 L378.58,277.73 L378.81,277.85 L379.04,277.95 L379.27,278.05 L379.51,278.15 L379.74,278.23 L379.97,278.32 L380.20,278.39 L380.43,278.47 L380.66,278.54 L380.89,278.60 L381.12,278.66 L381.35,278.72 L381.58,278.77 L381.81,278.83 L382.04,278.87 L382.27,278.92 L382.50,278.97 L382.73,279.01 L382.96,279.06 L383.19,279.10 L383.42,279.14 L383.65,279.18 L383.88,279.22 L384.11,279.27 L384.34,279.31 L384.57,279.35 L384.80,279.39 L385.03,279.43 L385.26,279.47 L385.49,279.52 L385.72,279.56 L385.95,279.61 L386.18,279.65 L386.41,279.70 L386.64,279.74 L386.87,279.79 L387.10,279.84 L387.33,279.89 L387.56,279.94 L387.79,279.99 L388.02,280.05 L388.25,280.11 L388.49,280.16 L388.72,280.22 L388.95,280.29 L389.18,280.35 L389.41,280.41 L389.64,280.48 L389.87,280.55 L390.10,280.62 L390.33,280.69 L390.56,280.76 L390.79,280.83 L391.02,280.90 L391.25,280.97 L391.48,281.04 L391.71,281.11 L391.94,281.18 L392.17,281.25 L392.40,281.32 L392.63,281.38 L392.86,281.44 L393.09,281.50 L393.32,281.56 L393.55,281.62 L393.78,281.67 L394.01,281.71 L394.24,281.76 L394.47,281.80 L394.70,281.84 L394.93,281.87 L395.16,281.90 L395.39,281.92 L395.62,281.94 L395.85,281.95 L396.08,281.96 L396.31,281.96 L396.54,281.96 L396.77,281.96 L397.00,281.95 L397.23,281.93 L397.47,281.92 L397.70,281.89 L397.93,281.87 L398.16,281.84 L398.39,281.81 L398.62,281.77 L398.85,281.73 L399.08,281.69 L399.31,281.64 L399.54,281.59 L399.77,281.54 L400.00,281.48 L400.23,281.42 L400.46,281.36 L400.69,281.30 L400.92,281.23 L401.15,281.16 L401.38,281.09 L401.61,281.01 L401.84,280.93 L402.07,280.86 L402.30,280.77 L402.53,280.69 L402.76,280.61 L402.99,280.52 L403.22,280.43 L403.45,280.34 L403.68,280.25 L403.91,280.16 L404.14,280.06 L404.37,279.97 L404.60,279.87 L404.83,279.78 L405.06,279.68 L405.29,279.58 L405.52,279.48 L405.75,279.38 L405.98,279.28 L406.21,279.18 L406.45,279.07 L406.68,278.97 L406.91,278.87 L407.14,278.77 L407.37,278.67 L407.60,278.56 L407.83,278.46 L408.06,278.36 L408.29,278.26 L408.52,278.16 L408.75,278.06 L408.98,277.96 L409.21,277.86 L409.44,277.77 L409.67,277.67 L409.90,277.58 L410.13,277.48 L410.36,277.39 L410.59,277.30 L410.82,277.21 L411.05,277.12 L411.28,277.03 L411.51,276.94 L411.74,276.86 L411.97,276.77 L412.20,276.69 L412.43,276.61 L412.66,276.53 L412.89,276.45 L413.12,276.37 L413.35,276.29 L413.58,276.21 L413.81,276.14 L414.04,276.06 L414.27,275.99 L414.50,275.92 L414.73,275.85 L414.96,275.78 L415.19,275.72 L415.43,275.65 L415.66,275.59 L415.89,275.52 L416.12,275.46 L416.35,275.40 L416.58,275.34 L416.81,275.28 L417.04,275.23 L417.27,275.17 L417.50,275.12 L417.73,275.07 L417.96,275.01 L418.19,274.97 L418.42,274.92 L418.65,274.87 L418.88,274.83 L419.11,274.78 L419.34,274.74 L419.57,274.70 L419.80,274.66 L420.03,274.62 L420.26,274.59 L420.49,274.55 L420.72,274.52 L420.95,274.49 L421.18,274.46 L421.41,274.43 L421.64,274.40 L421.87,274.38 L422.10,274.35 L422.33,274.33 L422.56,274.31 L422.79,274.29 L423.02,274.28 L423.25,274.26 L423.48,274.25 L423.71,274.23 L423.94,274.22 L424.17,274.22 L424.41,274.21 L424.64,274.20 L424.87,274.20 L425.10,274.20 L425.33,274.20 L425.56,274.20 L425.79,274.20 L426.02,274.21 L426.25,274.21 L426.48,274.22 L426.71,274.23 L426.94,274.24 L427.17,274.25 L427.40,274.26 L427.63,274.28 L427.86,274.30 L428.09,274.31 L428.32,274.33 L428.55,274.35 L428.78,274.38 L429.01,274.40 L429.24,274.42 L429.47,274.45 L429.70,274.48 L429.93,274.51 L430.16,274.54 L430.39,274.57 L430.62,274.60 L430.85,274.63 L431.08,274.67 L431.31,274.70 L431.54,274.74 L431.77,274.78 L432.00,274.81 L432.23,274.85 L432.46,274.89 L432.69,274.93 L432.92,274.98 L433.15,275.02 L433.39,275.06 L433.62,275.11 L433.85,275.15 L434.08,275.20 L434.31,275.25 L434.54,275.30 L434.77,275.35 L435.00,275.40 L435.23,275.45 L435.46,275.50 L435.69,275.55 L435.92,275.60 L436.15,275.65 L436.38,275.71 L436.61,275.76 L436.84,275.82 L437.07,275.87 L437.30,275.93 L437.53,275.98 L437.76,276.04 L437.99,276.09 L438.22,276.15 L438.45,276.21 L438.68,276.27 L438.91,276.33 L439.14,276.39 L439.37,276.44 L439.60,276.50 L439.83,276.56 L440.06,276.62 L440.29,276.68 L440.52,276.74 L440.75,276.80 L440.98,276.86 L441.21,276.92 L441.44,276.98 L441.67,277.04 L441.90,277.09 L442.13,277.15 L442.37,277.21 L442.60,277.26 L442.83,277.32 L443.06,277.37 L443.29,277.43 L443.52,277.48 L443.75,277.53 L443.98,277.58 L444.21,277.63 L444.44,277.68 L444.67,277.73 L444.90,277.77 L445.13,277.82 L445.36,277.86 L445.59,277.90 L445.82,277.94 L446.05,277.98 L446.28,278.02 L446.51,278.05 L446.74,278.08 L446.97,278.12 L447.20,278.14 L447.43,278.17 L447.66,278.20 L447.89,278.22 L448.12,278.24 L448.35,278.26 L448.58,278.27 L448.81,278.29 L449.04,278.30 L449.27,278.31 L449.50,278.32 L449.73,278.32 L449.96,278.33 L450.19,278.33 L450.42,278.33 L450.65,278.33 L450.88,278.32 L451.11,278.32 L451.34,278.31 L451.58,278.30 L451.81,278.29 L452.04,278.28 L452.27,278.27 L452.50,278.25 L452.73,278.23 L452.96,278.21 L453.19,278.19 L453.42,278.17 L453.65,278.15 L453.88,278.13 L454.11,278.10 L454.34,278.07 L454.57,278.04 L454.80,278.01 L455.03,277.98 L455.26,277.95 L455.49,277.92 L455.72,277.88 L455.95,277.85 L456.18,277.81 L456.41,277.77 L456.64,277.73 L456.87,277.69 L457.10,277.65 L457.33,277.61 L457.56,277.57 L457.79,277.52 L458.02,277.48 L458.25,277.43 L458.48,277.39 L458.71,277.34 L458.94,277.29 L459.17,277.24 L459.40,277.19 L459.63,277.14 L459.86,277.09 L460.09,277.04 L460.32,276.99 L460.56,276.94 L460.79,276.88 L461.02,276.83 L461.25,276.78 L461.48,276.72 L461.71,276.67 L461.94,276.61 L462.17,276.56 L462.40,276.50 L462.63,276.45 L462.86,276.39 L463.09,276.34 L463.32,276.28 L463.55,276.22 L463.78,276.17 L464.01,276.11 L464.24,276.05 L464.47,276.00 L464.70,275.94 L464.93,275.88 L465.16,275.83 L465.39,275.77 L465.62,275.72 L465.85,275.66 L466.08,275.60 L466.31,275.55 L466.54,275.49 L466.77,275.44 L467.00,275.38 L467.23,275.33 L467.46,275.28 L467.69,275.22 L467.92,275.17 L468.15,275.12 L468.38,275.06 L468.61,275.01 L468.84,274.96 L469.07,274.91 L469.30,274.86 L469.54,274.81 L469.77,274.76 L470.00,274.71 L470.23,274.67 L470.46,274.62 L470.69,274.57 L470.92,274.53 L471.15,274.48 L471.38,274.44 L471.61,274.40 L471.84,274.35 L472.07,274.31 L472.30,274.27 L472.53,274.23 L472.76,274.19 L472.99,274.16 L473.22,274.12 L473.45,274.08 L473.68,274.05 L473.91,274.02 L474.14,273.98 L474.37,273.95 L474.60,273.92 L474.83,273.89 L475.06,273.86 L475.29,273.84 L475.52,273.81 L475.75,273.79 L475.98,273.76 L476.21,273.74 L476.44,273.72 L476.67,273.70 L476.90,273.69 L477.13,273.67 L477.36,273.65 L477.59,273.64 L477.82,273.63 L478.05,273.62 L478.28,273.61 L478.52,273.60 L478.75,273.60 L478.98,273.59 L479.21,273.59 L479.44,273.59 L479.67,273.59 L479.90,273.59 L480.13,273.60 L480.36,273.60 L480.59,273.61 L480.82,273.62 L481.05,273.63 L481.28,273.65 L481.51,273.66 L481.74,273.68 L481.97,273.69 L482.20,273.71 L482.43,273.73 L482.66,273.75 L482.89,273.78 L483.12,273.80 L483.35,273.83 L483.58,273.85 L483.81,273.88 L484.04,273.91 L484.27,273.94 L484.50,273.97 L484.73,274.00 L484.96,274.04 L485.19,274.07 L485.42,274.10 L485.65,274.14 L485.88,274.18 L486.11,274.21 L486.34,274.25 L486.57,274.29 L486.80,274.33 L487.03,274.37 L487.26,274.41 L487.50,274.45 L487.73,274.49 L487.96,274.53 L488.19,274.58 L488.42,274.62 L488.65,274.66 L488.88,274.70 L489.11,274.75 L489.34,274.79 L489.57,274.83 L489.80,274.88 L490.03,274.92 L490.26,274.97 L490.49,275.01 L490.72,275.05 L490.95,275.10 L491.18,275.14 L491.41,275.18 L491.64,275.23 L491.87,275.27 L492.10,275.31 L492.33,275.35 L492.56,275.40 L492.79,275.44 L493.02,275.48 L493.25,275.52 L493.48,275.56 L493.71,275.60 L493.94,275.64 L494.17,275.68 L494.40,275.71 L494.63,275.75 L494.86,275.78 L495.09,275.82 L495.32,275.85 L495.55,275.89 L495.78,275.92 L496.01,275.95 L496.24,275.98 L496.48,276.01 L496.71,276.04 L496.94,276.06 L497.17,276.09 L497.40,276.11 L497.63,276.14 L497.86,276.16 L498.09,276.18 L498.32,276.20 L498.55,276.21 L498.78,276.23 L499.01,276.25 L499.24,276.26 L499.47,276.27 L499.70,276.28 L499.93,276.29 L500.16,276.29 L500.39,276.30 L500.62,276.30 L500.85,276.30" fill="none" stroke="#80f0f0" stroke-width="3.4" stroke-linejoin="round"/>
<path d="M293.85,364.60 L294.08,364.60 L294.31,364.60 L294.54,364.60 L294.77,364.60 L295.00,364.60 L295.23,364.60 L295.46,364.60 L295.69,364.60 L295.92,364.60 L296.15,364.60 L296.38,364.60 L296.61,364.60 L296.84,364.60 L297.07,364.60 L297.30,364.60 L297.53,364.60 L297.76,364.60 L297.99,364.60 L298.22,364.60 L298.46,364.60 L298.69,364.60 L298.92,364.60 L299.15,364.60 L299.38,364.60 L299.61,364.60 L299.84,364.60 L300.07,364.60 L300.30,364.60 L300.53,364.60 L300.76,364.60 L300.99,364.60 L301.22,364.60 L301.45,364.60 L301.68,364.60 L301.91,364.60 L302.14,364.60 L302.37,364.60 L302.60,364.60 L302.83,364.60 L303.06,364.60 L303.29,364.60 L303.52,364.60 L303.75,364.60 L303.98,364.60 L304.21,364.60 L304.44,364.60 L304.67,364.60 L304.90,364.60 L305.13,363.65 L305.36,362.30 L305.59,360.69 L305.82,358.84 L306.05,356.78 L306.28,354.52 L306.51,352.09 L306.74,349.51 L306.97,346.81 L307.20,344.00 L307.44,341.11 L307.67,338.16 L307.90,335.17 L308.13,332.16 L308.36,329.17 L308.59,326.20 L308.82,323.23 L309.05,320.23 L309.28,317.15 L309.51,313.97 L309.74,310.64 L309.97,307.13 L310.20,303.39 L310.43,299.40 L310.66,295.10 L310.89,290.49 L311.12,285.65 L311.35,280.72 L311.58,275.82 L311.81,271.11 L312.04,266.72 L312.27,262.77 L312.50,259.42 L312.73,256.79 L312.96,254.95 L313.19,253.77 L313.42,253.08 L313.65,252.71 L313.88,252.51 L314.11,252.29 L314.34,251.91 L314.57,251.26 L314.80,250.42 L315.03,249.50 L315.26,248.59 L315.49,247.80 L315.72,247.23 L315.95,246.96 L316.18,247.04 L316.42,247.45 L316.65,248.19 L316.88,249.25 L317.11,250.61 L317.34,252.28 L317.57,254.24 L317.80,256.46 L318.03,258.91 L318.26,261.56 L318.49,264.39 L318.72,267.37 L318.95,270.47 L319.18,273.66 L319.41,276.91 L319.64,280.20 L319.87,283.49 L320.10,286.76 L320.33,289.98 L320.56,293.11 L320.79,296.14 L321.02,299.03 L321.25,301.76 L321.48,304.29 L321.71,306.60 L321.94,308.68 L322.17,310.55 L322.40,312.25 L322.63,313.83 L322.86,315.33 L323.09,316.79 L323.32,318.25 L323.55,319.75 L323.78,321.32 L324.01,322.93 L324.24,324.56 L324.47,326.20 L324.70,327.81 L324.93,329.37 L325.16,330.87 L325.40,332.27 L325.63,333.56 L325.86,334.75 L326.09,335.83 L326.32,336.81 L326.55,337.71 L326.78,338.52 L327.01,339.26 L327.24,339.92 L327.47,340.53 L327.70,341.07 L327.93,341.57 L328.16,342.02 L328.39,342.44 L328.62,342.83 L328.85,343.19 L329.08,343.54 L329.31,343.88 L329.54,344.21 L329.77,344.55 L330.00,344.89 L330.23,345.23 L330.46,345.56 L330.69,345.90 L330.92,346.22 L331.15,346.54 L331.38,346.84 L331.61,347.13 L331.84,347.40 L332.07,347.64 L332.30,347.87 L332.53,348.07 L332.76,348.24 L332.99,348.38 L333.22,348.49 L333.45,348.57 L333.68,348.60 L333.91,348.59 L334.14,348.55 L334.38,348.46 L334.61,348.34 L334.84,348.18 L335.07,347.99 L335.30,347.76 L335.53,347.51 L335.76,347.22 L335.99,346.91 L336.22,346.57 L336.45,346.20 L336.68,345.81 L336.91,345.40 L337.14,344.97 L337.37,344.51 L337.60,344.04 L337.83,343.55 L338.06,343.05 L338.29,342.53 L338.52,341.99 L338.75,341.43 L338.98,340.84 L339.21,340.22 L339.44,339.57 L339.67,338.89 L339.90,338.16 L340.13,337.40 L340.36,336.60 L340.59,335.75 L340.82,334.85 L341.05,333.89 L341.28,332.88 L341.51,331.82 L341.74,330.69 L341.97,329.49 L342.20,328.20 L342.43,326.80 L342.66,325.28 L342.89,323.62 L343.12,321.80 L343.36,319.81 L343.59,317.64 L343.82,315.34 L344.05,313.03 L344.28,310.80 L344.51,308.73 L344.74,306.93 L344.97,305.49 L345.20,304.36 L345.43,303.45 L345.66,302.65 L345.89,301.86 L346.12,300.97 L346.35,299.88 L346.58,298.49 L346.81,296.76 L347.04,294.76 L347.27,292.55 L347.50,290.21 L347.73,287.81 L347.96,285.42 L348.19,283.11 L348.42,280.89 L348.65,278.73 L348.88,276.56 L349.11,274.33 L349.34,271.99 L349.57,269.48 L349.80,266.76 L350.03,263.85 L350.26,260.85 L350.49,257.87 L350.72,255.02 L350.95,252.42 L351.18,250.13 L351.41,248.07 L351.64,246.19 L351.87,244.40 L352.10,242.64 L352.33,240.83 L352.57,238.97 L352.80,237.09 L353.03,235.23 L353.26,233.42 L353.49,231.70 L353.72,230.11 L353.95,228.66 L354.18,227.33 L354.41,226.12 L354.64,225.01 L354.87,224.00 L355.10,223.06 L355.33,222.20 L355.56,221.40 L355.79,220.65 L356.02,219.96 L356.25,219.33 L356.48,218.76 L356.71,218.26 L356.94,217.84 L357.17,217.50 L357.40,217.24 L357.63,217.07 L357.86,216.99 L358.09,217.01 L358.32,217.11 L358.55,217.31 L358.78,217.60 L359.01,217.96 L359.24,218.41 L359.47,218.93 L359.70,219.53 L359.93,220.20 L360.16,220.93 L360.39,221.73 L360.62,222.59 L360.85,223.51 L361.08,224.47 L361.31,225.48 L361.55,226.51 L361.78,227.57 L362.01,228.63 L362.24,229.70 L362.47,230.76 L362.70,231.80 L362.93,232.82 L363.16,233.80 L363.39,234.76 L363.62,235.69 L363.85,236.61 L364.08,237.51 L364.31,238.41 L364.54,239.30 L364.77,240.20 L365.00,241.10 L365.23,242.02 L365.46,242.95 L365.69,243.90 L365.92,244.85 L366.15,245.80 L366.38,246.76 L366.61,247.70 L366.84,248.64 L367.07,249.55 L367.30,250.45 L367.53,251.32 L367.76,252.16 L367.99,252.98 L368.22,253.78 L368.45,254.58 L368.68,255.37 L368.91,256.18 L369.14,257.00 L369.37,257.85 L369.60,258.72 L369.83,259.64 L370.06,260.60 L370.29,261.58 L370.53,262.57 L370.76,263.57 L370.99,264.53 L371.22,265.47 L371.45,266.35 L371.68,267.16 L371.91,267.90 L372.14,268.56 L372.37,269.16 L372.60,269.71 L372.83,270.19 L373.06,270.63 L373.29,271.03 L373.52,271.40 L373.75,271.73 L373.98,272.04 L374.21,272.33 L374.44,272.61 L374.67,272.88 L374.90,273.15 L375.13,273.42 L375.36,273.69 L375.59,273.95 L375.82,274.21 L376.05,274.46 L376.28,274.71 L376.51,274.95 L376.74,275.19 L376.97,275.42 L377.20,275.64 L377.43,275.86 L377.66,276.07 L377.89,276.27 L378.12,276.46 L378.35,276.64 L378.58,276.82 L378.81,276.98 L379.04,277.13 L379.27,277.28 L379.51,277.42 L379.74,277.55 L379.97,277.67 L380.20,277.79 L380.43,277.90 L380.66,278.00 L380.89,278.10 L381.12,278.19 L381.35,278.28 L381.58,278.36 L381.81,278.43 L382.04,278.50 L382.27,278.57 L382.50,278.63 L382.73,278.69 L382.96,278.75 L383.19,278.80 L383.42,278.85 L383.65,278.90 L383.88,278.94 L384.11,278.99 L384.34,279.03 L384.57,279.08 L384.80,279.12 L385.03,279.16 L385.26,279.20 L385.49,279.24 L385.72,279.29 L385.95,279.33 L386.18,279.37 L386.41,279.41 L386.64,279.45 L386.87,279.50 L387.10,279.54 L387.33,279.58 L387.56,279.63 L387.79,279.67 L388.02,279.72 L388.25,279.77 L388.49,279.81 L388.72,279.86 L388.95,279.91 L389.18,279.97 L389.41,280.02 L389.64,280.08 L389.87,280.13 L390.10,280.19 L390.33,280.25 L390.56,280.32 L390.79,280.38 L391.02,280.45 L391.25,280.51 L391.48,280.58 L391.71,280.65 L391.94,280.72 L392.17,280.80 L392.40,280.87 L392.63,280.94 L392.86,281.01 L393.09,281.08 L393.32,281.15 L393.55,281.22 L393.78,281.28 L394.01,281.35 L394.24,281.41 L394.47,281.47 L394.70,281.53 L394.93,281.59 L395.16,281.64 L395.39,281.69 L395.62,281.74 L395.85,281.78 L396.08,281.82 L396.31,281.85 L396.54,281.88 L396.77,281.91 L397.00,281.93 L397.23,281.94 L397.47,281.95 L397.70,281.96 L397.93,281.96 L398.16,281.96 L398.39,281.95 L398.62,281.94 L398.85,281.93 L399.08,281.91 L399.31,281.88 L399.54,281.86 L399.77,281.82 L400.00,281.79 L400.23,281.75 L400.46,281.71 L400.69,281.66 L400.92,281.62 L401.15,281.56 L401.38,281.51 L401.61,281.45 L401.84,281.39 L402.07,281.33 L402.30,281.26 L402.53,281.19 L402.76,281.12 L402.99,281.05 L403.22,280.97 L403.45,280.90 L403.68,280.82 L403.91,280.73 L404.14,280.65 L404.37,280.57 L404.60,280.48 L404.83,280.39 L405.06,280.30 L405.29,280.21 L405.52,280.11 L405.75,280.02 L405.98,279.92 L406.21,279.83 L406.45,279.73 L406.68,279.63 L406.91,279.53 L407.14,279.43 L407.37,279.33 L407.60,279.23 L407.83,279.13 L408.06,279.02 L408.29,278.92 L408.52,278.82 L408.75,278.72 L408.98,278.62 L409.21,278.52 L409.44,278.41 L409.67,278.31 L409.90,278.21 L410.13,278.11 L410.36,278.01 L410.59,277.91 L410.82,277.82 L411.05,277.72 L411.28,277.63 L411.51,277.53 L411.74,277.44 L411.97,277.35 L412.20,277.25 L412.43,277.16 L412.66,277.08 L412.89,276.99 L413.12,276.90 L413.35,276.82 L413.58,276.73 L413.81,276.65 L414.04,276.57 L414.27,276.49 L414.50,276.41 L414.73,276.33 L414.96,276.25 L415.19,276.18 L415.43,276.10 L415.66,276.03 L415.89,275.96 L416.12,275.89 L416.35,275.82 L416.58,275.75 L416.81,275.68 L417.04,275.62 L417.27,275.55 L417.50,275.49 L417.73,275.43 L417.96,275.37 L418.19,275.31 L418.42,275.26 L418.65,275.20 L418.88,275.15 L419.11,275.09 L419.34,275.04 L419.57,274.99 L419.80,274.94 L420.03,274.89 L420.26,274.85 L420.49,274.80 L420.72,274.76 L420.95,274.72 L421.18,274.68 L421.41,274.64 L421.64,274.61 L421.87,274.57 L422.10,274.54 L422.33,274.50 L422.56,274.47 L422.79,274.44 L423.02,274.42 L423.25,274.39 L423.48,274.37 L423.71,274.34 L423.94,274.32 L424.17,274.30 L424.41,274.28 L424.64,274.27 L424.87,274.25 L425.10,274.24 L425.33,274.23 L425.56,274.22 L425.79,274.21 L426.02,274.21 L426.25,274.20 L426.48,274.20 L426.71,274.20 L426.94,274.20 L427.17,274.20 L427.40,274.20 L427.63,274.21 L427.86,274.22 L428.09,274.22 L428.32,274.23 L428.55,274.24 L428.78,274.26 L429.01,274.27 L429.24,274.29 L429.47,274.31 L429.70,274.32 L429.93,274.34 L430.16,274.37 L430.39,274.39 L430.62,274.41 L430.85,274.44 L431.08,274.46 L431.31,274.49 L431.54,274.52 L431.77,274.55 L432.00,274.58 L432.23,274.62 L432.46,274.65 L432.69,274.68 L432.92,274.72 L433.15,274.76 L433.39,274.79 L433.62,274.83 L433.85,274.87 L434.08,274.91 L434.31,274.96 L434.54,275.00 L434.77,275.04 L435.00,275.09 L435.23,275.13 L435.46,275.18 L435.69,275.22 L435.92,275.27 L436.15,275.32 L436.38,275.37 L436.61,275.42 L436.84,275.47 L437.07,275.52 L437.30,275.57 L437.53,275.63 L437.76,275.68 L437.99,275.73 L438.22,275.79 L438.45,275.84 L438.68,275.90 L438.91,275.95 L439.14,276.01 L439.37,276.07 L439.60,276.12 L439.83,276.18 L440.06,276.24 L440.29,276.30 L440.52,276.35 L440.75,276.41 L440.98,276.47 L441.21,276.53 L441.44,276.59 L441.67,276.65 L441.90,276.71 L442.13,276.77 L442.37,276.83 L442.60,276.89 L442.83,276.95 L443.06,277.00 L443.29,277.06 L443.52,277.12 L443.75,277.18 L443.98,277.23 L444.21,277.29 L444.44,277.34 L444.67,277.40 L444.90,277.45 L445.13,277.50 L445.36,277.56 L445.59,277.61 L445.82,277.65 L446.05,277.70 L446.28,277.75 L446.51,277.79 L446.74,277.84 L446.97,277.88 L447.20,277.92 L447.43,277.96 L447.66,278.00 L447.89,278.03 L448.12,278.07 L448.35,278.10 L448.58,278.13 L448.81,278.16 L449.04,278.18 L449.27,278.21 L449.50,278.23 L449.73,278.25 L449.96,278.27 L450.19,278.28 L450.42,278.29 L450.65,278.31 L450.88,278.31 L451.11,278.32 L451.34,278.33 L451.58,278.33 L451.81,278.33 L452.04,278.33 L452.27,278.33 L452.50,278.32 L452.73,278.32 L452.96,278.31 L453.19,278.30 L453.42,278.29 L453.65,278.28 L453.88,278.26 L454.11,278.25 L454.34,278.23 L454.57,278.21 L454.80,278.19 L455.03,278.17 L455.26,278.14 L455.49,278.12 L455.72,278.09 L455.95,278.07 L456.18,278.04 L456.41,278.01 L456.64,277.98 L456.87,277.94 L457.10,277.91 L457.33,277.87 L457.56,277.84 L457.79,277.80 L458.02,277.76 L458.25,277.72 L458.48,277.68 L458.71,277.64 L458.94,277.60 L459.17,277.56 L459.40,277.51 L459.63,277.47 L459.86,277.42 L460.09,277.37 L460.32,277.33 L460.56,277.28 L460.79,277.23 L461.02,277.18 L461.25,277.13 L461.48,277.08 L461.71,277.03 L461.94,276.98 L462.17,276.92 L462.40,276.87 L462.63,276.82 L462.86,276.76 L463.09,276.71 L463.32,276.65 L463.55,276.60 L463.78,276.54 L464.01,276.49 L464.24,276.43 L464.47,276.37 L464.70,276.32 L464.93,276.26 L465.16,276.20 L465.39,276.15 L465.62,276.09 L465.85,276.03 L466.08,275.98 L466.31,275.92 L466.54,275.86 L466.77,275.80 L467.00,275.75 L467.23,275.69 L467.46,275.63 L467.69,275.58 L467.92,275.52 L468.15,275.46 L468.38,275.41 L468.61,275.35 L468.84,275.30 L469.07,275.24 L469.30,275.19 L469.54,275.14 L469.77,275.08 L470.00,275.03 L470.23,274.98 L470.46,274.92 L470.69,274.87 L470.92,274.82 L471.15,274.77 L471.38,274.72 L471.61,274.67 L471.84,274.62 L472.07,274.58 L472.30,274.53 L472.53,274.48 L472.76,274.44 L472.99,274.39 L473.22,274.35 L473.45,274.31 L473.68,274.27 L473.91,274.23 L474.14,274.19 L474.37,274.15 L474.60,274.11 L474.83,274.07 L475.06,274.04 L475.29,274.00 L475.52,273.97 L475.75,273.94 L475.98,273.91 L476.21,273.88 L476.44,273.85 L476.67,273.82 L476.90,273.79 L477.13,273.77 L477.36,273.75 L477.59,273.72 L477.82,273.70 L478.05,273.68 L478.28,273.67 L478.52,273.65 L478.75,273.64 L478.98,273.62 L479.21,273.61 L479.44,273.60 L479.67,273.59 L479.90,273.59 L480.13,273.58 L480.36,273.58 L480.59,273.58 L480.82,273.58 L481.05,273.58 L481.28,273.59 L481.51,273.59 L481.74,273.60 L481.97,273.61 L482.20,273.62 L482.43,273.64 L482.66,273.65 L482.89,273.67 L483.12,273.69 L483.35,273.71 L483.58,273.73 L483.81,273.75 L484.04,273.78 L484.27,273.81 L484.50,273.83 L484.73,273.86 L484.96,273.89 L485.19,273.93 L485.42,273.96 L485.65,273.99 L485.88,274.03 L486.11,274.06 L486.34,274.10 L486.57,274.14 L486.80,274.18 L487.03,274.22 L487.26,274.26 L487.50,274.30 L487.73,274.34 L487.96,274.39 L488.19,274.43 L488.42,274.47 L488.65,274.52 L488.88,274.56 L489.11,274.61 L489.34,274.65 L489.57,274.70 L489.80,274.74 L490.03,274.79 L490.26,274.84 L490.49,274.88 L490.72,274.93 L490.95,274.98 L491.18,275.02 L491.41,275.07 L491.64,275.12 L491.87,275.16 L492.10,275.21 L492.33,275.25 L492.56,275.30 L492.79,275.35 L493.02,275.39 L493.25,275.43 L493.48,275.48 L493.71,275.52 L493.94,275.56 L494.17,275.60 L494.40,275.65 L494.63,275.69 L494.86,275.73 L495.09,275.76 L495.32,275.80 L495.55,275.84 L495.78,275.87 L496.01,275.91 L496.24,275.94 L496.48,275.97 L496.71,276.00 L496.94,276.03 L497.17,276.06 L497.40,276.09 L497.63,276.12 L497.86,276.14 L498.09,276.16 L498.32,276.18 L498.55,276.20 L498.78,276.22 L499.01,276.24 L499.24,276.25 L499.47,276.27 L499.70,276.28 L499.93,276.29 L500.16,276.29 L500.39,276.30 L500.62,276.30 L500.85,276.30" fill="none" stroke="#c81e24" stroke-width="2.6" stroke-dasharray="10.6,4.4" stroke-linejoin="round"/>
<path d="M293.85,364.60 L294.08,364.60 L294.31,364.60 L294.54,364.60 L294.77,364.60 L295.00,364.60 L295.23,364.60 L295.46,364.60 L295.69,364.60 L295.92,364.60 L296.15,364.60 L296.38,364.60 L296.61,364.60 L296.84,364.60 L297.07,364.60 L297.30,364.60 L297.53,364.60 L297.76,364.60 L297.99,364.60 L298.22,364.60 L298.46,364.60 L298.69,364.60 L298.92,364.60 L299.15,364.60 L299.38,364.60 L299.61,364.60 L299.84,364.60 L300.07,364.60 L300.30,364.60 L300.53,364.60 L300.76,364.60 L300.99,364.60 L301.22,364.60 L301.45,364.60 L301.68,364.60 L301.91,364.60 L302.14,364.60 L302.37,364.60 L302.60,364.60 L302.83,364.60 L303.06,364.60 L303.29,364.60 L303.52,364.60 L303.75,364.60 L303.98,364.60 L304.21,364.60 L304.44,363.71 L304.67,362.51 L304.90,361.02 L305.13,359.26 L305.36,357.26 L305.59,355.04 L305.82,352.63 L306.05,350.04 L306.28,347.31 L306.51,344.45 L306.74,341.48 L306.97,338.44 L307.20,335.34 L307.44,332.21 L307.67,329.07 L307.90,325.94 L308.13,322.81 L308.36,319.65 L308.59,316.44 L308.82,313.16 L309.05,309.79 L309.28,306.30 L309.51,302.66 L309.74,298.86 L309.97,294.87 L310.20,290.68 L310.43,286.33 L310.66,281.88 L310.89,277.38 L311.12,272.91 L311.35,268.52 L311.58,264.28 L311.81,260.24 L312.04,256.46 L312.27,253.00 L312.50,249.84 L312.73,246.97 L312.96,244.39 L313.19,242.08 L313.42,240.04 L313.65,238.33 L313.88,236.99 L314.11,236.08 L314.34,235.66 L314.57,235.77 L314.80,236.38 L315.03,237.47 L315.26,239.01 L315.49,240.97 L315.72,243.31 L315.95,246.01 L316.18,248.99 L316.42,252.20 L316.65,255.57 L316.88,259.05 L317.11,262.57 L317.34,266.08 L317.57,269.51 L317.80,272.81 L318.03,275.97 L318.26,278.99 L318.49,281.89 L318.72,284.66 L318.95,287.30 L319.18,289.84 L319.41,292.27 L319.64,294.59 L319.87,296.81 L320.10,298.95 L320.33,300.99 L320.56,302.95 L320.79,304.84 L321.02,306.66 L321.25,308.41 L321.48,310.10 L321.71,311.76 L321.94,313.39 L322.17,315.00 L322.40,316.60 L322.63,318.21 L322.86,319.84 L323.09,321.49 L323.32,323.15 L323.55,324.80 L323.78,326.42 L324.01,328.00 L324.24,329.52 L324.47,330.97 L324.70,332.32 L324.93,333.57 L325.16,334.72 L325.40,335.78 L325.63,336.74 L325.86,337.62 L326.09,338.42 L326.32,339.15 L326.55,339.82 L326.78,340.43 L327.01,340.98 L327.24,341.49 L327.47,341.95 L327.70,342.38 L327.93,342.78 L328.16,343.16 L328.39,343.53 L328.62,343.88 L328.85,344.22 L329.08,344.57 L329.31,344.92 L329.54,345.26 L329.77,345.61 L330.00,345.94 L330.23,346.27 L330.46,346.58 L330.69,346.88 L330.92,347.17 L331.15,347.44 L331.38,347.68 L331.61,347.90 L331.84,348.10 L332.07,348.26 L332.30,348.40 L332.53,348.50 L332.76,348.57 L332.99,348.60 L333.22,348.59 L333.45,348.54 L333.68,348.45 L333.91,348.33 L334.14,348.17 L334.38,347.97 L334.61,347.75 L334.84,347.49 L335.07,347.20 L335.30,346.89 L335.53,346.55 L335.76,346.18 L335.99,345.79 L336.22,345.38 L336.45,344.95 L336.68,344.49 L336.91,344.02 L337.14,343.53 L337.37,343.03 L337.60,342.51 L337.83,341.97 L338.06,341.40 L338.29,340.81 L338.52,340.20 L338.75,339.54 L338.98,338.86 L339.21,338.14 L339.44,337.37 L339.67,336.57 L339.90,335.71 L340.13,334.81 L340.36,333.85 L340.59,332.84 L340.82,331.77 L341.05,330.64 L341.28,329.44 L341.51,328.15 L341.74,326.75 L341.97,325.22 L342.20,323.55 L342.43,321.73 L342.66,319.73 L342.89,317.55 L343.12,315.25 L343.36,312.94 L343.59,310.71 L343.82,308.65 L344.05,306.87 L344.28,305.44 L344.51,304.32 L344.74,303.42 L344.97,302.62 L345.20,301.82 L345.43,300.93 L345.66,299.83 L345.89,298.42 L346.12,296.68 L346.35,294.67 L346.58,292.46 L346.81,290.11 L347.04,287.71 L347.27,285.32 L347.50,283.02 L347.73,280.80 L347.96,278.64 L348.19,276.47 L348.42,274.24 L348.65,271.89 L348.88,269.38 L349.11,266.65 L349.34,263.73 L349.57,260.73 L349.80,257.75 L350.03,254.91 L350.26,252.33 L350.49,250.04 L350.72,247.99 L350.95,246.11 L351.18,244.33 L351.41,242.57 L351.64,240.76 L351.87,238.90 L352.10,237.02 L352.33,235.16 L352.57,233.35 L352.80,231.64 L353.03,230.05 L353.26,228.60 L353.49,227.28 L353.72,226.07 L353.95,224.97 L354.18,223.96 L354.41,223.03 L354.64,222.17 L354.87,221.37 L355.10,220.62 L355.33,219.93 L355.56,219.30 L355.79,218.74 L356.02,218.24 L356.25,217.82 L356.48,217.49 L356.71,217.23 L356.94,217.06 L357.17,216.99 L357.40,217.01 L357.63,217.12 L357.86,217.32 L358.09,217.61 L358.32,217.98 L358.55,218.43 L358.78,218.96 L359.01,219.56 L359.24,220.23 L359.47,220.96 L359.70,221.77 L359.93,222.63 L360.16,223.55 L360.39,224.51 L360.62,225.52 L360.85,226.55 L361.08,227.61 L361.31,228.67 L361.55,229.74 L361.78,230.80 L362.01,231.84 L362.24,232.86 L362.47,233.84 L362.70,234.80 L362.93,235.73 L363.16,236.64 L363.39,237.55 L363.62,238.44 L363.85,239.34 L364.08,240.23 L364.31,241.14 L364.54,242.05 L364.77,242.99 L365.00,243.93 L365.23,244.89 L365.46,245.84 L365.69,246.80 L365.92,247.74 L366.15,248.67 L366.38,249.59 L366.61,250.49 L366.84,251.35 L367.07,252.19 L367.30,253.01 L367.53,253.81 L367.76,254.61 L367.99,255.41 L368.22,256.21 L368.45,257.03 L368.68,257.88 L368.91,258.76 L369.14,259.68 L369.37,260.64 L369.60,261.62 L369.83,262.61 L370.06,263.60 L370.29,264.57 L370.53,265.50 L370.76,266.38 L370.99,267.19 L371.22,267.93 L371.45,268.59 L371.68,269.19 L371.91,269.73 L372.14,270.21 L372.37,270.65 L372.60,271.05 L372.83,271.41 L373.06,271.74 L373.29,272.05 L373.52,272.34 L373.75,272.62 L373.98,272.89 L374.21,273.16 L374.44,273.43 L374.67,273.70 L374.90,273.96 L375.13,274.22 L375.36,274.47 L375.59,274.72 L375.82,274.96 L376.05,275.20 L376.28,275.43 L376.51,275.65 L376.74,275.87 L376.97,276.08 L377.20,276.28 L377.43,276.47 L377.66,276.65 L377.89,276.82 L378.12,276.99 L378.35,277.14 L378.58,277.29 L378.81,277.43 L379.04,277.56 L379.27,277.68 L379.51,277.79 L379.74,277.90 L379.97,278.01 L380.20,278.10 L380.43,278.19 L380.66,278.28 L380.89,278.36 L381.12,278.43 L381.35,278.50 L381.58,278.57 L381.81,278.63 L382.04,278.69 L382.27,278.75 L382.50,278.80 L382.73,278.85 L382.96,278.90 L383.19,278.95 L383.42,278.99 L383.65,279.04 L383.88,279.08 L384.11,279.12 L384.34,279.16 L384.57,279.20 L384.80,279.25 L385.03,279.29 L385.26,279.33 L385.49,279.37 L385.72,279.41 L385.95,279.45 L386.18,279.50 L386.41,279.54 L386.64,279.58 L386.87,279.63 L387.10,279.67 L387.33,279.72 L387.56,279.77 L387.79,279.82 L388.02,279.87 L388.25,279.92 L388.49,279.97 L388.72,280.02 L388.95,280.08 L389.18,280.14 L389.41,280.19 L389.64,280.26 L389.87,280.32 L390.10,280.38 L390.33,280.45 L390.56,280.52 L390.79,280.59 L391.02,280.66 L391.25,280.73 L391.48,280.80 L391.71,280.87 L391.94,280.94 L392.17,281.01 L392.40,281.08 L392.63,281.15 L392.86,281.22 L393.09,281.29 L393.32,281.35 L393.55,281.41 L393.78,281.48 L394.01,281.53 L394.24,281.59 L394.47,281.64 L394.70,281.69 L394.93,281.74 L395.16,281.78 L395.39,281.82 L395.62,281.85 L395.85,281.88 L396.08,281.91 L396.31,281.93 L396.54,281.94 L396.77,281.95 L397.00,281.96 L397.23,281.96 L397.47,281.96 L397.70,281.95 L397.93,281.94 L398.16,281.92 L398.39,281.90 L398.62,281.88 L398.85,281.85 L399.08,281.82 L399.31,281.79 L399.54,281.75 L399.77,281.71 L400.00,281.66 L400.23,281.61 L400.46,281.56 L400.69,281.51 L400.92,281.45 L401.15,281.39 L401.38,281.33 L401.61,281.26 L401.84,281.19 L402.07,281.12 L402.30,281.05 L402.53,280.97 L402.76,280.89 L402.99,280.81 L403.22,280.73 L403.45,280.65 L403.68,280.56 L403.91,280.47 L404.14,280.39 L404.37,280.29 L404.60,280.20 L404.83,280.11 L405.06,280.01 L405.29,279.92 L405.52,279.82 L405.75,279.72 L405.98,279.63 L406.21,279.53 L406.45,279.43 L406.68,279.33 L406.91,279.22 L407.14,279.12 L407.37,279.02 L407.60,278.92 L407.83,278.82 L408.06,278.71 L408.29,278.61 L408.52,278.51 L408.75,278.41 L408.98,278.31 L409.21,278.21 L409.44,278.11 L409.67,278.01 L409.90,277.91 L410.13,277.81 L410.36,277.72 L410.59,277.62 L410.82,277.53 L411.05,277.43 L411.28,277.34 L411.51,277.25 L411.74,277.16 L411.97,277.07 L412.20,276.98 L412.43,276.90 L412.66,276.81 L412.89,276.73 L413.12,276.65 L413.35,276.56 L413.58,276.48 L413.81,276.40 L414.04,276.33 L414.27,276.25 L414.50,276.17 L414.73,276.10 L414.96,276.03 L415.19,275.95 L415.43,275.88 L415.66,275.82 L415.89,275.75 L416.12,275.68 L416.35,275.62 L416.58,275.55 L416.81,275.49 L417.04,275.43 L417.27,275.37 L417.50,275.31 L417.73,275.25 L417.96,275.20 L418.19,275.14 L418.42,275.09 L418.65,275.04 L418.88,274.99 L419.11,274.94 L419.34,274.89 L419.57,274.85 L419.80,274.80 L420.03,274.76 L420.26,274.72 L420.49,274.68 L420.72,274.64 L420.95,274.60 L421.18,274.57 L421.41,274.54 L421.64,274.50 L421.87,274.47 L422.10,274.44 L422.33,274.42 L422.56,274.39 L422.79,274.37 L423.02,274.34 L423.25,274.32 L423.48,274.30 L423.71,274.28 L423.94,274.27 L424.17,274.25 L424.41,274.24 L424.64,274.23 L424.87,274.22 L425.10,274.21 L425.33,274.21 L425.56,274.20 L425.79,274.20 L426.02,274.20 L426.25,274.20 L426.48,274.20 L426.71,274.20 L426.94,274.21 L427.17,274.22 L427.40,274.22 L427.63,274.23 L427.86,274.25 L428.09,274.26 L428.32,274.27 L428.55,274.29 L428.78,274.31 L429.01,274.32 L429.24,274.34 L429.47,274.37 L429.70,274.39 L429.93,274.41 L430.16,274.44 L430.39,274.47 L430.62,274.49 L430.85,274.52 L431.08,274.55 L431.31,274.58 L431.54,274.62 L431.77,274.65 L432.00,274.68 L432.23,274.72 L432.46,274.76 L432.69,274.80 L432.92,274.83 L433.15,274.87 L433.39,274.92 L433.62,274.96 L433.85,275.00 L434.08,275.04 L434.31,275.09 L434.54,275.13 L434.77,275.18 L435.00,275.23 L435.23,275.27 L435.46,275.32 L435.69,275.37 L435.92,275.42 L436.15,275.47 L436.38,275.52 L436.61,275.58 L436.84,275.63 L437.07,275.68 L437.30,275.74 L437.53,275.79 L437.76,275.84 L437.99,275.90 L438.22,275.96 L438.45,276.01 L438.68,276.07 L438.91,276.13 L439.14,276.18 L439.37,276.24 L439.60,276.30 L439.83,276.36 L440.06,276.42 L440.29,276.48 L440.52,276.53 L440.75,276.59 L440.98,276.65 L441.21,276.71 L441.44,276.77 L441.67,276.83 L441.90,276.89 L442.13,276.95 L442.37,277.01 L442.60,277.07 L442.83,277.12 L443.06,277.18 L443.29,277.24 L443.52,277.29 L443.75,277.35 L443.98,277.40 L444.21,277.45 L444.44,277.51 L444.67,277.56 L444.90,277.61 L445.13,277.66 L445.36,277.70 L445.59,277.75 L445.82,277.80 L446.05,277.84 L446.28,277.88 L446.51,277.92 L446.74,277.96 L446.97,278.00 L447.20,278.04 L447.43,278.07 L447.66,278.10 L447.89,278.13 L448.12,278.16 L448.35,278.18 L448.58,278.21 L448.81,278.23 L449.04,278.25 L449.27,278.27 L449.50,278.28 L449.73,278.29 L449.96,278.30 L450.19,278.31 L450.42,278.32 L450.65,278.33 L450.88,278.33 L451.11,278.33 L451.34,278.33 L451.58,278.33 L451.81,278.32 L452.04,278.32 L452.27,278.31 L452.50,278.30 L452.73,278.29 L452.96,278.27 L453.19,278.26 L453.42,278.24 L453.65,278.23 L453.88,278.21 L454.11,278.19 L454.34,278.16 L454.57,278.14 L454.80,278.12 L455.03,278.09 L455.26,278.06 L455.49,278.03 L455.72,278.00 L455.95,277.97 L456.18,277.94 L456.41,277.90 L456.64,277.87 L456.87,277.83 L457.10,277.79 L457.33,277.76 L457.56,277.72 L457.79,277.68 L458.02,277.63 L458.25,277.59 L458.48,277.55 L458.71,277.50 L458.94,277.46 L459.17,277.41 L459.40,277.37 L459.63,277.32 L459.86,277.27 L460.09,277.22 L460.32,277.17 L460.56,277.12 L460.79,277.07 L461.02,277.02 L461.25,276.97 L461.48,276.92 L461.71,276.86 L461.94,276.81 L462.17,276.75 L462.40,276.70 L462.63,276.65 L462.86,276.59 L463.09,276.54 L463.32,276.48 L463.55,276.42 L463.78,276.37 L464.01,276.31 L464.24,276.25 L464.47,276.20 L464.70,276.14 L464.93,276.08 L465.16,276.03 L465.39,275.97 L465.62,275.91 L465.85,275.86 L466.08,275.80 L466.31,275.74 L466.54,275.69 L466.77,275.63 L467.00,275.58 L467.23,275.52 L467.46,275.46 L467.69,275.41 L467.92,275.35 L468.15,275.30 L468.38,275.24 L468.61,275.19 L468.84,275.14 L469.07,275.08 L469.30,275.03 L469.54,274.98 L469.77,274.93 L470.00,274.88 L470.23,274.83 L470.46,274.78 L470.69,274.73 L470.92,274.68 L471.15,274.63 L471.38,274.58 L471.61,274.54 L471.84,274.49 L472.07,274.45 L472.30,274.40 L472.53,274.36 L472.76,274.32 L472.99,274.28 L473.22,274.24 L473.45,274.20 L473.68,274.16 L473.91,274.12 L474.14,274.09 L474.37,274.05 L474.60,274.02 L474.83,273.98 L475.06,273.95 L475.29,273.92 L475.52,273.89 L475.75,273.86 L475.98,273.83 L476.21,273.81 L476.44,273.78 L476.67,273.76 L476.90,273.74 L477.13,273.72 L477.36,273.70 L477.59,273.68 L477.82,273.66 L478.05,273.65 L478.28,273.64 L478.52,273.62 L478.75,273.61 L478.98,273.60 L479.21,273.60 L479.44,273.59 L479.67,273.59 L479.90,273.59 L480.13,273.59 L480.36,273.59 L480.59,273.59 L480.82,273.59 L481.05,273.60 L481.28,273.61 L481.51,273.62 L481.74,273.63 L481.97,273.65 L482.20,273.66 L482.43,273.68 L482.66,273.70 L482.89,273.72 L483.12,273.74 L483.35,273.76 L483.58,273.79 L483.81,273.81 L484.04,273.84 L484.27,273.87 L484.50,273.90 L484.73,273.93 L484.96,273.96 L485.19,273.99 L485.42,274.03 L485.65,274.06 L485.88,274.10 L486.11,274.14 L486.34,274.17 L486.57,274.21 L486.80,274.25 L487.03,274.29 L487.26,274.33 L487.50,274.37 L487.73,274.41 L487.96,274.46 L488.19,274.50 L488.42,274.54 L488.65,274.59 L488.88,274.63 L489.11,274.67 L489.34,274.72 L489.57,274.76 L489.80,274.81 L490.03,274.85 L490.26,274.90 L490.49,274.95 L490.72,274.99 L490.95,275.04 L491.18,275.08 L491.41,275.13 L491.64,275.17 L491.87,275.22 L492.10,275.26 L492.33,275.30 L492.56,275.35 L492.79,275.39 L493.02,275.43 L493.25,275.48 L493.48,275.52 L493.71,275.56 L493.94,275.60 L494.17,275.64 L494.40,275.68 L494.63,275.72 L494.86,275.75 L495.09,275.79 L495.32,275.83 L495.55,275.86 L495.78,275.90 L496.01,275.93 L496.24,275.96 L496.48,275.99 L496.71,276.02 L496.94,276.05 L497.17,276.08 L497.40,276.10 L497.63,276.13 L497.86,276.15 L498.09,276.17 L498.32,276.19 L498.55,276.21 L498.78,276.23 L499.01,276.24 L499.24,276.26 L499.47,276.27 L499.70,276.28 L499.93,276.29 L500.16,276.29 L500.39,276.30 L500.62,276.30 L500.85,276.30" fill="none" stroke="#000" stroke-width="2.6" stroke-dasharray="2.6,3.85" stroke-linejoin="round"/>
</g>
<path d="M293.85,205.8 L293.85,364.55 L500.85,364.55" fill="none" stroke="#000" stroke-width="0.95" stroke-linecap="square"/>
<line x1="289.85" y1="364.55" x2="293.85" y2="364.55" stroke="#000" stroke-width="0.95"/>
<text x="285.25" y="369.70" font-size="12.0" text-anchor="end">0.0</text>
<line x1="289.85" y1="329.27" x2="293.85" y2="329.27" stroke="#000" stroke-width="0.95"/>
<text x="285.25" y="334.42" font-size="12.0" text-anchor="end">0.4</text>
<line x1="289.85" y1="293.99" x2="293.85" y2="293.99" stroke="#000" stroke-width="0.95"/>
<text x="285.25" y="299.14" font-size="12.0" text-anchor="end">0.8</text>
<line x1="289.85" y1="258.72" x2="293.85" y2="258.72" stroke="#000" stroke-width="0.95"/>
<text x="285.25" y="263.87" font-size="12.0" text-anchor="end">1.2</text>
<line x1="289.85" y1="223.44" x2="293.85" y2="223.44" stroke="#000" stroke-width="0.95"/>
<text x="285.25" y="228.59" font-size="12.0" text-anchor="end">1.6</text>
<line x1="318.20" y1="364.55" x2="318.20" y2="368.55" stroke="#000" stroke-width="0.95"/>
<text x="318.20" y="382.45" font-size="12.0" text-anchor="middle">2</text>
<line x1="348.64" y1="364.55" x2="348.64" y2="368.55" stroke="#000" stroke-width="0.95"/>
<text x="348.64" y="382.45" font-size="12.0" text-anchor="middle">3</text>
<line x1="379.09" y1="364.55" x2="379.09" y2="368.55" stroke="#000" stroke-width="0.95"/>
<text x="379.09" y="382.45" font-size="12.0" text-anchor="middle">4</text>
<line x1="409.53" y1="364.55" x2="409.53" y2="368.55" stroke="#000" stroke-width="0.95"/>
<text x="409.53" y="382.45" font-size="12.0" text-anchor="middle">5</text>
<line x1="439.97" y1="364.55" x2="439.97" y2="368.55" stroke="#000" stroke-width="0.95"/>
<text x="439.97" y="382.45" font-size="12.0" text-anchor="middle">6</text>
<line x1="470.41" y1="364.55" x2="470.41" y2="368.55" stroke="#000" stroke-width="0.95"/>
<text x="470.41" y="382.45" font-size="12.0" text-anchor="middle">7</text>
<line x1="500.85" y1="364.55" x2="500.85" y2="368.55" stroke="#000" stroke-width="0.95"/>
<text x="500.85" y="382.45" font-size="12.0" text-anchor="middle">8</text>
<clipPath id="c20"><rect x="45.25" y="396.75" width="207.05" height="158.80"/></clipPath>
<g clip-path="url(#c20)">
<path d="M45.25,555.50 L45.48,555.50 L45.71,555.50 L45.94,555.50 L46.17,555.50 L46.40,555.50 L46.63,555.50 L46.86,555.50 L47.09,555.50 L47.32,555.50 L47.55,555.50 L47.78,555.50 L48.01,555.50 L48.24,555.50 L48.47,555.50 L48.70,555.50 L48.93,555.50 L49.17,555.50 L49.40,555.50 L49.63,555.50 L49.86,555.50 L50.09,555.50 L50.32,555.50 L50.55,555.50 L50.78,555.50 L51.01,555.50 L51.24,555.50 L51.47,555.50 L51.70,555.50 L51.93,555.50 L52.16,555.50 L52.39,555.50 L52.62,555.50 L52.85,555.50 L53.08,555.50 L53.31,555.50 L53.54,555.50 L53.77,555.50 L54.00,555.50 L54.23,555.50 L54.46,555.50 L54.69,555.50 L54.92,555.50 L55.15,555.50 L55.38,555.50 L55.61,555.50 L55.84,555.50 L56.07,555.50 L56.30,555.50 L56.54,555.50 L56.77,555.50 L57.00,555.50 L57.23,555.50 L57.46,555.50 L57.69,555.50 L57.92,555.50 L58.15,555.50 L58.38,555.50 L58.61,555.50 L58.84,555.50 L59.07,555.50 L59.30,555.50 L59.53,555.50 L59.76,555.50 L59.99,555.50 L60.22,555.50 L60.45,555.50 L60.68,555.50 L60.91,555.50 L61.14,555.50 L61.37,555.50 L61.60,555.50 L61.83,555.50 L62.06,555.50 L62.29,555.24 L62.52,554.18 L62.75,552.84 L62.98,551.21 L63.21,549.29 L63.44,547.08 L63.67,544.57 L63.91,541.77 L64.14,538.67 L64.37,535.27 L64.60,531.55 L64.83,527.53 L65.06,523.20 L65.29,518.57 L65.52,513.70 L65.75,508.62 L65.98,503.39 L66.21,498.07 L66.44,492.70 L66.67,487.33 L66.90,482.02 L67.13,476.78 L67.36,471.60 L67.59,466.45 L67.82,461.31 L68.05,456.16 L68.28,450.98 L68.51,445.74 L68.74,440.43 L68.97,435.06 L69.20,429.73 L69.43,424.56 L69.66,419.65 L69.89,415.12 L70.12,411.10 L70.35,407.69 L70.58,405.05 L70.81,403.30 L71.04,402.56 L71.28,402.78 L71.51,403.80 L71.74,405.45 L71.97,407.56 L72.20,409.96 L72.43,412.50 L72.66,415.15 L72.89,417.90 L73.12,420.73 L73.35,423.63 L73.58,426.61 L73.81,429.64 L74.04,432.72 L74.27,435.84 L74.50,439.00 L74.73,442.19 L74.96,445.40 L75.19,448.63 L75.42,451.87 L75.65,455.11 L75.88,458.34 L76.11,461.56 L76.34,464.77 L76.57,467.94 L76.80,471.07 L77.03,474.14 L77.26,477.15 L77.49,480.09 L77.72,482.94 L77.95,485.69 L78.18,488.32 L78.41,490.84 L78.65,493.23 L78.88,495.47 L79.11,497.56 L79.34,499.50 L79.57,501.29 L79.80,502.96 L80.03,504.49 L80.26,505.90 L80.49,507.21 L80.72,508.40 L80.95,509.50 L81.18,510.51 L81.41,511.44 L81.64,512.29 L81.87,513.07 L82.10,513.80 L82.33,514.47 L82.56,515.09 L82.79,515.68 L83.02,516.23 L83.25,516.76 L83.48,517.26 L83.71,517.72 L83.94,518.17 L84.17,518.58 L84.40,518.97 L84.63,519.34 L84.86,519.68 L85.09,520.00 L85.32,520.30 L85.55,520.58 L85.78,520.83 L86.02,521.07 L86.25,521.29 L86.48,521.49 L86.71,521.67 L86.94,521.84 L87.17,521.99 L87.40,522.13 L87.63,522.25 L87.86,522.36 L88.09,522.46 L88.32,522.54 L88.55,522.62 L88.78,522.69 L89.01,522.74 L89.24,522.79 L89.47,522.84 L89.70,522.87 L89.93,522.90 L90.16,522.93 L90.39,522.95 L90.62,522.97 L90.85,522.98 L91.08,522.98 L91.31,522.99 L91.54,522.98 L91.77,522.98 L92.00,522.97 L92.23,522.95 L92.46,522.93 L92.69,522.90 L92.92,522.87 L93.15,522.84 L93.39,522.80 L93.62,522.76 L93.85,522.71 L94.08,522.66 L94.31,522.60 L94.54,522.54 L94.77,522.48 L95.00,522.41 L95.23,522.34 L95.46,522.26 L95.69,522.18 L95.92,522.09 L96.15,522.00 L96.38,521.91 L96.61,521.81 L96.84,521.71 L97.07,521.60 L97.30,521.50 L97.53,521.38 L97.76,521.27 L97.99,521.14 L98.22,521.02 L98.45,520.89 L98.68,520.76 L98.91,520.62 L99.14,520.48 L99.37,520.34 L99.60,520.19 L99.83,520.04 L100.06,519.89 L100.29,519.73 L100.52,519.57 L100.76,519.41 L100.99,519.24 L101.22,519.07 L101.45,518.90 L101.68,518.72 L101.91,518.54 L102.14,518.36 L102.37,518.18 L102.60,517.99 L102.83,517.81 L103.06,517.62 L103.29,517.42 L103.52,517.23 L103.75,517.04 L103.98,516.84 L104.21,516.64 L104.44,516.44 L104.67,516.24 L104.90,516.04 L105.13,515.84 L105.36,515.63 L105.59,515.43 L105.82,515.23 L106.05,515.02 L106.28,514.82 L106.51,514.61 L106.74,514.40 L106.97,514.20 L107.20,513.99 L107.43,513.79 L107.66,513.58 L107.89,513.38 L108.13,513.17 L108.36,512.97 L108.59,512.76 L108.82,512.56 L109.05,512.35 L109.28,512.15 L109.51,511.95 L109.74,511.75 L109.97,511.55 L110.20,511.35 L110.43,511.15 L110.66,510.95 L110.89,510.75 L111.12,510.55 L111.35,510.36 L111.58,510.16 L111.81,509.97 L112.04,509.78 L112.27,509.59 L112.50,509.40 L112.73,509.21 L112.96,509.02 L113.19,508.84 L113.42,508.66 L113.65,508.48 L113.88,508.30 L114.11,508.12 L114.34,507.94 L114.57,507.77 L114.80,507.60 L115.03,507.43 L115.26,507.26 L115.49,507.09 L115.73,506.93 L115.96,506.77 L116.19,506.61 L116.42,506.46 L116.65,506.30 L116.88,506.15 L117.11,506.00 L117.34,505.86 L117.57,505.71 L117.80,505.57 L118.03,505.43 L118.26,505.30 L118.49,505.17 L118.72,505.04 L118.95,504.91 L119.18,504.79 L119.41,504.67 L119.64,504.56 L119.87,504.44 L120.10,504.33 L120.33,504.23 L120.56,504.13 L120.79,504.03 L121.02,503.93 L121.25,503.84 L121.48,503.75 L121.71,503.67 L121.94,503.59 L122.17,503.51 L122.40,503.43 L122.63,503.36 L122.86,503.30 L123.10,503.23 L123.33,503.17 L123.56,503.12 L123.79,503.06 L124.02,503.01 L124.25,502.96 L124.48,502.92 L124.71,502.88 L124.94,502.84 L125.17,502.80 L125.40,502.77 L125.63,502.74 L125.86,502.72 L126.09,502.69 L126.32,502.67 L126.55,502.65 L126.78,502.64 L127.01,502.62 L127.24,502.61 L127.47,502.61 L127.70,502.60 L127.93,502.60 L128.16,502.60 L128.39,502.60 L128.62,502.60 L128.85,502.61 L129.08,502.62 L129.31,502.63 L129.54,502.64 L129.77,502.66 L130.00,502.68 L130.23,502.70 L130.47,502.72 L130.70,502.74 L130.93,502.77 L131.16,502.80 L131.39,502.83 L131.62,502.86 L131.85,502.90 L132.08,502.93 L132.31,502.97 L132.54,503.02 L132.77,503.06 L133.00,503.10 L133.23,503.15 L133.46,503.20 L133.69,503.25 L133.92,503.31 L134.15,503.36 L134.38,503.42 L134.61,503.48 L134.84,503.54 L135.07,503.60 L135.30,503.67 L135.53,503.74 L135.76,503.80 L135.99,503.88 L136.22,503.95 L136.45,504.02 L136.68,504.10 L136.91,504.18 L137.14,504.26 L137.37,504.34 L137.60,504.42 L137.84,504.50 L138.07,504.59 L138.30,504.68 L138.53,504.77 L138.76,504.86 L138.99,504.95 L139.22,505.05 L139.45,505.14 L139.68,505.24 L139.91,505.34 L140.14,505.44 L140.37,505.54 L140.60,505.65 L140.83,505.75 L141.06,505.86 L141.29,505.97 L141.52,506.07 L141.75,506.18 L141.98,506.30 L142.21,506.41 L142.44,506.52 L142.67,506.63 L142.90,506.75 L143.13,506.86 L143.36,506.98 L143.59,507.10 L143.82,507.21 L144.05,507.33 L144.28,507.45 L144.51,507.57 L144.74,507.69 L144.97,507.81 L145.21,507.93 L145.44,508.05 L145.67,508.17 L145.90,508.29 L146.13,508.42 L146.36,508.54 L146.59,508.66 L146.82,508.78 L147.05,508.90 L147.28,509.03 L147.51,509.15 L147.74,509.27 L147.97,509.39 L148.20,509.51 L148.43,509.64 L148.66,509.76 L148.89,509.88 L149.12,510.00 L149.35,510.12 L149.58,510.24 L149.81,510.36 L150.04,510.48 L150.27,510.59 L150.50,510.71 L150.73,510.83 L150.96,510.94 L151.19,511.06 L151.42,511.17 L151.65,511.29 L151.88,511.40 L152.11,511.51 L152.34,511.62 L152.58,511.73 L152.81,511.84 L153.04,511.95 L153.27,512.06 L153.50,512.17 L153.73,512.27 L153.96,512.38 L154.19,512.48 L154.42,512.58 L154.65,512.69 L154.88,512.79 L155.11,512.89 L155.34,512.98 L155.57,513.08 L155.80,513.18 L156.03,513.27 L156.26,513.36 L156.49,513.46 L156.72,513.55 L156.95,513.64 L157.18,513.73 L157.41,513.81 L157.64,513.90 L157.87,513.98 L158.10,514.06 L158.33,514.15 L158.56,514.22 L158.79,514.30 L159.02,514.38 L159.25,514.46 L159.48,514.53 L159.71,514.60 L159.95,514.67 L160.18,514.74 L160.41,514.81 L160.64,514.87 L160.87,514.94 L161.10,515.00 L161.33,515.06 L161.56,515.12 L161.79,515.18 L162.02,515.24 L162.25,515.29 L162.48,515.34 L162.71,515.39 L162.94,515.44 L163.17,515.49 L163.40,515.53 L163.63,515.58 L163.86,515.62 L164.09,515.66 L164.32,515.70 L164.55,515.73 L164.78,515.77 L165.01,515.80 L165.24,515.83 L165.47,515.86 L165.70,515.88 L165.93,515.91 L166.16,515.93 L166.39,515.95 L166.62,515.97 L166.85,515.99 L167.08,516.00 L167.32,516.01 L167.55,516.02 L167.78,516.03 L168.01,516.03 L168.24,516.04 L168.47,516.04 L168.70,516.04 L168.93,516.03 L169.16,516.03 L169.39,516.02 L169.62,516.01 L169.85,516.00 L170.08,515.98 L170.31,515.97 L170.54,515.95 L170.77,515.92 L171.00,515.90 L171.23,515.87 L171.46,515.85 L171.69,515.82 L171.92,515.79 L172.15,515.75 L172.38,515.72 L172.61,515.68 L172.84,515.64 L173.07,515.60 L173.30,515.55 L173.53,515.51 L173.76,515.46 L173.99,515.42 L174.22,515.37 L174.45,515.32 L174.69,515.26 L174.92,515.21 L175.15,515.15 L175.38,515.10 L175.61,515.04 L175.84,514.98 L176.07,514.92 L176.30,514.86 L176.53,514.79 L176.76,514.73 L176.99,514.66 L177.22,514.60 L177.45,514.53 L177.68,514.46 L177.91,514.39 L178.14,514.32 L178.37,514.25 L178.60,514.18 L178.83,514.11 L179.06,514.03 L179.29,513.96 L179.52,513.89 L179.75,513.81 L179.98,513.74 L180.21,513.66 L180.44,513.58 L180.67,513.51 L180.90,513.43 L181.13,513.35 L181.36,513.27 L181.59,513.19 L181.82,513.12 L182.06,513.04 L182.29,512.96 L182.52,512.88 L182.75,512.80 L182.98,512.72 L183.21,512.64 L183.44,512.56 L183.67,512.48 L183.90,512.40 L184.13,512.32 L184.36,512.25 L184.59,512.17 L184.82,512.09 L185.05,512.01 L185.28,511.93 L185.51,511.86 L185.74,511.78 L185.97,511.70 L186.20,511.63 L186.43,511.55 L186.66,511.48 L186.89,511.40 L187.12,511.33 L187.35,511.25 L187.58,511.18 L187.81,511.10 L188.04,511.03 L188.27,510.96 L188.50,510.88 L188.73,510.81 L188.96,510.74 L189.19,510.67 L189.42,510.60 L189.66,510.53 L189.89,510.46 L190.12,510.39 L190.35,510.32 L190.58,510.25 L190.81,510.18 L191.04,510.11 L191.27,510.04 L191.50,509.98 L191.73,509.91 L191.96,509.85 L192.19,509.78 L192.42,509.72 L192.65,509.65 L192.88,509.59 L193.11,509.53 L193.34,509.47 L193.57,509.40 L193.80,509.34 L194.03,509.28 L194.26,509.22 L194.49,509.16 L194.72,509.11 L194.95,509.05 L195.18,508.99 L195.41,508.94 L195.64,508.88 L195.87,508.83 L196.10,508.77 L196.33,508.72 L196.56,508.67 L196.79,508.62 L197.03,508.56 L197.26,508.51 L197.49,508.47 L197.72,508.42 L197.95,508.37 L198.18,508.32 L198.41,508.28 L198.64,508.23 L198.87,508.19 L199.10,508.14 L199.33,508.10 L199.56,508.06 L199.79,508.02 L200.02,507.98 L200.25,507.94 L200.48,507.90 L200.71,507.86 L200.94,507.83 L201.17,507.79 L201.40,507.76 L201.63,507.72 L201.86,507.69 L202.09,507.66 L202.32,507.63 L202.55,507.60 L202.78,507.57 L203.01,507.54 L203.24,507.52 L203.47,507.49 L203.70,507.47 L203.93,507.44 L204.16,507.42 L204.40,507.40 L204.63,507.38 L204.86,507.36 L205.09,507.34 L205.32,507.33 L205.55,507.31 L205.78,507.30 L206.01,507.28 L206.24,507.27 L206.47,507.26 L206.70,507.25 L206.93,507.24 L207.16,507.23 L207.39,507.22 L207.62,507.21 L207.85,507.21 L208.08,507.20 L208.31,507.20 L208.54,507.19 L208.77,507.19 L209.00,507.19 L209.23,507.19 L209.46,507.19 L209.69,507.19 L209.92,507.19 L210.15,507.19 L210.38,507.20 L210.61,507.20 L210.84,507.20 L211.07,507.21 L211.30,507.22 L211.53,507.22 L211.77,507.23 L212.00,507.24 L212.23,507.25 L212.46,507.26 L212.69,507.26 L212.92,507.28 L213.15,507.29 L213.38,507.30 L213.61,507.31 L213.84,507.32 L214.07,507.34 L214.30,507.35 L214.53,507.36 L214.76,507.38 L214.99,507.39 L215.22,507.41 L215.45,507.43 L215.68,507.44 L215.91,507.46 L216.14,507.48 L216.37,507.50 L216.60,507.51 L216.83,507.53 L217.06,507.55 L217.29,507.57 L217.52,507.59 L217.75,507.61 L217.98,507.63 L218.21,507.65 L218.44,507.67 L218.67,507.70 L218.90,507.72 L219.14,507.74 L219.37,507.76 L219.60,507.78 L219.83,507.81 L220.06,507.83 L220.29,507.85 L220.52,507.88 L220.75,507.90 L220.98,507.92 L221.21,507.95 L221.44,507.97 L221.67,507.99 L221.90,508.02 L222.13,508.04 L222.36,508.07 L222.59,508.09 L222.82,508.11 L223.05,508.14 L223.28,508.16 L223.51,508.19 L223.74,508.21 L223.97,508.23 L224.20,508.26 L224.43,508.28 L224.66,508.31 L224.89,508.33 L225.12,508.35 L225.35,508.38 L225.58,508.40 L225.81,508.42 L226.04,508.45 L226.27,508.47 L226.51,508.50 L226.74,508.52 L226.97,508.54 L227.20,508.56 L227.43,508.59 L227.66,508.61 L227.89,508.63 L228.12,508.66 L228.35,508.68 L228.58,508.70 L228.81,508.72 L229.04,508.75 L229.27,508.77 L229.50,508.79 L229.73,508.81 L229.96,508.83 L230.19,508.86 L230.42,508.88 L230.65,508.90 L230.88,508.92 L231.11,508.94 L231.34,508.96 L231.57,508.99 L231.80,509.01 L232.03,509.03 L232.26,509.05 L232.49,509.07 L232.72,509.09 L232.95,509.11 L233.18,509.13 L233.41,509.15 L233.64,509.17 L233.88,509.19 L234.11,509.21 L234.34,509.23 L234.57,509.25 L234.80,509.27 L235.03,509.29 L235.26,509.31 L235.49,509.33 L235.72,509.35 L235.95,509.37 L236.18,509.39 L236.41,509.41 L236.64,509.43 L236.87,509.45 L237.10,509.47 L237.33,509.49 L237.56,509.51 L237.79,509.52 L238.02,509.54 L238.25,509.56 L238.48,509.58 L238.71,509.60 L238.94,509.62 L239.17,509.63 L239.40,509.65 L239.63,509.67 L239.86,509.69 L240.09,509.70 L240.32,509.72 L240.55,509.74 L240.78,509.76 L241.01,509.77 L241.25,509.79 L241.48,509.81 L241.71,509.82 L241.94,509.84 L242.17,509.86 L242.40,509.87 L242.63,509.89 L242.86,509.91 L243.09,509.92 L243.32,509.94 L243.55,509.95 L243.78,509.97 L244.01,509.99 L244.24,510.00 L244.47,510.02 L244.70,510.03 L244.93,510.05 L245.16,510.06 L245.39,510.08 L245.62,510.09 L245.85,510.11 L246.08,510.12 L246.31,510.14 L246.54,510.15 L246.77,510.16 L247.00,510.18 L247.23,510.19 L247.46,510.21 L247.69,510.22 L247.92,510.23 L248.15,510.25 L248.38,510.26 L248.62,510.27 L248.85,510.29 L249.08,510.30 L249.31,510.31 L249.54,510.32 L249.77,510.34 L250.00,510.35 L250.23,510.36 L250.46,510.37 L250.69,510.39 L250.92,510.40 L251.15,510.41 L251.38,510.42 L251.61,510.43 L251.84,510.45 L252.07,510.46 L252.30,510.47" fill="none" stroke="#80f0f0" stroke-width="3.4" stroke-linejoin="round"/>
<path d="M45.25,555.50 L45.48,555.50 L45.71,555.50 L45.94,555.50 L46.17,555.50 L46.40,555.50 L46.63,555.50 L46.86,555.50 L47.09,555.50 L47.32,555.50 L47.55,555.50 L47.78,555.50 L48.01,555.50 L48.24,555.50 L48.47,555.50 L48.70,555.50 L48.93,555.50 L49.17,555.50 L49.40,555.50 L49.63,555.50 L49.86,555.50 L50.09,555.50 L50.32,555.50 L50.55,555.50 L50.78,555.50 L51.01,555.50 L51.24,555.50 L51.47,555.50 L51.70,555.50 L51.93,555.50 L52.16,555.50 L52.39,555.50 L52.62,555.50 L52.85,555.50 L53.08,555.50 L53.31,555.50 L53.54,555.50 L53.77,555.50 L54.00,555.50 L54.23,555.50 L54.46,555.50 L54.69,555.50 L54.92,555.50 L55.15,555.50 L55.38,555.50 L55.61,555.50 L55.84,555.50 L56.07,555.50 L56.30,555.50 L56.54,555.50 L56.77,555.50 L57.00,555.50 L57.23,555.50 L57.46,555.50 L57.69,555.50 L57.92,555.50 L58.15,555.50 L58.38,555.50 L58.61,555.50 L58.84,555.50 L59.07,555.50 L59.30,555.50 L59.53,555.50 L59.76,555.50 L59.99,555.50 L60.22,555.50 L60.45,555.50 L60.68,555.50 L60.91,555.50 L61.14,555.50 L61.37,555.50 L61.60,555.50 L61.83,555.50 L62.06,555.50 L62.29,555.50 L62.52,555.50 L62.75,555.50 L62.98,555.50 L63.21,555.50 L63.44,555.14 L63.67,553.85 L63.91,552.30 L64.14,550.49 L64.37,548.42 L64.60,546.08 L64.83,543.48 L65.06,540.62 L65.29,537.49 L65.52,534.09 L65.75,530.43 L65.98,526.49 L66.21,522.29 L66.44,517.84 L66.67,513.17 L66.90,508.34 L67.13,503.39 L67.36,498.36 L67.59,493.29 L67.82,488.22 L68.05,483.20 L68.28,478.25 L68.51,473.37 L68.74,468.56 L68.97,463.79 L69.20,459.08 L69.43,454.40 L69.66,449.76 L69.89,445.13 L70.12,440.55 L70.35,436.09 L70.58,431.89 L70.81,428.05 L71.04,424.71 L71.28,421.97 L71.51,419.86 L71.74,418.34 L71.97,417.39 L72.20,417.00 L72.43,417.10 L72.66,417.61 L72.89,418.43 L73.12,419.48 L73.35,420.66 L73.58,421.89 L73.81,423.08 L74.04,424.26 L74.27,425.47 L74.50,426.75 L74.73,428.15 L74.96,429.71 L75.19,431.47 L75.42,433.43 L75.65,435.57 L75.88,437.86 L76.11,440.29 L76.34,442.83 L76.57,445.47 L76.80,448.17 L77.03,450.93 L77.26,453.72 L77.49,456.51 L77.72,459.29 L77.95,462.04 L78.18,464.74 L78.41,467.39 L78.65,469.98 L78.88,472.51 L79.11,474.98 L79.34,477.37 L79.57,479.70 L79.80,481.95 L80.03,484.13 L80.26,486.22 L80.49,488.23 L80.72,490.15 L80.95,491.97 L81.18,493.71 L81.41,495.37 L81.64,496.93 L81.87,498.41 L82.10,499.82 L82.33,501.14 L82.56,502.38 L82.79,503.55 L83.02,504.65 L83.25,505.68 L83.48,506.63 L83.71,507.52 L83.94,508.35 L84.17,509.11 L84.40,509.82 L84.63,510.47 L84.86,511.06 L85.09,511.60 L85.32,512.10 L85.55,512.55 L85.78,512.95 L86.02,513.32 L86.25,513.64 L86.48,513.94 L86.71,514.20 L86.94,514.43 L87.17,514.63 L87.40,514.81 L87.63,514.96 L87.86,515.10 L88.09,515.22 L88.32,515.33 L88.55,515.43 L88.78,515.52 L89.01,515.60 L89.24,515.68 L89.47,515.76 L89.70,515.84 L89.93,515.92 L90.16,516.00 L90.39,516.08 L90.62,516.16 L90.85,516.23 L91.08,516.31 L91.31,516.38 L91.54,516.45 L91.77,516.52 L92.00,516.59 L92.23,516.65 L92.46,516.71 L92.69,516.77 L92.92,516.83 L93.15,516.88 L93.39,516.92 L93.62,516.96 L93.85,517.00 L94.08,517.03 L94.31,517.06 L94.54,517.08 L94.77,517.09 L95.00,517.10 L95.23,517.10 L95.46,517.10 L95.69,517.09 L95.92,517.07 L96.15,517.05 L96.38,517.02 L96.61,516.99 L96.84,516.95 L97.07,516.90 L97.30,516.85 L97.53,516.80 L97.76,516.74 L97.99,516.68 L98.22,516.61 L98.45,516.54 L98.68,516.47 L98.91,516.39 L99.14,516.31 L99.37,516.23 L99.60,516.14 L99.83,516.05 L100.06,515.95 L100.29,515.86 L100.52,515.76 L100.76,515.66 L100.99,515.55 L101.22,515.45 L101.45,515.34 L101.68,515.24 L101.91,515.13 L102.14,515.02 L102.37,514.91 L102.60,514.79 L102.83,514.68 L103.06,514.57 L103.29,514.45 L103.52,514.34 L103.75,514.23 L103.98,514.11 L104.21,514.00 L104.44,513.89 L104.67,513.77 L104.90,513.66 L105.13,513.55 L105.36,513.44 L105.59,513.33 L105.82,513.21 L106.05,513.10 L106.28,512.99 L106.51,512.88 L106.74,512.77 L106.97,512.66 L107.20,512.55 L107.43,512.45 L107.66,512.34 L107.89,512.23 L108.13,512.12 L108.36,512.01 L108.59,511.91 L108.82,511.80 L109.05,511.70 L109.28,511.59 L109.51,511.49 L109.74,511.38 L109.97,511.28 L110.20,511.18 L110.43,511.08 L110.66,510.98 L110.89,510.88 L111.12,510.78 L111.35,510.68 L111.58,510.58 L111.81,510.48 L112.04,510.38 L112.27,510.29 L112.50,510.19 L112.73,510.10 L112.96,510.01 L113.19,509.91 L113.42,509.82 L113.65,509.73 L113.88,509.64 L114.11,509.55 L114.34,509.46 L114.57,509.38 L114.80,509.29 L115.03,509.20 L115.26,509.12 L115.49,509.04 L115.73,508.96 L115.96,508.87 L116.19,508.79 L116.42,508.72 L116.65,508.64 L116.88,508.56 L117.11,508.48 L117.34,508.41 L117.57,508.34 L117.80,508.26 L118.03,508.19 L118.26,508.12 L118.49,508.05 L118.72,507.98 L118.95,507.92 L119.18,507.85 L119.41,507.79 L119.64,507.72 L119.87,507.66 L120.10,507.60 L120.33,507.54 L120.56,507.48 L120.79,507.42 L121.02,507.36 L121.25,507.31 L121.48,507.25 L121.71,507.20 L121.94,507.15 L122.17,507.10 L122.40,507.05 L122.63,507.00 L122.86,506.95 L123.10,506.90 L123.33,506.86 L123.56,506.81 L123.79,506.77 L124.02,506.73 L124.25,506.69 L124.48,506.65 L124.71,506.61 L124.94,506.57 L125.17,506.54 L125.40,506.50 L125.63,506.47 L125.86,506.44 L126.09,506.40 L126.32,506.37 L126.55,506.35 L126.78,506.32 L127.01,506.29 L127.24,506.27 L127.47,506.24 L127.70,506.22 L127.93,506.20 L128.16,506.18 L128.39,506.16 L128.62,506.14 L128.85,506.13 L129.08,506.11 L129.31,506.10 L129.54,506.09 L129.77,506.08 L130.00,506.07 L130.23,506.06 L130.47,506.05 L130.70,506.04 L130.93,506.04 L131.16,506.04 L131.39,506.04 L131.62,506.04 L131.85,506.04 L132.08,506.04 L132.31,506.04 L132.54,506.05 L132.77,506.05 L133.00,506.06 L133.23,506.07 L133.46,506.08 L133.69,506.09 L133.92,506.11 L134.15,506.12 L134.38,506.14 L134.61,506.16 L134.84,506.18 L135.07,506.20 L135.30,506.22 L135.53,506.24 L135.76,506.27 L135.99,506.30 L136.22,506.33 L136.45,506.36 L136.68,506.39 L136.91,506.42 L137.14,506.46 L137.37,506.49 L137.60,506.53 L137.84,506.57 L138.07,506.61 L138.30,506.65 L138.53,506.70 L138.76,506.75 L138.99,506.79 L139.22,506.84 L139.45,506.89 L139.68,506.94 L139.91,507.00 L140.14,507.05 L140.37,507.11 L140.60,507.17 L140.83,507.23 L141.06,507.29 L141.29,507.35 L141.52,507.41 L141.75,507.47 L141.98,507.54 L142.21,507.61 L142.44,507.67 L142.67,507.74 L142.90,507.81 L143.13,507.88 L143.36,507.95 L143.59,508.03 L143.82,508.10 L144.05,508.18 L144.28,508.25 L144.51,508.33 L144.74,508.41 L144.97,508.48 L145.21,508.56 L145.44,508.64 L145.67,508.72 L145.90,508.81 L146.13,508.89 L146.36,508.97 L146.59,509.05 L146.82,509.14 L147.05,509.22 L147.28,509.31 L147.51,509.40 L147.74,509.48 L147.97,509.57 L148.20,509.66 L148.43,509.75 L148.66,509.84 L148.89,509.92 L149.12,510.01 L149.35,510.10 L149.58,510.19 L149.81,510.29 L150.04,510.38 L150.27,510.47 L150.50,510.56 L150.73,510.65 L150.96,510.74 L151.19,510.83 L151.42,510.93 L151.65,511.02 L151.88,511.11 L152.11,511.20 L152.34,511.30 L152.58,511.39 L152.81,511.48 L153.04,511.58 L153.27,511.67 L153.50,511.76 L153.73,511.85 L153.96,511.94 L154.19,512.04 L154.42,512.13 L154.65,512.22 L154.88,512.31 L155.11,512.40 L155.34,512.49 L155.57,512.58 L155.80,512.67 L156.03,512.76 L156.26,512.85 L156.49,512.94 L156.72,513.02 L156.95,513.11 L157.18,513.20 L157.41,513.28 L157.64,513.37 L157.87,513.45 L158.10,513.54 L158.33,513.62 L158.56,513.70 L158.79,513.78 L159.02,513.86 L159.25,513.94 L159.48,514.02 L159.71,514.10 L159.95,514.17 L160.18,514.25 L160.41,514.32 L160.64,514.39 L160.87,514.47 L161.10,514.54 L161.33,514.61 L161.56,514.67 L161.79,514.74 L162.02,514.81 L162.25,514.87 L162.48,514.93 L162.71,515.00 L162.94,515.06 L163.17,515.11 L163.40,515.17 L163.63,515.23 L163.86,515.28 L164.09,515.33 L164.32,515.38 L164.55,515.43 L164.78,515.48 L165.01,515.52 L165.24,515.57 L165.47,515.61 L165.70,515.65 L165.93,515.69 L166.16,515.72 L166.39,515.76 L166.62,515.79 L166.85,515.82 L167.08,515.85 L167.32,515.87 L167.55,515.90 L167.78,515.92 L168.01,515.94 L168.24,515.96 L168.47,515.97 L168.70,515.98 L168.93,516.00 L169.16,516.00 L169.39,516.01 L169.62,516.01 L169.85,516.01 L170.08,516.01 L170.31,516.01 L170.54,516.00 L170.77,515.99 L171.00,515.98 L171.23,515.97 L171.46,515.95 L171.69,515.93 L171.92,515.91 L172.15,515.89 L172.38,515.86 L172.61,515.83 L172.84,515.80 L173.07,515.77 L173.30,515.74 L173.53,515.70 L173.76,515.66 L173.99,515.62 L174.22,515.58 L174.45,515.53 L174.69,515.49 L174.92,515.44 L175.15,515.39 L175.38,515.34 L175.61,515.29 L175.84,515.23 L176.07,515.18 L176.30,515.12 L176.53,515.06 L176.76,515.00 L176.99,514.94 L177.22,514.87 L177.45,514.81 L177.68,514.74 L177.91,514.68 L178.14,514.61 L178.37,514.54 L178.60,514.47 L178.83,514.40 L179.06,514.33 L179.29,514.26 L179.52,514.18 L179.75,514.11 L179.98,514.03 L180.21,513.96 L180.44,513.88 L180.67,513.80 L180.90,513.73 L181.13,513.65 L181.36,513.57 L181.59,513.49 L181.82,513.41 L182.06,513.33 L182.29,513.25 L182.52,513.17 L182.75,513.09 L182.98,513.01 L183.21,512.93 L183.44,512.85 L183.67,512.77 L183.90,512.69 L184.13,512.60 L184.36,512.52 L184.59,512.44 L184.82,512.36 L185.05,512.28 L185.28,512.20 L185.51,512.12 L185.74,512.04 L185.97,511.97 L186.20,511.89 L186.43,511.81 L186.66,511.73 L186.89,511.65 L187.12,511.58 L187.35,511.50 L187.58,511.42 L187.81,511.35 L188.04,511.27 L188.27,511.19 L188.50,511.12 L188.73,511.05 L188.96,510.97 L189.19,510.90 L189.42,510.82 L189.66,510.75 L189.89,510.68 L190.12,510.61 L190.35,510.54 L190.58,510.47 L190.81,510.40 L191.04,510.33 L191.27,510.26 L191.50,510.19 L191.73,510.12 L191.96,510.05 L192.19,509.99 L192.42,509.92 L192.65,509.85 L192.88,509.79 L193.11,509.72 L193.34,509.66 L193.57,509.60 L193.80,509.53 L194.03,509.47 L194.26,509.41 L194.49,509.35 L194.72,509.29 L194.95,509.23 L195.18,509.17 L195.41,509.11 L195.64,509.05 L195.87,509.00 L196.10,508.94 L196.33,508.89 L196.56,508.83 L196.79,508.78 L197.03,508.72 L197.26,508.67 L197.49,508.62 L197.72,508.57 L197.95,508.52 L198.18,508.47 L198.41,508.42 L198.64,508.37 L198.87,508.33 L199.10,508.28 L199.33,508.24 L199.56,508.19 L199.79,508.15 L200.02,508.11 L200.25,508.06 L200.48,508.02 L200.71,507.98 L200.94,507.95 L201.17,507.91 L201.40,507.87 L201.63,507.83 L201.86,507.80 L202.09,507.76 L202.32,507.73 L202.55,507.70 L202.78,507.67 L203.01,507.64 L203.24,507.61 L203.47,507.58 L203.70,507.55 L203.93,507.53 L204.16,507.50 L204.40,507.48 L204.63,507.45 L204.86,507.43 L205.09,507.41 L205.32,507.39 L205.55,507.37 L205.78,507.35 L206.01,507.34 L206.24,507.32 L206.47,507.31 L206.70,507.29 L206.93,507.28 L207.16,507.27 L207.39,507.26 L207.62,507.25 L207.85,507.24 L208.08,507.23 L208.31,507.22 L208.54,507.22 L208.77,507.21 L209.00,507.21 L209.23,507.20 L209.46,507.20 L209.69,507.20 L209.92,507.20 L210.15,507.20 L210.38,507.20 L210.61,507.20 L210.84,507.20 L211.07,507.21 L211.30,507.21 L211.53,507.21 L211.77,507.22 L212.00,507.23 L212.23,507.23 L212.46,507.24 L212.69,507.25 L212.92,507.26 L213.15,507.26 L213.38,507.27 L213.61,507.28 L213.84,507.30 L214.07,507.31 L214.30,507.32 L214.53,507.33 L214.76,507.34 L214.99,507.36 L215.22,507.37 L215.45,507.39 L215.68,507.40 L215.91,507.42 L216.14,507.43 L216.37,507.45 L216.60,507.47 L216.83,507.48 L217.06,507.50 L217.29,507.52 L217.52,507.54 L217.75,507.56 L217.98,507.58 L218.21,507.60 L218.44,507.62 L218.67,507.64 L218.90,507.66 L219.14,507.68 L219.37,507.70 L219.60,507.72 L219.83,507.74 L220.06,507.76 L220.29,507.79 L220.52,507.81 L220.75,507.83 L220.98,507.85 L221.21,507.88 L221.44,507.90 L221.67,507.92 L221.90,507.94 L222.13,507.97 L222.36,507.99 L222.59,508.01 L222.82,508.04 L223.05,508.06 L223.28,508.08 L223.51,508.11 L223.74,508.13 L223.97,508.16 L224.20,508.18 L224.43,508.20 L224.66,508.23 L224.89,508.25 L225.12,508.27 L225.35,508.30 L225.58,508.32 L225.81,508.34 L226.04,508.36 L226.27,508.39 L226.51,508.41 L226.74,508.43 L226.97,508.46 L227.20,508.48 L227.43,508.50 L227.66,508.52 L227.89,508.54 L228.12,508.57 L228.35,508.59 L228.58,508.61 L228.81,508.63 L229.04,508.65 L229.27,508.67 L229.50,508.70 L229.73,508.72 L229.96,508.74 L230.19,508.76 L230.42,508.78 L230.65,508.80 L230.88,508.82 L231.11,508.84 L231.34,508.86 L231.57,508.89 L231.80,508.91 L232.03,508.93 L232.26,508.95 L232.49,508.97 L232.72,508.99 L232.95,509.01 L233.18,509.03 L233.41,509.05 L233.64,509.07 L233.88,509.09 L234.11,509.11 L234.34,509.13 L234.57,509.15 L234.80,509.17 L235.03,509.19 L235.26,509.20 L235.49,509.22 L235.72,509.24 L235.95,509.26 L236.18,509.28 L236.41,509.30 L236.64,509.32 L236.87,509.34 L237.10,509.36 L237.33,509.38 L237.56,509.39 L237.79,509.41 L238.02,509.43 L238.25,509.45 L238.48,509.47 L238.71,509.49 L238.94,509.50 L239.17,509.52 L239.40,509.54 L239.63,509.56 L239.86,509.58 L240.09,509.59 L240.32,509.61 L240.55,509.63 L240.78,509.65 L241.01,509.66 L241.25,509.68 L241.48,509.70 L241.71,509.72 L241.94,509.73 L242.17,509.75 L242.40,509.77 L242.63,509.79 L242.86,509.80 L243.09,509.82 L243.32,509.84 L243.55,509.85 L243.78,509.87 L244.01,509.89 L244.24,509.90 L244.47,509.92 L244.70,509.94 L244.93,509.95 L245.16,509.97 L245.39,509.99 L245.62,510.00 L245.85,510.02 L246.08,510.04 L246.31,510.05 L246.54,510.07 L246.77,510.09 L247.00,510.10 L247.23,510.12 L247.46,510.13 L247.69,510.15 L247.92,510.17 L248.15,510.18 L248.38,510.20 L248.62,510.21 L248.85,510.23 L249.08,510.24 L249.31,510.26 L249.54,510.28 L249.77,510.29 L250.00,510.31 L250.23,510.32 L250.46,510.34 L250.69,510.35 L250.92,510.37 L251.15,510.38 L251.38,510.40 L251.61,510.41 L251.84,510.43 L252.07,510.44 L252.30,510.46" fill="none" stroke="#c81e24" stroke-width="2.6" stroke-dasharray="10.6,4.4" stroke-linejoin="round"/>
<path d="M45.25,555.50 L45.48,555.50 L45.71,555.50 L45.94,555.50 L46.17,555.50 L46.40,555.50 L46.63,555.50 L46.86,555.50 L47.09,555.50 L47.32,555.50 L47.55,555.50 L47.78,555.50 L48.01,555.50 L48.24,555.50 L48.47,555.50 L48.70,555.50 L48.93,555.50 L49.17,555.50 L49.40,555.50 L49.63,555.50 L49.86,555.50 L50.09,555.50 L50.32,555.50 L50.55,555.50 L50.78,555.50 L51.01,555.50 L51.24,555.50 L51.47,555.50 L51.70,555.50 L51.93,555.50 L52.16,555.50 L52.39,555.50 L52.62,555.50 L52.85,555.50 L53.08,555.50 L53.31,555.50 L53.54,555.50 L53.77,555.50 L54.00,555.50 L54.23,555.50 L54.46,555.50 L54.69,555.50 L54.92,555.50 L55.15,555.50 L55.38,555.50 L55.61,555.50 L55.84,555.50 L56.07,555.50 L56.30,555.50 L56.54,555.50 L56.77,555.50 L57.00,555.50 L57.23,555.50 L57.46,555.50 L57.69,555.50 L57.92,555.50 L58.15,555.50 L58.38,555.50 L58.61,555.50 L58.84,555.50 L59.07,555.50 L59.30,555.50 L59.53,555.50 L59.76,555.50 L59.99,555.50 L60.22,555.50 L60.45,555.50 L60.68,555.50 L60.91,555.50 L61.14,555.50 L61.37,555.50 L61.60,555.50 L61.83,555.50 L62.06,555.50 L62.29,555.50 L62.52,555.50 L62.75,555.50 L62.98,555.50 L63.21,554.76 L63.44,553.45 L63.67,551.88 L63.91,550.06 L64.14,547.97 L64.37,545.61 L64.60,542.96 L64.83,540.03 L65.06,536.80 L65.29,533.28 L65.52,529.44 L65.75,525.29 L65.98,520.82 L66.21,516.06 L66.44,511.08 L66.67,505.91 L66.90,500.62 L67.13,495.26 L67.36,489.88 L67.59,484.53 L67.82,479.25 L68.05,474.04 L68.28,468.88 L68.51,463.73 L68.74,458.59 L68.97,453.43 L69.20,448.23 L69.43,442.96 L69.66,437.61 L69.89,432.24 L70.12,426.98 L70.35,421.93 L70.58,417.21 L70.81,412.93 L71.04,409.22 L71.28,406.20 L71.51,404.01 L71.74,402.78 L71.97,402.57 L72.20,403.23 L72.43,404.61 L72.66,406.52 L72.89,408.80 L73.12,411.29 L73.35,413.89 L73.58,416.59 L73.81,419.38 L74.04,422.25 L74.27,425.19 L74.50,428.19 L74.73,431.25 L74.96,434.36 L75.19,437.50 L75.42,440.68 L75.65,443.88 L75.88,447.10 L76.11,450.34 L76.34,453.57 L76.57,456.81 L76.80,460.04 L77.03,463.25 L77.26,466.44 L77.49,469.59 L77.72,472.69 L77.95,475.74 L78.18,478.71 L78.41,481.60 L78.65,484.40 L78.88,487.09 L79.11,489.67 L79.34,492.12 L79.57,494.43 L79.80,496.59 L80.03,498.60 L80.26,500.46 L80.49,502.19 L80.72,503.78 L80.95,505.25 L81.18,506.60 L81.41,507.85 L81.64,508.99 L81.87,510.04 L82.10,511.01 L82.33,511.90 L82.56,512.71 L82.79,513.46 L83.02,514.15 L83.25,514.80 L83.48,515.40 L83.71,515.97 L83.94,516.51 L84.17,517.02 L84.40,517.51 L84.63,517.96 L84.86,518.39 L85.09,518.79 L85.32,519.17 L85.55,519.52 L85.78,519.85 L86.02,520.16 L86.25,520.45 L86.48,520.72 L86.71,520.96 L86.94,521.19 L87.17,521.40 L87.40,521.59 L87.63,521.76 L87.86,521.92 L88.09,522.06 L88.32,522.19 L88.55,522.31 L88.78,522.41 L89.01,522.50 L89.24,522.59 L89.47,522.66 L89.70,522.72 L89.93,522.77 L90.16,522.82 L90.39,522.86 L90.62,522.89 L90.85,522.92 L91.08,522.94 L91.31,522.96 L91.54,522.97 L91.77,522.98 L92.00,522.99 L92.23,522.99 L92.46,522.98 L92.69,522.97 L92.92,522.96 L93.15,522.94 L93.39,522.92 L93.62,522.89 L93.85,522.86 L94.08,522.82 L94.31,522.78 L94.54,522.73 L94.77,522.68 L95.00,522.63 L95.23,522.57 L95.46,522.51 L95.69,522.44 L95.92,522.37 L96.15,522.30 L96.38,522.22 L96.61,522.13 L96.84,522.05 L97.07,521.95 L97.30,521.86 L97.53,521.76 L97.76,521.66 L97.99,521.55 L98.22,521.44 L98.45,521.32 L98.68,521.20 L98.91,521.08 L99.14,520.95 L99.37,520.82 L99.60,520.69 L99.83,520.55 L100.06,520.41 L100.29,520.26 L100.52,520.12 L100.76,519.96 L100.99,519.81 L101.22,519.65 L101.45,519.49 L101.68,519.32 L101.91,519.15 L102.14,518.98 L102.37,518.81 L102.60,518.63 L102.83,518.45 L103.06,518.27 L103.29,518.08 L103.52,517.89 L103.75,517.71 L103.98,517.52 L104.21,517.32 L104.44,517.13 L104.67,516.93 L104.90,516.74 L105.13,516.54 L105.36,516.34 L105.59,516.14 L105.82,515.93 L106.05,515.73 L106.28,515.53 L106.51,515.32 L106.74,515.12 L106.97,514.91 L107.20,514.71 L107.43,514.50 L107.66,514.30 L107.89,514.09 L108.13,513.88 L108.36,513.68 L108.59,513.47 L108.82,513.27 L109.05,513.06 L109.28,512.86 L109.51,512.65 L109.74,512.45 L109.97,512.25 L110.20,512.04 L110.43,511.84 L110.66,511.64 L110.89,511.44 L111.12,511.24 L111.35,511.04 L111.58,510.84 L111.81,510.65 L112.04,510.45 L112.27,510.26 L112.50,510.06 L112.73,509.87 L112.96,509.68 L113.19,509.49 L113.42,509.30 L113.65,509.11 L113.88,508.93 L114.11,508.74 L114.34,508.56 L114.57,508.38 L114.80,508.20 L115.03,508.03 L115.26,507.85 L115.49,507.68 L115.73,507.51 L115.96,507.34 L116.19,507.17 L116.42,507.01 L116.65,506.85 L116.88,506.69 L117.11,506.53 L117.34,506.37 L117.57,506.22 L117.80,506.07 L118.03,505.92 L118.26,505.78 L118.49,505.64 L118.72,505.50 L118.95,505.36 L119.18,505.23 L119.41,505.10 L119.64,504.97 L119.87,504.85 L120.10,504.73 L120.33,504.61 L120.56,504.50 L120.79,504.39 L121.02,504.28 L121.25,504.17 L121.48,504.07 L121.71,503.98 L121.94,503.88 L122.17,503.79 L122.40,503.71 L122.63,503.62 L122.86,503.55 L123.10,503.47 L123.33,503.40 L123.56,503.33 L123.79,503.26 L124.02,503.20 L124.25,503.14 L124.48,503.09 L124.71,503.04 L124.94,502.99 L125.17,502.94 L125.40,502.90 L125.63,502.86 L125.86,502.82 L126.09,502.79 L126.32,502.76 L126.55,502.73 L126.78,502.70 L127.01,502.68 L127.24,502.66 L127.47,502.64 L127.70,502.63 L127.93,502.62 L128.16,502.61 L128.39,502.60 L128.62,502.60 L128.85,502.60 L129.08,502.60 L129.31,502.60 L129.54,502.61 L129.77,502.61 L130.00,502.62 L130.23,502.64 L130.47,502.65 L130.70,502.67 L130.93,502.69 L131.16,502.71 L131.39,502.73 L131.62,502.76 L131.85,502.78 L132.08,502.81 L132.31,502.85 L132.54,502.88 L132.77,502.92 L133.00,502.96 L133.23,503.00 L133.46,503.04 L133.69,503.08 L133.92,503.13 L134.15,503.18 L134.38,503.23 L134.61,503.28 L134.84,503.34 L135.07,503.39 L135.30,503.45 L135.53,503.51 L135.76,503.57 L135.99,503.64 L136.22,503.70 L136.45,503.77 L136.68,503.84 L136.91,503.91 L137.14,503.99 L137.37,504.06 L137.60,504.14 L137.84,504.22 L138.07,504.30 L138.30,504.38 L138.53,504.46 L138.76,504.55 L138.99,504.64 L139.22,504.73 L139.45,504.82 L139.68,504.91 L139.91,505.00 L140.14,505.10 L140.37,505.20 L140.60,505.29 L140.83,505.39 L141.06,505.50 L141.29,505.60 L141.52,505.70 L141.75,505.81 L141.98,505.92 L142.21,506.02 L142.44,506.13 L142.67,506.24 L142.90,506.35 L143.13,506.47 L143.36,506.58 L143.59,506.69 L143.82,506.81 L144.05,506.92 L144.28,507.04 L144.51,507.16 L144.74,507.28 L144.97,507.39 L145.21,507.51 L145.44,507.63 L145.67,507.75 L145.90,507.87 L146.13,507.99 L146.36,508.12 L146.59,508.24 L146.82,508.36 L147.05,508.48 L147.28,508.60 L147.51,508.72 L147.74,508.85 L147.97,508.97 L148.20,509.09 L148.43,509.21 L148.66,509.34 L148.89,509.46 L149.12,509.58 L149.35,509.70 L149.58,509.82 L149.81,509.94 L150.04,510.06 L150.27,510.18 L150.50,510.30 L150.73,510.42 L150.96,510.54 L151.19,510.66 L151.42,510.77 L151.65,510.89 L151.88,511.00 L152.11,511.12 L152.34,511.23 L152.58,511.35 L152.81,511.46 L153.04,511.57 L153.27,511.68 L153.50,511.79 L153.73,511.90 L153.96,512.01 L154.19,512.12 L154.42,512.22 L154.65,512.33 L154.88,512.43 L155.11,512.54 L155.34,512.64 L155.57,512.74 L155.80,512.84 L156.03,512.94 L156.26,513.04 L156.49,513.13 L156.72,513.23 L156.95,513.32 L157.18,513.41 L157.41,513.50 L157.64,513.59 L157.87,513.68 L158.10,513.77 L158.33,513.86 L158.56,513.94 L158.79,514.02 L159.02,514.11 L159.25,514.19 L159.48,514.27 L159.71,514.34 L159.95,514.42 L160.18,514.49 L160.41,514.57 L160.64,514.64 L160.87,514.71 L161.10,514.78 L161.33,514.84 L161.56,514.91 L161.79,514.97 L162.02,515.03 L162.25,515.09 L162.48,515.15 L162.71,515.21 L162.94,515.26 L163.17,515.32 L163.40,515.37 L163.63,515.42 L163.86,515.47 L164.09,515.51 L164.32,515.56 L164.55,515.60 L164.78,515.64 L165.01,515.68 L165.24,515.72 L165.47,515.75 L165.70,515.78 L165.93,515.82 L166.16,515.85 L166.39,515.87 L166.62,515.90 L166.85,515.92 L167.08,515.94 L167.32,515.96 L167.55,515.98 L167.78,515.99 L168.01,516.01 L168.24,516.02 L168.47,516.03 L168.70,516.03 L168.93,516.04 L169.16,516.04 L169.39,516.04 L169.62,516.04 L169.85,516.03 L170.08,516.02 L170.31,516.01 L170.54,516.00 L170.77,515.99 L171.00,515.97 L171.23,515.96 L171.46,515.93 L171.69,515.91 L171.92,515.89 L172.15,515.86 L172.38,515.83 L172.61,515.80 L172.84,515.77 L173.07,515.73 L173.30,515.70 L173.53,515.66 L173.76,515.62 L173.99,515.58 L174.22,515.53 L174.45,515.49 L174.69,515.44 L174.92,515.39 L175.15,515.34 L175.38,515.29 L175.61,515.23 L175.84,515.18 L176.07,515.12 L176.30,515.07 L176.53,515.01 L176.76,514.95 L176.99,514.89 L177.22,514.82 L177.45,514.76 L177.68,514.70 L177.91,514.63 L178.14,514.56 L178.37,514.50 L178.60,514.43 L178.83,514.36 L179.06,514.29 L179.29,514.21 L179.52,514.14 L179.75,514.07 L179.98,514.00 L180.21,513.92 L180.44,513.85 L180.67,513.77 L180.90,513.70 L181.13,513.62 L181.36,513.54 L181.59,513.47 L181.82,513.39 L182.06,513.31 L182.29,513.23 L182.52,513.15 L182.75,513.07 L182.98,512.99 L183.21,512.92 L183.44,512.84 L183.67,512.76 L183.90,512.68 L184.13,512.60 L184.36,512.52 L184.59,512.44 L184.82,512.36 L185.05,512.28 L185.28,512.20 L185.51,512.13 L185.74,512.05 L185.97,511.97 L186.20,511.89 L186.43,511.82 L186.66,511.74 L186.89,511.66 L187.12,511.59 L187.35,511.51 L187.58,511.44 L187.81,511.36 L188.04,511.29 L188.27,511.21 L188.50,511.14 L188.73,511.06 L188.96,510.99 L189.19,510.92 L189.42,510.84 L189.66,510.77 L189.89,510.70 L190.12,510.63 L190.35,510.56 L190.58,510.49 L190.81,510.42 L191.04,510.35 L191.27,510.28 L191.50,510.21 L191.73,510.14 L191.96,510.07 L192.19,510.01 L192.42,509.94 L192.65,509.88 L192.88,509.81 L193.11,509.75 L193.34,509.68 L193.57,509.62 L193.80,509.55 L194.03,509.49 L194.26,509.43 L194.49,509.37 L194.72,509.31 L194.95,509.25 L195.18,509.19 L195.41,509.13 L195.64,509.07 L195.87,509.02 L196.10,508.96 L196.33,508.90 L196.56,508.85 L196.79,508.80 L197.03,508.74 L197.26,508.69 L197.49,508.64 L197.72,508.59 L197.95,508.54 L198.18,508.49 L198.41,508.44 L198.64,508.39 L198.87,508.34 L199.10,508.30 L199.33,508.25 L199.56,508.20 L199.79,508.16 L200.02,508.12 L200.25,508.08 L200.48,508.03 L200.71,507.99 L200.94,507.95 L201.17,507.92 L201.40,507.88 L201.63,507.84 L201.86,507.81 L202.09,507.77 L202.32,507.74 L202.55,507.70 L202.78,507.67 L203.01,507.64 L203.24,507.61 L203.47,507.58 L203.70,507.56 L203.93,507.53 L204.16,507.50 L204.40,507.48 L204.63,507.45 L204.86,507.43 L205.09,507.41 L205.32,507.39 L205.55,507.37 L205.78,507.35 L206.01,507.34 L206.24,507.32 L206.47,507.30 L206.70,507.29 L206.93,507.28 L207.16,507.27 L207.39,507.25 L207.62,507.24 L207.85,507.24 L208.08,507.23 L208.31,507.22 L208.54,507.21 L208.77,507.21 L209.00,507.20 L209.23,507.20 L209.46,507.20 L209.69,507.20 L209.92,507.19 L210.15,507.19 L210.38,507.19 L210.61,507.20 L210.84,507.20 L211.07,507.20 L211.30,507.20 L211.53,507.21 L211.77,507.21 L212.00,507.22 L212.23,507.23 L212.46,507.23 L212.69,507.24 L212.92,507.25 L213.15,507.26 L213.38,507.27 L213.61,507.28 L213.84,507.29 L214.07,507.30 L214.30,507.31 L214.53,507.33 L214.76,507.34 L214.99,507.35 L215.22,507.37 L215.45,507.38 L215.68,507.40 L215.91,507.41 L216.14,507.43 L216.37,507.45 L216.60,507.46 L216.83,507.48 L217.06,507.50 L217.29,507.52 L217.52,507.53 L217.75,507.55 L217.98,507.57 L218.21,507.59 L218.44,507.61 L218.67,507.63 L218.90,507.65 L219.14,507.67 L219.37,507.70 L219.60,507.72 L219.83,507.74 L220.06,507.76 L220.29,507.78 L220.52,507.81 L220.75,507.83 L220.98,507.85 L221.21,507.87 L221.44,507.90 L221.67,507.92 L221.90,507.94 L222.13,507.97 L222.36,507.99 L222.59,508.01 L222.82,508.04 L223.05,508.06 L223.28,508.08 L223.51,508.11 L223.74,508.13 L223.97,508.15 L224.20,508.18 L224.43,508.20 L224.66,508.23 L224.89,508.25 L225.12,508.27 L225.35,508.30 L225.58,508.32 L225.81,508.34 L226.04,508.36 L226.27,508.39 L226.51,508.41 L226.74,508.43 L226.97,508.46 L227.20,508.48 L227.43,508.50 L227.66,508.52 L227.89,508.55 L228.12,508.57 L228.35,508.59 L228.58,508.61 L228.81,508.63 L229.04,508.65 L229.27,508.68 L229.50,508.70 L229.73,508.72 L229.96,508.74 L230.19,508.76 L230.42,508.78 L230.65,508.80 L230.88,508.82 L231.11,508.85 L231.34,508.87 L231.57,508.89 L231.80,508.91 L232.03,508.93 L232.26,508.95 L232.49,508.97 L232.72,508.99 L232.95,509.01 L233.18,509.03 L233.41,509.05 L233.64,509.07 L233.88,509.09 L234.11,509.11 L234.34,509.13 L234.57,509.15 L234.80,509.17 L235.03,509.19 L235.26,509.21 L235.49,509.23 L235.72,509.24 L235.95,509.26 L236.18,509.28 L236.41,509.30 L236.64,509.32 L236.87,509.34 L237.10,509.36 L237.33,509.38 L237.56,509.40 L237.79,509.41 L238.02,509.43 L238.25,509.45 L238.48,509.47 L238.71,509.49 L238.94,509.51 L239.17,509.52 L239.40,509.54 L239.63,509.56 L239.86,509.58 L240.09,509.60 L240.32,509.61 L240.55,509.63 L240.78,509.65 L241.01,509.67 L241.25,509.68 L241.48,509.70 L241.71,509.72 L241.94,509.74 L242.17,509.75 L242.40,509.77 L242.63,509.79 L242.86,509.80 L243.09,509.82 L243.32,509.84 L243.55,509.85 L243.78,509.87 L244.01,509.89 L244.24,509.90 L244.47,509.92 L244.70,509.94 L244.93,509.95 L245.16,509.97 L245.39,509.99 L245.62,510.00 L245.85,510.02 L246.08,510.04 L246.31,510.05 L246.54,510.07 L246.77,510.09 L247.00,510.10 L247.23,510.12 L247.46,510.13 L247.69,510.15 L247.92,510.17 L248.15,510.18 L248.38,510.20 L248.62,510.21 L248.85,510.23 L249.08,510.24 L249.31,510.26 L249.54,510.28 L249.77,510.29 L250.00,510.31 L250.23,510.32 L250.46,510.34 L250.69,510.35 L250.92,510.37 L251.15,510.38 L251.38,510.40 L251.61,510.41 L251.84,510.43 L252.07,510.44 L252.30,510.46" fill="none" stroke="#000" stroke-width="2.6" stroke-dasharray="2.6,3.85" stroke-linejoin="round"/>
</g>
<path d="M45.25,396.75 L45.25,555.55 L252.3,555.55" fill="none" stroke="#000" stroke-width="0.95" stroke-linecap="square"/>
<line x1="41.25" y1="555.55" x2="45.25" y2="555.55" stroke="#000" stroke-width="0.95"/>
<text x="36.65" y="560.70" font-size="12.0" text-anchor="end">0.0</text>
<line x1="41.25" y1="532.86" x2="45.25" y2="532.86" stroke="#000" stroke-width="0.95"/>
<text x="36.65" y="538.01" font-size="12.0" text-anchor="end">0.5</text>
<line x1="41.25" y1="510.18" x2="45.25" y2="510.18" stroke="#000" stroke-width="0.95"/>
<text x="36.65" y="515.33" font-size="12.0" text-anchor="end">1.0</text>
<line x1="41.25" y1="487.49" x2="45.25" y2="487.49" stroke="#000" stroke-width="0.95"/>
<text x="36.65" y="492.64" font-size="12.0" text-anchor="end">1.5</text>
<line x1="41.25" y1="464.81" x2="45.25" y2="464.81" stroke="#000" stroke-width="0.95"/>
<text x="36.65" y="469.96" font-size="12.0" text-anchor="end">2.0</text>
<line x1="41.25" y1="442.12" x2="45.25" y2="442.12" stroke="#000" stroke-width="0.95"/>
<text x="36.65" y="447.27" font-size="12.0" text-anchor="end">2.5</text>
<line x1="41.25" y1="419.44" x2="45.25" y2="419.44" stroke="#000" stroke-width="0.95"/>
<text x="36.65" y="424.59" font-size="12.0" text-anchor="end">3.0</text>
<line x1="41.25" y1="396.75" x2="45.25" y2="396.75" stroke="#000" stroke-width="0.95"/>
<text x="36.65" y="401.90" font-size="12.0" text-anchor="end">3.5</text>
<line x1="45.25" y1="555.55" x2="45.25" y2="559.55" stroke="#000" stroke-width="0.95"/>
<text x="45.25" y="573.45" font-size="12.0" text-anchor="middle">2</text>
<line x1="79.76" y1="555.55" x2="79.76" y2="559.55" stroke="#000" stroke-width="0.95"/>
<text x="79.76" y="573.45" font-size="12.0" text-anchor="middle">3</text>
<line x1="114.27" y1="555.55" x2="114.27" y2="559.55" stroke="#000" stroke-width="0.95"/>
<text x="114.27" y="573.45" font-size="12.0" text-anchor="middle">4</text>
<line x1="148.78" y1="555.55" x2="148.78" y2="559.55" stroke="#000" stroke-width="0.95"/>
<text x="148.78" y="573.45" font-size="12.0" text-anchor="middle">5</text>
<line x1="183.28" y1="555.55" x2="183.28" y2="559.55" stroke="#000" stroke-width="0.95"/>
<text x="183.28" y="573.45" font-size="12.0" text-anchor="middle">6</text>
<line x1="217.79" y1="555.55" x2="217.79" y2="559.55" stroke="#000" stroke-width="0.95"/>
<text x="217.79" y="573.45" font-size="12.0" text-anchor="middle">7</text>
<line x1="252.30" y1="555.55" x2="252.30" y2="559.55" stroke="#000" stroke-width="0.95"/>
<text x="252.30" y="573.45" font-size="12.0" text-anchor="middle">8</text>
<clipPath id="c21"><rect x="293.85" y="396.75" width="207.00" height="158.80"/></clipPath>
<g clip-path="url(#c21)">
<path d="M293.85,555.50 L294.08,555.50 L294.31,555.50 L294.54,555.50 L294.77,555.50 L295.00,555.50 L295.23,555.50 L295.46,555.50 L295.69,555.50 L295.92,555.50 L296.15,555.50 L296.38,555.50 L296.61,555.50 L296.84,555.50 L297.07,555.50 L297.30,555.50 L297.53,555.50 L297.76,555.50 L297.99,555.50 L298.22,555.50 L298.46,555.50 L298.69,555.50 L298.92,555.50 L299.15,555.50 L299.38,555.50 L299.61,555.50 L299.84,555.50 L300.07,555.50 L300.30,555.50 L300.53,555.50 L300.76,555.50 L300.99,555.50 L301.22,555.50 L301.45,555.50 L301.68,555.50 L301.91,555.50 L302.14,555.50 L302.37,555.50 L302.60,555.50 L302.83,555.40 L303.06,554.14 L303.29,552.17 L303.52,549.59 L303.75,546.49 L303.98,543.00 L304.21,539.20 L304.44,535.21 L304.67,531.13 L304.90,527.06 L305.13,523.08 L305.36,519.19 L305.59,515.35 L305.82,511.52 L306.05,507.68 L306.28,503.79 L306.51,499.82 L306.74,495.74 L306.97,491.51 L307.20,487.13 L307.44,482.62 L307.67,477.99 L307.90,473.28 L308.13,468.51 L308.36,463.70 L308.59,458.88 L308.82,454.08 L309.05,449.30 L309.28,444.56 L309.51,439.87 L309.74,435.25 L309.97,430.70 L310.20,426.24 L310.43,421.89 L310.66,417.75 L310.89,414.03 L311.12,410.91 L311.35,408.59 L311.58,407.04 L311.81,406.14 L312.04,405.74 L312.27,405.73 L312.50,406.21 L312.73,407.40 L312.96,409.53 L313.19,412.76 L313.42,416.84 L313.65,421.36 L313.88,425.90 L314.11,430.23 L314.34,434.35 L314.57,438.29 L314.80,442.08 L315.03,445.75 L315.26,449.31 L315.49,452.81 L315.72,456.26 L315.95,459.66 L316.18,463.01 L316.42,466.29 L316.65,469.50 L316.88,472.64 L317.11,475.69 L317.34,478.65 L317.57,481.51 L317.80,484.26 L318.03,486.90 L318.26,489.44 L318.49,491.87 L318.72,494.20 L318.95,496.43 L319.18,498.57 L319.41,500.62 L319.64,502.59 L319.87,504.48 L320.10,506.29 L320.33,508.04 L320.56,509.71 L320.79,511.33 L321.02,512.88 L321.25,514.37 L321.48,515.81 L321.71,517.19 L321.94,518.51 L322.17,519.79 L322.40,521.01 L322.63,522.18 L322.86,523.30 L323.09,524.38 L323.32,525.41 L323.55,526.40 L323.78,527.35 L324.01,528.26 L324.24,529.12 L324.47,529.95 L324.70,530.75 L324.93,531.51 L325.16,532.24 L325.40,532.94 L325.63,533.60 L325.86,534.24 L326.09,534.84 L326.32,535.41 L326.55,535.96 L326.78,536.47 L327.01,536.96 L327.24,537.42 L327.47,537.85 L327.70,538.25 L327.93,538.63 L328.16,538.98 L328.39,539.30 L328.62,539.60 L328.85,539.87 L329.08,540.12 L329.31,540.35 L329.54,540.55 L329.77,540.73 L330.00,540.89 L330.23,541.02 L330.46,541.14 L330.69,541.23 L330.92,541.30 L331.15,541.36 L331.38,541.39 L331.61,541.40 L331.84,541.40 L332.07,541.37 L332.30,541.33 L332.53,541.26 L332.76,541.16 L332.99,541.04 L333.22,540.89 L333.45,540.72 L333.68,540.51 L333.91,540.27 L334.14,540.01 L334.38,539.70 L334.61,539.37 L334.84,538.99 L335.07,538.58 L335.30,538.14 L335.53,537.65 L335.76,537.12 L335.99,536.55 L336.22,535.93 L336.45,535.27 L336.68,534.57 L336.91,533.82 L337.14,533.02 L337.37,532.18 L337.60,531.30 L337.83,530.37 L338.06,529.39 L338.29,528.37 L338.52,527.31 L338.75,526.20 L338.98,525.05 L339.21,523.85 L339.44,522.61 L339.67,521.33 L339.90,520.00 L340.13,518.63 L340.36,517.21 L340.59,515.75 L340.82,514.25 L341.05,512.70 L341.28,511.12 L341.51,509.49 L341.74,507.82 L341.97,506.12 L342.20,504.37 L342.43,502.59 L342.66,500.77 L342.89,498.92 L343.12,497.03 L343.36,495.11 L343.59,493.15 L343.82,491.16 L344.05,489.15 L344.28,487.10 L344.51,485.02 L344.74,482.91 L344.97,480.78 L345.20,478.62 L345.43,476.44 L345.66,474.24 L345.89,472.03 L346.12,469.81 L346.35,467.58 L346.58,465.36 L346.81,463.14 L347.04,460.93 L347.27,458.73 L347.50,456.55 L347.73,454.39 L347.96,452.26 L348.19,450.15 L348.42,448.09 L348.65,446.06 L348.88,444.07 L349.11,442.13 L349.34,440.25 L349.57,438.41 L349.80,436.64 L350.03,434.92 L350.26,433.27 L350.49,431.68 L350.72,430.15 L350.95,428.69 L351.18,427.30 L351.41,425.98 L351.64,424.73 L351.87,423.56 L352.10,422.46 L352.33,421.45 L352.57,420.51 L352.80,419.66 L353.03,418.90 L353.26,418.22 L353.49,417.63 L353.72,417.14 L353.95,416.73 L354.18,416.42 L354.41,416.21 L354.64,416.10 L354.87,416.08 L355.10,416.14 L355.33,416.29 L355.56,416.52 L355.79,416.82 L356.02,417.20 L356.25,417.63 L356.48,418.13 L356.71,418.69 L356.94,419.30 L357.17,419.95 L357.40,420.65 L357.63,421.39 L357.86,422.16 L358.09,422.96 L358.32,423.79 L358.55,424.64 L358.78,425.50 L359.01,426.38 L359.24,427.26 L359.47,428.15 L359.70,429.05 L359.93,429.94 L360.16,430.84 L360.39,431.73 L360.62,432.63 L360.85,433.53 L361.08,434.42 L361.31,435.32 L361.55,436.21 L361.78,437.10 L362.01,437.98 L362.24,438.86 L362.47,439.73 L362.70,440.60 L362.93,441.46 L363.16,442.31 L363.39,443.15 L363.62,443.99 L363.85,444.81 L364.08,445.62 L364.31,446.42 L364.54,447.21 L364.77,447.99 L365.00,448.76 L365.23,449.51 L365.46,450.25 L365.69,450.98 L365.92,451.69 L366.15,452.39 L366.38,453.08 L366.61,453.75 L366.84,454.41 L367.07,455.05 L367.30,455.68 L367.53,456.29 L367.76,456.89 L367.99,457.47 L368.22,458.04 L368.45,458.59 L368.68,459.12 L368.91,459.64 L369.14,460.14 L369.37,460.62 L369.60,461.09 L369.83,461.54 L370.06,461.97 L370.29,462.38 L370.53,462.78 L370.76,463.15 L370.99,463.51 L371.22,463.85 L371.45,464.17 L371.68,464.47 L371.91,464.76 L372.14,465.04 L372.37,465.29 L372.60,465.53 L372.83,465.76 L373.06,465.98 L373.29,466.18 L373.52,466.36 L373.75,466.54 L373.98,466.70 L374.21,466.85 L374.44,466.99 L374.67,467.12 L374.90,467.24 L375.13,467.34 L375.36,467.44 L375.59,467.54 L375.82,467.62 L376.05,467.69 L376.28,467.76 L376.51,467.82 L376.74,467.88 L376.97,467.92 L377.20,467.97 L377.43,468.01 L377.66,468.04 L377.89,468.07 L378.12,468.10 L378.35,468.12 L378.58,468.14 L378.81,468.16 L379.04,468.18 L379.27,468.20 L379.51,468.21 L379.74,468.23 L379.97,468.25 L380.20,468.26 L380.43,468.28 L380.66,468.31 L380.89,468.33 L381.12,468.35 L381.35,468.38 L381.58,468.41 L381.81,468.44 L382.04,468.47 L382.27,468.51 L382.50,468.54 L382.73,468.58 L382.96,468.61 L383.19,468.65 L383.42,468.69 L383.65,468.72 L383.88,468.76 L384.11,468.80 L384.34,468.84 L384.57,468.87 L384.80,468.91 L385.03,468.94 L385.26,468.98 L385.49,469.01 L385.72,469.05 L385.95,469.08 L386.18,469.11 L386.41,469.14 L386.64,469.17 L386.87,469.19 L387.10,469.22 L387.33,469.25 L387.56,469.27 L387.79,469.29 L388.02,469.32 L388.25,469.34 L388.49,469.36 L388.72,469.38 L388.95,469.40 L389.18,469.41 L389.41,469.43 L389.64,469.45 L389.87,469.46 L390.10,469.48 L390.33,469.49 L390.56,469.50 L390.79,469.51 L391.02,469.53 L391.25,469.54 L391.48,469.54 L391.71,469.55 L391.94,469.56 L392.17,469.57 L392.40,469.57 L392.63,469.58 L392.86,469.58 L393.09,469.59 L393.32,469.59 L393.55,469.59 L393.78,469.60 L394.01,469.60 L394.24,469.60 L394.47,469.60 L394.70,469.60 L394.93,469.60 L395.16,469.60 L395.39,469.59 L395.62,469.59 L395.85,469.59 L396.08,469.58 L396.31,469.58 L396.54,469.57 L396.77,469.57 L397.00,469.56 L397.23,469.56 L397.47,469.55 L397.70,469.54 L397.93,469.53 L398.16,469.53 L398.39,469.52 L398.62,469.51 L398.85,469.50 L399.08,469.49 L399.31,469.48 L399.54,469.47 L399.77,469.46 L400.00,469.44 L400.23,469.43 L400.46,469.42 L400.69,469.41 L400.92,469.40 L401.15,469.38 L401.38,469.37 L401.61,469.36 L401.84,469.34 L402.07,469.33 L402.30,469.31 L402.53,469.30 L402.76,469.29 L402.99,469.27 L403.22,469.26 L403.45,469.24 L403.68,469.23 L403.91,469.21 L404.14,469.19 L404.37,469.18 L404.60,469.16 L404.83,469.15 L405.06,469.13 L405.29,469.11 L405.52,469.10 L405.75,469.08 L405.98,469.07 L406.21,469.05 L406.45,469.03 L406.68,469.02 L406.91,469.00 L407.14,468.98 L407.37,468.97 L407.60,468.95 L407.83,468.93 L408.06,468.92 L408.29,468.90 L408.52,468.88 L408.75,468.87 L408.98,468.85 L409.21,468.84 L409.44,468.82 L409.67,468.80 L409.90,468.79 L410.13,468.77 L410.36,468.76 L410.59,468.74 L410.82,468.73 L411.05,468.71 L411.28,468.70 L411.51,468.68 L411.74,468.67 L411.97,468.66 L412.20,468.64 L412.43,468.63 L412.66,468.62 L412.89,468.60 L413.12,468.59 L413.35,468.58 L413.58,468.57 L413.81,468.55 L414.04,468.54 L414.27,468.53 L414.50,468.52 L414.73,468.51 L414.96,468.50 L415.19,468.49 L415.43,468.48 L415.66,468.47 L415.89,468.47 L416.12,468.46 L416.35,468.45 L416.58,468.44 L416.81,468.44 L417.04,468.43 L417.27,468.42 L417.50,468.42 L417.73,468.41 L417.96,468.41 L418.19,468.41 L418.42,468.40 L418.65,468.40 L418.88,468.40 L419.11,468.39 L419.34,468.39 L419.57,468.39 L419.80,468.39 L420.03,468.39 L420.26,468.39 L420.49,468.39 L420.72,468.39 L420.95,468.39 L421.18,468.39 L421.41,468.40 L421.64,468.40 L421.87,468.40 L422.10,468.41 L422.33,468.41 L422.56,468.42 L422.79,468.42 L423.02,468.43 L423.25,468.44 L423.48,468.44 L423.71,468.45 L423.94,468.46 L424.17,468.47 L424.41,468.48 L424.64,468.49 L424.87,468.50 L425.10,468.51 L425.33,468.52 L425.56,468.53 L425.79,468.54 L426.02,468.56 L426.25,468.57 L426.48,468.58 L426.71,468.60 L426.94,468.61 L427.17,468.63 L427.40,468.65 L427.63,468.66 L427.86,468.68 L428.09,468.70 L428.32,468.72 L428.55,468.74 L428.78,468.76 L429.01,468.78 L429.24,468.80 L429.47,468.82 L429.70,468.85 L429.93,468.87 L430.16,468.90 L430.39,468.92 L430.62,468.95 L430.85,468.97 L431.08,469.00 L431.31,469.03 L431.54,469.05 L431.77,469.08 L432.00,469.11 L432.23,469.14 L432.46,469.17 L432.69,469.20 L432.92,469.23 L433.15,469.26 L433.39,469.29 L433.62,469.32 L433.85,469.36 L434.08,469.39 L434.31,469.42 L434.54,469.45 L434.77,469.48 L435.00,469.52 L435.23,469.55 L435.46,469.58 L435.69,469.61 L435.92,469.64 L436.15,469.67 L436.38,469.70 L436.61,469.73 L436.84,469.76 L437.07,469.79 L437.30,469.82 L437.53,469.84 L437.76,469.87 L437.99,469.90 L438.22,469.92 L438.45,469.95 L438.68,469.97 L438.91,470.00 L439.14,470.02 L439.37,470.04 L439.60,470.06 L439.83,470.08 L440.06,470.10 L440.29,470.12 L440.52,470.13 L440.75,470.15 L440.98,470.16 L441.21,470.17 L441.44,470.18 L441.67,470.19 L441.90,470.20 L442.13,470.21 L442.37,470.21 L442.60,470.21 L442.83,470.22 L443.06,470.22 L443.29,470.22 L443.52,470.21 L443.75,470.21 L443.98,470.21 L444.21,470.20 L444.44,470.19 L444.67,470.18 L444.90,470.17 L445.13,470.16 L445.36,470.15 L445.59,470.14 L445.82,470.12 L446.05,470.10 L446.28,470.09 L446.51,470.07 L446.74,470.05 L446.97,470.03 L447.20,470.01 L447.43,469.98 L447.66,469.96 L447.89,469.94 L448.12,469.91 L448.35,469.88 L448.58,469.86 L448.81,469.83 L449.04,469.80 L449.27,469.77 L449.50,469.74 L449.73,469.70 L449.96,469.67 L450.19,469.64 L450.42,469.60 L450.65,469.57 L450.88,469.53 L451.11,469.50 L451.34,469.46 L451.58,469.42 L451.81,469.38 L452.04,469.34 L452.27,469.30 L452.50,469.26 L452.73,469.22 L452.96,469.18 L453.19,469.14 L453.42,469.10 L453.65,469.05 L453.88,469.01 L454.11,468.97 L454.34,468.92 L454.57,468.88 L454.80,468.83 L455.03,468.79 L455.26,468.74 L455.49,468.69 L455.72,468.65 L455.95,468.60 L456.18,468.55 L456.41,468.50 L456.64,468.46 L456.87,468.41 L457.10,468.36 L457.33,468.31 L457.56,468.26 L457.79,468.22 L458.02,468.17 L458.25,468.12 L458.48,468.07 L458.71,468.02 L458.94,467.97 L459.17,467.92 L459.40,467.87 L459.63,467.83 L459.86,467.78 L460.09,467.73 L460.32,467.68 L460.56,467.63 L460.79,467.58 L461.02,467.53 L461.25,467.49 L461.48,467.44 L461.71,467.39 L461.94,467.34 L462.17,467.30 L462.40,467.25 L462.63,467.20 L462.86,467.15 L463.09,467.11 L463.32,467.06 L463.55,467.02 L463.78,466.97 L464.01,466.93 L464.24,466.88 L464.47,466.84 L464.70,466.79 L464.93,466.75 L465.16,466.71 L465.39,466.66 L465.62,466.62 L465.85,466.58 L466.08,466.54 L466.31,466.50 L466.54,466.45 L466.77,466.41 L467.00,466.37 L467.23,466.34 L467.46,466.30 L467.69,466.26 L467.92,466.22 L468.15,466.18 L468.38,466.15 L468.61,466.11 L468.84,466.08 L469.07,466.04 L469.30,466.01 L469.54,465.97 L469.77,465.94 L470.00,465.91 L470.23,465.88 L470.46,465.84 L470.69,465.81 L470.92,465.78 L471.15,465.76 L471.38,465.73 L471.61,465.70 L471.84,465.67 L472.07,465.65 L472.30,465.62 L472.53,465.60 L472.76,465.57 L472.99,465.55 L473.22,465.53 L473.45,465.51 L473.68,465.49 L473.91,465.47 L474.14,465.45 L474.37,465.43 L474.60,465.42 L474.83,465.40 L475.06,465.38 L475.29,465.37 L475.52,465.36 L475.75,465.35 L475.98,465.33 L476.21,465.32 L476.44,465.32 L476.67,465.31 L476.90,465.30 L477.13,465.29 L477.36,465.29 L477.59,465.29 L477.82,465.28 L478.05,465.28 L478.28,465.28 L478.52,465.28 L478.75,465.28 L478.98,465.29 L479.21,465.29 L479.44,465.30 L479.67,465.30 L479.90,465.31 L480.13,465.32 L480.36,465.33 L480.59,465.34 L480.82,465.35 L481.05,465.36 L481.28,465.38 L481.51,465.39 L481.74,465.41 L481.97,465.43 L482.20,465.44 L482.43,465.46 L482.66,465.48 L482.89,465.50 L483.12,465.52 L483.35,465.55 L483.58,465.57 L483.81,465.59 L484.04,465.62 L484.27,465.64 L484.50,465.67 L484.73,465.69 L484.96,465.72 L485.19,465.75 L485.42,465.78 L485.65,465.80 L485.88,465.83 L486.11,465.86 L486.34,465.89 L486.57,465.92 L486.80,465.95 L487.03,465.98 L487.26,466.01 L487.50,466.05 L487.73,466.08 L487.96,466.11 L488.19,466.14 L488.42,466.17 L488.65,466.21 L488.88,466.24 L489.11,466.27 L489.34,466.30 L489.57,466.34 L489.80,466.37 L490.03,466.40 L490.26,466.43 L490.49,466.47 L490.72,466.50 L490.95,466.53 L491.18,466.56 L491.41,466.59 L491.64,466.63 L491.87,466.66 L492.10,466.69 L492.33,466.72 L492.56,466.75 L492.79,466.78 L493.02,466.81 L493.25,466.84 L493.48,466.87 L493.71,466.90 L493.94,466.92 L494.17,466.95 L494.40,466.98 L494.63,467.01 L494.86,467.03 L495.09,467.06 L495.32,467.08 L495.55,467.10 L495.78,467.13 L496.01,467.15 L496.24,467.17 L496.48,467.19 L496.71,467.21 L496.94,467.23 L497.17,467.25 L497.40,467.27 L497.63,467.28 L497.86,467.30 L498.09,467.31 L498.32,467.33 L498.55,467.34 L498.78,467.35 L499.01,467.36 L499.24,467.37 L499.47,467.38 L499.70,467.39 L499.93,467.39 L500.16,467.40 L500.39,467.40 L500.62,467.40 L500.85,467.40" fill="none" stroke="#80f0f0" stroke-width="3.4" stroke-linejoin="round"/>
<path d="M293.85,555.50 L294.08,555.50 L294.31,555.50 L294.54,555.50 L294.77,555.50 L295.00,555.50 L295.23,555.50 L295.46,555.50 L295.69,555.50 L295.92,555.50 L296.15,555.50 L296.38,555.50 L296.61,555.50 L296.84,555.50 L297.07,555.50 L297.30,555.50 L297.53,555.50 L297.76,555.50 L297.99,555.50 L298.22,555.50 L298.46,555.50 L298.69,555.50 L298.92,555.50 L299.15,555.50 L299.38,555.50 L299.61,555.50 L299.84,555.50 L300.07,555.50 L300.30,555.50 L300.53,555.50 L300.76,555.50 L300.99,555.50 L301.22,555.50 L301.45,555.50 L301.68,555.50 L301.91,555.50 L302.14,555.50 L302.37,555.50 L302.60,555.50 L302.83,555.50 L303.06,555.50 L303.29,555.50 L303.52,555.50 L303.75,555.50 L303.98,555.50 L304.21,555.50 L304.44,555.50 L304.67,555.50 L304.90,555.08 L305.13,553.25 L305.36,550.91 L305.59,548.15 L305.82,545.03 L306.05,541.64 L306.28,538.04 L306.51,534.31 L306.74,530.52 L306.97,526.69 L307.20,522.83 L307.44,518.93 L307.67,514.99 L307.90,511.02 L308.13,507.00 L308.36,502.94 L308.59,498.84 L308.82,494.70 L309.05,490.55 L309.28,486.41 L309.51,482.30 L309.74,478.27 L309.97,474.34 L310.20,470.54 L310.43,466.90 L310.66,463.44 L310.89,460.18 L311.12,457.12 L311.35,454.24 L311.58,451.53 L311.81,448.97 L312.04,446.56 L312.27,444.28 L312.50,442.11 L312.73,440.05 L312.96,438.09 L313.19,436.22 L313.42,434.50 L313.65,432.99 L313.88,431.73 L314.11,430.77 L314.34,430.18 L314.57,429.99 L314.80,430.26 L315.03,430.97 L315.26,432.09 L315.49,433.60 L315.72,435.46 L315.95,437.65 L316.18,440.12 L316.42,442.83 L316.65,445.73 L316.88,448.78 L317.11,451.91 L317.34,455.08 L317.57,458.25 L317.80,461.35 L318.03,464.36 L318.26,467.26 L318.49,470.06 L318.72,472.77 L318.95,475.38 L319.18,477.90 L319.41,480.34 L319.64,482.70 L319.87,484.99 L320.10,487.20 L320.33,489.35 L320.56,491.44 L320.79,493.47 L321.02,495.44 L321.25,497.35 L321.48,499.21 L321.71,501.01 L321.94,502.76 L322.17,504.46 L322.40,506.10 L322.63,507.70 L322.86,509.25 L323.09,510.76 L323.32,512.22 L323.55,513.64 L323.78,515.02 L324.01,516.35 L324.24,517.65 L324.47,518.91 L324.70,520.12 L324.93,521.30 L325.16,522.43 L325.40,523.52 L325.63,524.57 L325.86,525.58 L326.09,526.55 L326.32,527.47 L326.55,528.35 L326.78,529.19 L327.01,529.98 L327.24,530.73 L327.47,531.44 L327.70,532.10 L327.93,532.72 L328.16,533.29 L328.39,533.81 L328.62,534.30 L328.85,534.74 L329.08,535.14 L329.31,535.50 L329.54,535.82 L329.77,536.10 L330.00,536.35 L330.23,536.56 L330.46,536.74 L330.69,536.89 L330.92,537.00 L331.15,537.09 L331.38,537.14 L331.61,537.17 L331.84,537.17 L332.07,537.15 L332.30,537.10 L332.53,537.03 L332.76,536.93 L332.99,536.81 L333.22,536.67 L333.45,536.51 L333.68,536.33 L333.91,536.13 L334.14,535.90 L334.38,535.66 L334.61,535.40 L334.84,535.12 L335.07,534.82 L335.30,534.50 L335.53,534.16 L335.76,533.80 L335.99,533.43 L336.22,533.04 L336.45,532.64 L336.68,532.22 L336.91,531.77 L337.14,531.31 L337.37,530.82 L337.60,530.30 L337.83,529.75 L338.06,529.17 L338.29,528.56 L338.52,527.91 L338.75,527.22 L338.98,526.49 L339.21,525.72 L339.44,524.89 L339.67,524.02 L339.90,523.10 L340.13,522.13 L340.36,521.10 L340.59,520.01 L340.82,518.86 L341.05,517.65 L341.28,516.38 L341.51,515.03 L341.74,513.62 L341.97,512.14 L342.20,510.60 L342.43,509.01 L342.66,507.35 L342.89,505.64 L343.12,503.88 L343.36,502.06 L343.59,500.21 L343.82,498.30 L344.05,496.36 L344.28,494.37 L344.51,492.35 L344.74,490.30 L344.97,488.22 L345.20,486.10 L345.43,483.96 L345.66,481.80 L345.89,479.62 L346.12,477.42 L346.35,475.20 L346.58,472.98 L346.81,470.75 L347.04,468.52 L347.27,466.29 L347.50,464.07 L347.73,461.86 L347.96,459.66 L348.19,457.48 L348.42,455.32 L348.65,453.19 L348.88,451.08 L349.11,449.01 L349.34,446.98 L349.57,444.98 L349.80,443.04 L350.03,441.14 L350.26,439.29 L350.49,437.49 L350.72,435.76 L350.95,434.08 L351.18,432.46 L351.41,430.90 L351.64,429.41 L351.87,427.99 L352.10,426.63 L352.33,425.35 L352.57,424.14 L352.80,423.01 L353.03,421.95 L353.26,420.98 L353.49,420.08 L353.72,419.27 L353.95,418.55 L354.18,417.91 L354.41,417.37 L354.64,416.92 L354.87,416.56 L355.10,416.30 L355.33,416.14 L355.56,416.07 L355.79,416.10 L356.02,416.21 L356.25,416.40 L356.48,416.66 L356.71,417.00 L356.94,417.41 L357.17,417.88 L357.40,418.41 L357.63,418.99 L357.86,419.63 L358.09,420.31 L358.32,421.03 L358.55,421.78 L358.78,422.57 L359.01,423.39 L359.24,424.23 L359.47,425.09 L359.70,425.96 L359.93,426.84 L360.16,427.73 L360.39,428.62 L360.62,429.52 L360.85,430.41 L361.08,431.31 L361.31,432.21 L361.55,433.11 L361.78,434.00 L362.01,434.90 L362.24,435.79 L362.47,436.68 L362.70,437.56 L362.93,438.44 L363.16,439.32 L363.39,440.19 L363.62,441.05 L363.85,441.91 L364.08,442.75 L364.31,443.59 L364.54,444.42 L364.77,445.24 L365.00,446.05 L365.23,446.84 L365.46,447.62 L365.69,448.40 L365.92,449.15 L366.15,449.90 L366.38,450.63 L366.61,451.35 L366.84,452.06 L367.07,452.75 L367.30,453.43 L367.53,454.10 L367.76,454.75 L367.99,455.38 L368.22,456.00 L368.45,456.61 L368.68,457.20 L368.91,457.77 L369.14,458.33 L369.37,458.87 L369.60,459.40 L369.83,459.90 L370.06,460.40 L370.29,460.87 L370.53,461.33 L370.76,461.77 L370.99,462.19 L371.22,462.59 L371.45,462.98 L371.68,463.34 L371.91,463.69 L372.14,464.02 L372.37,464.33 L372.60,464.63 L372.83,464.91 L373.06,465.17 L373.29,465.42 L373.52,465.66 L373.75,465.88 L373.98,466.08 L374.21,466.28 L374.44,466.46 L374.67,466.62 L374.90,466.78 L375.13,466.92 L375.36,467.06 L375.59,467.18 L375.82,467.29 L376.05,467.40 L376.28,467.49 L376.51,467.58 L376.74,467.66 L376.97,467.73 L377.20,467.79 L377.43,467.85 L377.66,467.90 L377.89,467.95 L378.12,467.99 L378.35,468.03 L378.58,468.06 L378.81,468.09 L379.04,468.11 L379.27,468.13 L379.51,468.15 L379.74,468.17 L379.97,468.19 L380.20,468.21 L380.43,468.22 L380.66,468.24 L380.89,468.26 L381.12,468.27 L381.35,468.30 L381.58,468.32 L381.81,468.34 L382.04,468.37 L382.27,468.40 L382.50,468.43 L382.73,468.46 L382.96,468.49 L383.19,468.52 L383.42,468.56 L383.65,468.59 L383.88,468.63 L384.11,468.67 L384.34,468.71 L384.57,468.74 L384.80,468.78 L385.03,468.82 L385.26,468.85 L385.49,468.89 L385.72,468.93 L385.95,468.96 L386.18,469.00 L386.41,469.03 L386.64,469.06 L386.87,469.09 L387.10,469.12 L387.33,469.15 L387.56,469.18 L387.79,469.21 L388.02,469.23 L388.25,469.26 L388.49,469.28 L388.72,469.31 L388.95,469.33 L389.18,469.35 L389.41,469.37 L389.64,469.39 L389.87,469.41 L390.10,469.42 L390.33,469.44 L390.56,469.46 L390.79,469.47 L391.02,469.48 L391.25,469.50 L391.48,469.51 L391.71,469.52 L391.94,469.53 L392.17,469.54 L392.40,469.55 L392.63,469.56 L392.86,469.56 L393.09,469.57 L393.32,469.58 L393.55,469.58 L393.78,469.59 L394.01,469.59 L394.24,469.59 L394.47,469.60 L394.70,469.60 L394.93,469.60 L395.16,469.60 L395.39,469.60 L395.62,469.60 L395.85,469.60 L396.08,469.59 L396.31,469.59 L396.54,469.59 L396.77,469.59 L397.00,469.58 L397.23,469.58 L397.47,469.57 L397.70,469.57 L397.93,469.56 L398.16,469.55 L398.39,469.55 L398.62,469.54 L398.85,469.53 L399.08,469.52 L399.31,469.51 L399.54,469.50 L399.77,469.49 L400.00,469.48 L400.23,469.47 L400.46,469.46 L400.69,469.45 L400.92,469.44 L401.15,469.43 L401.38,469.41 L401.61,469.40 L401.84,469.39 L402.07,469.38 L402.30,469.36 L402.53,469.35 L402.76,469.34 L402.99,469.32 L403.22,469.31 L403.45,469.29 L403.68,469.28 L403.91,469.26 L404.14,469.25 L404.37,469.23 L404.60,469.22 L404.83,469.20 L405.06,469.19 L405.29,469.17 L405.52,469.15 L405.75,469.14 L405.98,469.12 L406.21,469.11 L406.45,469.09 L406.68,469.07 L406.91,469.06 L407.14,469.04 L407.37,469.02 L407.60,469.01 L407.83,468.99 L408.06,468.97 L408.29,468.96 L408.52,468.94 L408.75,468.92 L408.98,468.91 L409.21,468.89 L409.44,468.88 L409.67,468.86 L409.90,468.84 L410.13,468.83 L410.36,468.81 L410.59,468.80 L410.82,468.78 L411.05,468.77 L411.28,468.75 L411.51,468.74 L411.74,468.72 L411.97,468.71 L412.20,468.69 L412.43,468.68 L412.66,468.66 L412.89,468.65 L413.12,468.64 L413.35,468.62 L413.58,468.61 L413.81,468.60 L414.04,468.58 L414.27,468.57 L414.50,468.56 L414.73,468.55 L414.96,468.54 L415.19,468.53 L415.43,468.52 L415.66,468.51 L415.89,468.50 L416.12,468.49 L416.35,468.48 L416.58,468.47 L416.81,468.46 L417.04,468.45 L417.27,468.45 L417.50,468.44 L417.73,468.43 L417.96,468.43 L418.19,468.42 L418.42,468.42 L418.65,468.41 L418.88,468.41 L419.11,468.40 L419.34,468.40 L419.57,468.40 L419.80,468.40 L420.03,468.39 L420.26,468.39 L420.49,468.39 L420.72,468.39 L420.95,468.39 L421.18,468.39 L421.41,468.39 L421.64,468.39 L421.87,468.39 L422.10,468.40 L422.33,468.40 L422.56,468.40 L422.79,468.41 L423.02,468.41 L423.25,468.41 L423.48,468.42 L423.71,468.43 L423.94,468.43 L424.17,468.44 L424.41,468.45 L424.64,468.45 L424.87,468.46 L425.10,468.47 L425.33,468.48 L425.56,468.49 L425.79,468.50 L426.02,468.51 L426.25,468.53 L426.48,468.54 L426.71,468.55 L426.94,468.56 L427.17,468.58 L427.40,468.59 L427.63,468.61 L427.86,468.62 L428.09,468.64 L428.32,468.66 L428.55,468.67 L428.78,468.69 L429.01,468.71 L429.24,468.73 L429.47,468.75 L429.70,468.77 L429.93,468.79 L430.16,468.81 L430.39,468.84 L430.62,468.86 L430.85,468.88 L431.08,468.91 L431.31,468.93 L431.54,468.96 L431.77,468.99 L432.00,469.01 L432.23,469.04 L432.46,469.07 L432.69,469.10 L432.92,469.13 L433.15,469.16 L433.39,469.19 L433.62,469.22 L433.85,469.25 L434.08,469.28 L434.31,469.31 L434.54,469.34 L434.77,469.37 L435.00,469.40 L435.23,469.44 L435.46,469.47 L435.69,469.50 L435.92,469.53 L436.15,469.56 L436.38,469.59 L436.61,469.62 L436.84,469.66 L437.07,469.69 L437.30,469.72 L437.53,469.75 L437.76,469.77 L437.99,469.80 L438.22,469.83 L438.45,469.86 L438.68,469.89 L438.91,469.91 L439.14,469.94 L439.37,469.96 L439.60,469.99 L439.83,470.01 L440.06,470.03 L440.29,470.05 L440.52,470.07 L440.75,470.09 L440.98,470.11 L441.21,470.12 L441.44,470.14 L441.67,470.15 L441.90,470.17 L442.13,470.18 L442.37,470.19 L442.60,470.20 L442.83,470.20 L443.06,470.21 L443.29,470.21 L443.52,470.22 L443.75,470.22 L443.98,470.22 L444.21,470.22 L444.44,470.21 L444.67,470.21 L444.90,470.20 L445.13,470.20 L445.36,470.19 L445.59,470.18 L445.82,470.17 L446.05,470.16 L446.28,470.14 L446.51,470.13 L446.74,470.11 L446.97,470.10 L447.20,470.08 L447.43,470.06 L447.66,470.04 L447.89,470.02 L448.12,470.00 L448.35,469.97 L448.58,469.95 L448.81,469.93 L449.04,469.90 L449.27,469.87 L449.50,469.84 L449.73,469.82 L449.96,469.79 L450.19,469.76 L450.42,469.72 L450.65,469.69 L450.88,469.66 L451.11,469.62 L451.34,469.59 L451.58,469.55 L451.81,469.52 L452.04,469.48 L452.27,469.44 L452.50,469.41 L452.73,469.37 L452.96,469.33 L453.19,469.29 L453.42,469.25 L453.65,469.20 L453.88,469.16 L454.11,469.12 L454.34,469.08 L454.57,469.03 L454.80,468.99 L455.03,468.95 L455.26,468.90 L455.49,468.86 L455.72,468.81 L455.95,468.77 L456.18,468.72 L456.41,468.67 L456.64,468.63 L456.87,468.58 L457.10,468.53 L457.33,468.48 L457.56,468.44 L457.79,468.39 L458.02,468.34 L458.25,468.29 L458.48,468.24 L458.71,468.19 L458.94,468.14 L459.17,468.10 L459.40,468.05 L459.63,468.00 L459.86,467.95 L460.09,467.90 L460.32,467.85 L460.56,467.80 L460.79,467.75 L461.02,467.70 L461.25,467.65 L461.48,467.61 L461.71,467.56 L461.94,467.51 L462.17,467.46 L462.40,467.41 L462.63,467.36 L462.86,467.32 L463.09,467.27 L463.32,467.22 L463.55,467.17 L463.78,467.13 L464.01,467.08 L464.24,467.03 L464.47,466.99 L464.70,466.94 L464.93,466.90 L465.16,466.85 L465.39,466.81 L465.62,466.76 L465.85,466.72 L466.08,466.68 L466.31,466.63 L466.54,466.59 L466.77,466.55 L467.00,466.51 L467.23,466.46 L467.46,466.42 L467.69,466.38 L467.92,466.34 L468.15,466.30 L468.38,466.26 L468.61,466.23 L468.84,466.19 L469.07,466.15 L469.30,466.11 L469.54,466.08 L469.77,466.04 L470.00,466.01 L470.23,465.97 L470.46,465.94 L470.69,465.91 L470.92,465.87 L471.15,465.84 L471.38,465.81 L471.61,465.78 L471.84,465.75 L472.07,465.72 L472.30,465.70 L472.53,465.67 L472.76,465.64 L472.99,465.62 L473.22,465.59 L473.45,465.57 L473.68,465.54 L473.91,465.52 L474.14,465.50 L474.37,465.48 L474.60,465.46 L474.83,465.44 L475.06,465.42 L475.29,465.41 L475.52,465.39 L475.75,465.38 L475.98,465.36 L476.21,465.35 L476.44,465.34 L476.67,465.33 L476.90,465.32 L477.13,465.31 L477.36,465.30 L477.59,465.29 L477.82,465.29 L478.05,465.28 L478.28,465.28 L478.52,465.28 L478.75,465.27 L478.98,465.27 L479.21,465.28 L479.44,465.28 L479.67,465.28 L479.90,465.29 L480.13,465.29 L480.36,465.30 L480.59,465.31 L480.82,465.32 L481.05,465.33 L481.28,465.34 L481.51,465.35 L481.74,465.37 L481.97,465.38 L482.20,465.40 L482.43,465.41 L482.66,465.43 L482.89,465.45 L483.12,465.47 L483.35,465.49 L483.58,465.51 L483.81,465.54 L484.04,465.56 L484.27,465.58 L484.50,465.61 L484.73,465.64 L484.96,465.66 L485.19,465.69 L485.42,465.72 L485.65,465.74 L485.88,465.77 L486.11,465.80 L486.34,465.83 L486.57,465.86 L486.80,465.89 L487.03,465.92 L487.26,465.96 L487.50,465.99 L487.73,466.02 L487.96,466.05 L488.19,466.08 L488.42,466.12 L488.65,466.15 L488.88,466.18 L489.11,466.22 L489.34,466.25 L489.57,466.28 L489.80,466.32 L490.03,466.35 L490.26,466.39 L490.49,466.42 L490.72,466.45 L490.95,466.49 L491.18,466.52 L491.41,466.55 L491.64,466.59 L491.87,466.62 L492.10,466.65 L492.33,466.68 L492.56,466.71 L492.79,466.75 L493.02,466.78 L493.25,466.81 L493.48,466.84 L493.71,466.87 L493.94,466.90 L494.17,466.93 L494.40,466.96 L494.63,466.98 L494.86,467.01 L495.09,467.04 L495.32,467.06 L495.55,467.09 L495.78,467.11 L496.01,467.14 L496.24,467.16 L496.48,467.18 L496.71,467.20 L496.94,467.22 L497.17,467.24 L497.40,467.26 L497.63,467.28 L497.86,467.29 L498.09,467.31 L498.32,467.32 L498.55,467.34 L498.78,467.35 L499.01,467.36 L499.24,467.37 L499.47,467.38 L499.70,467.38 L499.93,467.39 L500.16,467.39 L500.39,467.40 L500.62,467.40 L500.85,467.40" fill="none" stroke="#c81e24" stroke-width="2.6" stroke-dasharray="10.6,4.4" stroke-linejoin="round"/>
<path d="M293.85,555.50 L294.08,555.50 L294.31,555.50 L294.54,555.50 L294.77,555.50 L295.00,555.50 L295.23,555.50 L295.46,555.50 L295.69,555.50 L295.92,555.50 L296.15,555.50 L296.38,555.50 L296.61,555.50 L296.84,555.50 L297.07,555.50 L297.30,555.50 L297.53,555.50 L297.76,555.50 L297.99,555.50 L298.22,555.50 L298.46,555.50 L298.69,555.50 L298.92,555.50 L299.15,555.50 L299.38,555.50 L299.61,555.50 L299.84,555.50 L300.07,555.50 L300.30,555.50 L300.53,555.50 L300.76,555.50 L300.99,555.50 L301.22,555.50 L301.45,555.50 L301.68,555.50 L301.91,555.50 L302.14,555.50 L302.37,555.50 L302.60,555.50 L302.83,555.50 L303.06,555.50 L303.29,555.50 L303.52,555.50 L303.75,554.75 L303.98,552.80 L304.21,550.32 L304.44,547.40 L304.67,544.12 L304.90,540.55 L305.13,536.77 L305.36,532.87 L305.59,528.93 L305.82,525.01 L306.05,521.15 L306.28,517.32 L306.51,513.50 L306.74,509.65 L306.97,505.76 L307.20,501.79 L307.44,497.73 L307.67,493.54 L307.90,489.21 L308.13,484.74 L308.36,480.16 L308.59,475.49 L308.82,470.75 L309.05,465.97 L309.28,461.17 L309.51,456.36 L309.74,451.57 L309.97,446.81 L310.20,442.10 L310.43,437.44 L310.66,432.85 L310.89,428.35 L311.12,423.94 L311.35,419.67 L311.58,415.73 L311.81,412.30 L312.04,409.59 L312.27,407.69 L312.50,406.50 L312.73,405.87 L312.96,405.68 L313.19,405.90 L313.42,406.73 L313.65,408.39 L313.88,411.10 L314.11,414.83 L314.34,419.19 L314.57,423.77 L314.80,428.20 L315.03,432.42 L315.26,436.44 L315.49,440.30 L315.72,444.02 L315.95,447.63 L316.18,451.16 L316.42,454.63 L316.65,458.05 L316.88,461.43 L317.11,464.74 L317.34,467.99 L317.57,471.16 L317.80,474.25 L318.03,477.25 L318.26,480.16 L318.49,482.97 L318.72,485.66 L318.95,488.25 L319.18,490.73 L319.41,493.10 L319.64,495.38 L319.87,497.57 L320.10,499.66 L320.33,501.67 L320.56,503.59 L320.79,505.44 L321.02,507.22 L321.25,508.93 L321.48,510.57 L321.71,512.15 L321.94,513.67 L322.17,515.13 L322.40,516.54 L322.63,517.89 L322.86,519.19 L323.09,520.43 L323.32,521.63 L323.55,522.78 L323.78,523.88 L324.01,524.93 L324.24,525.94 L324.47,526.90 L324.70,527.83 L324.93,528.72 L325.16,529.57 L325.40,530.38 L325.63,531.15 L325.86,531.90 L326.09,532.61 L326.32,533.29 L326.55,533.94 L326.78,534.56 L327.01,535.15 L327.24,535.70 L327.47,536.23 L327.70,536.73 L327.93,537.20 L328.16,537.65 L328.39,538.06 L328.62,538.45 L328.85,538.81 L329.08,539.15 L329.31,539.46 L329.54,539.75 L329.77,540.01 L330.00,540.24 L330.23,540.46 L330.46,540.65 L330.69,540.82 L330.92,540.96 L331.15,541.09 L331.38,541.19 L331.61,541.27 L331.84,541.33 L332.07,541.38 L332.30,541.40 L332.53,541.40 L332.76,541.39 L332.99,541.35 L333.22,541.29 L333.45,541.21 L333.68,541.10 L333.91,540.97 L334.14,540.80 L334.38,540.61 L334.61,540.39 L334.84,540.14 L335.07,539.85 L335.30,539.53 L335.53,539.18 L335.76,538.78 L335.99,538.35 L336.22,537.88 L336.45,537.38 L336.68,536.82 L336.91,536.23 L337.14,535.59 L337.37,534.91 L337.60,534.18 L337.83,533.40 L338.06,532.59 L338.29,531.72 L338.52,530.81 L338.75,529.86 L338.98,528.86 L339.21,527.82 L339.44,526.73 L339.67,525.60 L339.90,524.42 L340.13,523.20 L340.36,521.94 L340.59,520.63 L340.82,519.28 L341.05,517.89 L341.28,516.45 L341.51,514.97 L341.74,513.44 L341.97,511.88 L342.20,510.27 L342.43,508.62 L342.66,506.93 L342.89,505.20 L343.12,503.44 L343.36,501.64 L343.59,499.80 L343.82,497.93 L344.05,496.02 L344.28,494.08 L344.51,492.11 L344.74,490.11 L344.97,488.07 L345.20,486.01 L345.43,483.92 L345.66,481.79 L345.89,479.65 L346.12,477.47 L346.35,475.28 L346.58,473.08 L346.81,470.86 L347.04,468.64 L347.27,466.41 L347.50,464.19 L347.73,461.97 L347.96,459.77 L348.19,457.58 L348.42,455.41 L348.65,453.26 L348.88,451.15 L349.11,449.06 L349.34,447.01 L349.57,445.01 L349.80,443.05 L350.03,441.13 L350.26,439.28 L350.49,437.47 L350.72,435.73 L350.95,434.05 L351.18,432.42 L351.41,430.86 L351.64,429.37 L351.87,427.95 L352.10,426.59 L352.33,425.31 L352.57,424.10 L352.80,422.97 L353.03,421.92 L353.26,420.95 L353.49,420.06 L353.72,419.25 L353.95,418.53 L354.18,417.90 L354.41,417.36 L354.64,416.91 L354.87,416.56 L355.10,416.30 L355.33,416.14 L355.56,416.08 L355.79,416.10 L356.02,416.21 L356.25,416.40 L356.48,416.67 L356.71,417.01 L356.94,417.42 L357.17,417.89 L357.40,418.42 L357.63,419.00 L357.86,419.64 L358.09,420.31 L358.32,421.03 L358.55,421.79 L358.78,422.58 L359.01,423.39 L359.24,424.23 L359.47,425.09 L359.70,425.96 L359.93,426.84 L360.16,427.73 L360.39,428.62 L360.62,429.52 L360.85,430.41 L361.08,431.31 L361.31,432.21 L361.55,433.10 L361.78,434.00 L362.01,434.89 L362.24,435.79 L362.47,436.68 L362.70,437.56 L362.93,438.44 L363.16,439.32 L363.39,440.19 L363.62,441.05 L363.85,441.91 L364.08,442.75 L364.31,443.59 L364.54,444.42 L364.77,445.24 L365.00,446.05 L365.23,446.84 L365.46,447.62 L365.69,448.40 L365.92,449.15 L366.15,449.90 L366.38,450.63 L366.61,451.35 L366.84,452.06 L367.07,452.75 L367.30,453.43 L367.53,454.10 L367.76,454.75 L367.99,455.38 L368.22,456.00 L368.45,456.61 L368.68,457.20 L368.91,457.77 L369.14,458.33 L369.37,458.87 L369.60,459.40 L369.83,459.91 L370.06,460.40 L370.29,460.87 L370.53,461.33 L370.76,461.77 L370.99,462.19 L371.22,462.59 L371.45,462.98 L371.68,463.34 L371.91,463.69 L372.14,464.02 L372.37,464.33 L372.60,464.63 L372.83,464.91 L373.06,465.17 L373.29,465.42 L373.52,465.66 L373.75,465.88 L373.98,466.08 L374.21,466.28 L374.44,466.46 L374.67,466.62 L374.90,466.78 L375.13,466.92 L375.36,467.06 L375.59,467.18 L375.82,467.29 L376.05,467.40 L376.28,467.49 L376.51,467.58 L376.74,467.66 L376.97,467.73 L377.20,467.79 L377.43,467.85 L377.66,467.90 L377.89,467.95 L378.12,467.99 L378.35,468.02 L378.58,468.06 L378.81,468.09 L379.04,468.11 L379.27,468.13 L379.51,468.15 L379.74,468.17 L379.97,468.19 L380.20,468.21 L380.43,468.22 L380.66,468.24 L380.89,468.26 L381.12,468.27 L381.35,468.30 L381.58,468.32 L381.81,468.34 L382.04,468.37 L382.27,468.40 L382.50,468.43 L382.73,468.46 L382.96,468.49 L383.19,468.52 L383.42,468.56 L383.65,468.59 L383.88,468.63 L384.11,468.67 L384.34,468.71 L384.57,468.74 L384.80,468.78 L385.03,468.82 L385.26,468.86 L385.49,468.89 L385.72,468.93 L385.95,468.96 L386.18,469.00 L386.41,469.03 L386.64,469.06 L386.87,469.09 L387.10,469.12 L387.33,469.15 L387.56,469.18 L387.79,469.21 L388.02,469.23 L388.25,469.26 L388.49,469.28 L388.72,469.31 L388.95,469.33 L389.18,469.35 L389.41,469.37 L389.64,469.39 L389.87,469.41 L390.10,469.42 L390.33,469.44 L390.56,469.46 L390.79,469.47 L391.02,469.48 L391.25,469.50 L391.48,469.51 L391.71,469.52 L391.94,469.53 L392.17,469.54 L392.40,469.55 L392.63,469.56 L392.86,469.56 L393.09,469.57 L393.32,469.58 L393.55,469.58 L393.78,469.59 L394.01,469.59 L394.24,469.59 L394.47,469.60 L394.70,469.60 L394.93,469.60 L395.16,469.60 L395.39,469.60 L395.62,469.60 L395.85,469.60 L396.08,469.59 L396.31,469.59 L396.54,469.59 L396.77,469.59 L397.00,469.58 L397.23,469.58 L397.47,469.57 L397.70,469.57 L397.93,469.56 L398.16,469.55 L398.39,469.55 L398.62,469.54 L398.85,469.53 L399.08,469.52 L399.31,469.51 L399.54,469.50 L399.77,469.49 L400.00,469.48 L400.23,469.47 L400.46,469.46 L400.69,469.45 L400.92,469.44 L401.15,469.43 L401.38,469.41 L401.61,469.40 L401.84,469.39 L402.07,469.38 L402.30,469.36 L402.53,469.35 L402.76,469.34 L402.99,469.32 L403.22,469.31 L403.45,469.29 L403.68,469.28 L403.91,469.26 L404.14,469.25 L404.37,469.23 L404.60,469.22 L404.83,469.20 L405.06,469.19 L405.29,469.17 L405.52,469.15 L405.75,469.14 L405.98,469.12 L406.21,469.11 L406.45,469.09 L406.68,469.07 L406.91,469.06 L407.14,469.04 L407.37,469.02 L407.60,469.01 L407.83,468.99 L408.06,468.97 L408.29,468.96 L408.52,468.94 L408.75,468.92 L408.98,468.91 L409.21,468.89 L409.44,468.88 L409.67,468.86 L409.90,468.84 L410.13,468.83 L410.36,468.81 L410.59,468.80 L410.82,468.78 L411.05,468.77 L411.28,468.75 L411.51,468.74 L411.74,468.72 L411.97,468.71 L412.20,468.69 L412.43,468.68 L412.66,468.66 L412.89,468.65 L413.12,468.64 L413.35,468.62 L413.58,468.61 L413.81,468.60 L414.04,468.58 L414.27,468.57 L414.50,468.56 L414.73,468.55 L414.96,468.54 L415.19,468.53 L415.43,468.52 L415.66,468.51 L415.89,468.50 L416.12,468.49 L416.35,468.48 L416.58,468.47 L416.81,468.46 L417.04,468.45 L417.27,468.45 L417.50,468.44 L417.73,468.43 L417.96,468.43 L418.19,468.42 L418.42,468.42 L418.65,468.41 L418.88,468.41 L419.11,468.40 L419.34,468.40 L419.57,468.40 L419.80,468.40 L420.03,468.39 L420.26,468.39 L420.49,468.39 L420.72,468.39 L420.95,468.39 L421.18,468.39 L421.41,468.39 L421.64,468.39 L421.87,468.39 L422.10,468.40 L422.33,468.40 L422.56,468.40 L422.79,468.41 L423.02,468.41 L423.25,468.41 L423.48,468.42 L423.71,468.43 L423.94,468.43 L424.17,468.44 L424.41,468.45 L424.64,468.45 L424.87,468.46 L425.10,468.47 L425.33,468.48 L425.56,468.49 L425.79,468.50 L426.02,468.51 L426.25,468.53 L426.48,468.54 L426.71,468.55 L426.94,468.56 L427.17,468.58 L427.40,468.59 L427.63,468.61 L427.86,468.62 L428.09,468.64 L428.32,468.66 L428.55,468.67 L428.78,468.69 L429.01,468.71 L429.24,468.73 L429.47,468.75 L429.70,468.77 L429.93,468.79 L430.16,468.81 L430.39,468.84 L430.62,468.86 L430.85,468.88 L431.08,468.91 L431.31,468.93 L431.54,468.96 L431.77,468.99 L432.00,469.01 L432.23,469.04 L432.46,469.07 L432.69,469.10 L432.92,469.13 L433.15,469.16 L433.39,469.19 L433.62,469.22 L433.85,469.25 L434.08,469.28 L434.31,469.31 L434.54,469.34 L434.77,469.37 L435.00,469.40 L435.23,469.44 L435.46,469.47 L435.69,469.50 L435.92,469.53 L436.15,469.56 L436.38,469.59 L436.61,469.62 L436.84,469.66 L437.07,469.69 L437.30,469.72 L437.53,469.75 L437.76,469.77 L437.99,469.80 L438.22,469.83 L438.45,469.86 L438.68,469.89 L438.91,469.91 L439.14,469.94 L439.37,469.96 L439.60,469.99 L439.83,470.01 L440.06,470.03 L440.29,470.05 L440.52,470.07 L440.75,470.09 L440.98,470.11 L441.21,470.12 L441.44,470.14 L441.67,470.15 L441.90,470.17 L442.13,470.18 L442.37,470.19 L442.60,470.20 L442.83,470.20 L443.06,470.21 L443.29,470.21 L443.52,470.22 L443.75,470.22 L443.98,470.22 L444.21,470.22 L444.44,470.21 L444.67,470.21 L444.90,470.20 L445.13,470.20 L445.36,470.19 L445.59,470.18 L445.82,470.17 L446.05,470.16 L446.28,470.14 L446.51,470.13 L446.74,470.11 L446.97,470.10 L447.20,470.08 L447.43,470.06 L447.66,470.04 L447.89,470.02 L448.12,470.00 L448.35,469.97 L448.58,469.95 L448.81,469.93 L449.04,469.90 L449.27,469.87 L449.50,469.84 L449.73,469.82 L449.96,469.79 L450.19,469.76 L450.42,469.72 L450.65,469.69 L450.88,469.66 L451.11,469.62 L451.34,469.59 L451.58,469.55 L451.81,469.52 L452.04,469.48 L452.27,469.44 L452.50,469.41 L452.73,469.37 L452.96,469.33 L453.19,469.29 L453.42,469.25 L453.65,469.20 L453.88,469.16 L454.11,469.12 L454.34,469.08 L454.57,469.03 L454.80,468.99 L455.03,468.95 L455.26,468.90 L455.49,468.86 L455.72,468.81 L455.95,468.77 L456.18,468.72 L456.41,468.67 L456.64,468.63 L456.87,468.58 L457.10,468.53 L457.33,468.48 L457.56,468.44 L457.79,468.39 L458.02,468.34 L458.25,468.29 L458.48,468.24 L458.71,468.19 L458.94,468.14 L459.17,468.10 L459.40,468.05 L459.63,468.00 L459.86,467.95 L460.09,467.90 L460.32,467.85 L460.56,467.80 L460.79,467.75 L461.02,467.70 L461.25,467.65 L461.48,467.61 L461.71,467.56 L461.94,467.51 L462.17,467.46 L462.40,467.41 L462.63,467.36 L462.86,467.32 L463.09,467.27 L463.32,467.22 L463.55,467.17 L463.78,467.13 L464.01,467.08 L464.24,467.03 L464.47,466.99 L464.70,466.94 L464.93,466.90 L465.16,466.85 L465.39,466.81 L465.62,466.76 L465.85,466.72 L466.08,466.68 L466.31,466.63 L466.54,466.59 L466.77,466.55 L467.00,466.51 L467.23,466.46 L467.46,466.42 L467.69,466.38 L467.92,466.34 L468.15,466.30 L468.38,466.26 L468.61,466.23 L468.84,466.19 L469.07,466.15 L469.30,466.11 L469.54,466.08 L469.77,466.04 L470.00,466.01 L470.23,465.97 L470.46,465.94 L470.69,465.91 L470.92,465.87 L471.15,465.84 L471.38,465.81 L471.61,465.78 L471.84,465.75 L472.07,465.72 L472.30,465.70 L472.53,465.67 L472.76,465.64 L472.99,465.62 L473.22,465.59 L473.45,465.57 L473.68,465.54 L473.91,465.52 L474.14,465.50 L474.37,465.48 L474.60,465.46 L474.83,465.44 L475.06,465.42 L475.29,465.41 L475.52,465.39 L475.75,465.38 L475.98,465.36 L476.21,465.35 L476.44,465.34 L476.67,465.33 L476.90,465.32 L477.13,465.31 L477.36,465.30 L477.59,465.29 L477.82,465.29 L478.05,465.28 L478.28,465.28 L478.52,465.28 L478.75,465.27 L478.98,465.27 L479.21,465.28 L479.44,465.28 L479.67,465.28 L479.90,465.29 L480.13,465.29 L480.36,465.30 L480.59,465.31 L480.82,465.32 L481.05,465.33 L481.28,465.34 L481.51,465.35 L481.74,465.37 L481.97,465.38 L482.20,465.40 L482.43,465.41 L482.66,465.43 L482.89,465.45 L483.12,465.47 L483.35,465.49 L483.58,465.51 L483.81,465.54 L484.04,465.56 L484.27,465.58 L484.50,465.61 L484.73,465.64 L484.96,465.66 L485.19,465.69 L485.42,465.72 L485.65,465.74 L485.88,465.77 L486.11,465.80 L486.34,465.83 L486.57,465.86 L486.80,465.89 L487.03,465.92 L487.26,465.96 L487.50,465.99 L487.73,466.02 L487.96,466.05 L488.19,466.08 L488.42,466.12 L488.65,466.15 L488.88,466.18 L489.11,466.22 L489.34,466.25 L489.57,466.28 L489.80,466.32 L490.03,466.35 L490.26,466.39 L490.49,466.42 L490.72,466.45 L490.95,466.49 L491.18,466.52 L491.41,466.55 L491.64,466.59 L491.87,466.62 L492.10,466.65 L492.33,466.68 L492.56,466.71 L492.79,466.75 L493.02,466.78 L493.25,466.81 L493.48,466.84 L493.71,466.87 L493.94,466.90 L494.17,466.93 L494.40,466.96 L494.63,466.98 L494.86,467.01 L495.09,467.04 L495.32,467.06 L495.55,467.09 L495.78,467.11 L496.01,467.14 L496.24,467.16 L496.48,467.18 L496.71,467.20 L496.94,467.22 L497.17,467.24 L497.40,467.26 L497.63,467.28 L497.86,467.29 L498.09,467.31 L498.32,467.32 L498.55,467.34 L498.78,467.35 L499.01,467.36 L499.24,467.37 L499.47,467.38 L499.70,467.38 L499.93,467.39 L500.16,467.39 L500.39,467.40 L500.62,467.40 L500.85,467.40" fill="none" stroke="#000" stroke-width="2.6" stroke-dasharray="2.6,3.85" stroke-linejoin="round"/>
</g>
<path d="M293.85,396.75 L293.85,555.55 L500.85,555.55" fill="none" stroke="#000" stroke-width="0.95" stroke-linecap="square"/>
<line x1="289.85" y1="555.55" x2="293.85" y2="555.55" stroke="#000" stroke-width="0.95"/>
<text x="285.25" y="560.70" font-size="12.0" text-anchor="end">0.0</text>
<line x1="289.85" y1="520.26" x2="293.85" y2="520.26" stroke="#000" stroke-width="0.95"/>
<text x="285.25" y="525.41" font-size="12.0" text-anchor="end">0.4</text>
<line x1="289.85" y1="484.97" x2="293.85" y2="484.97" stroke="#000" stroke-width="0.95"/>
<text x="285.25" y="490.12" font-size="12.0" text-anchor="end">0.8</text>
<line x1="289.85" y1="449.68" x2="293.85" y2="449.68" stroke="#000" stroke-width="0.95"/>
<text x="285.25" y="454.83" font-size="12.0" text-anchor="end">1.2</text>
<line x1="289.85" y1="414.39" x2="293.85" y2="414.39" stroke="#000" stroke-width="0.95"/>
<text x="285.25" y="419.54" font-size="12.0" text-anchor="end">1.6</text>
<line x1="318.20" y1="555.55" x2="318.20" y2="559.55" stroke="#000" stroke-width="0.95"/>
<text x="318.20" y="573.45" font-size="12.0" text-anchor="middle">2</text>
<line x1="348.64" y1="555.55" x2="348.64" y2="559.55" stroke="#000" stroke-width="0.95"/>
<text x="348.64" y="573.45" font-size="12.0" text-anchor="middle">3</text>
<line x1="379.09" y1="555.55" x2="379.09" y2="559.55" stroke="#000" stroke-width="0.95"/>
<text x="379.09" y="573.45" font-size="12.0" text-anchor="middle">4</text>
<line x1="409.53" y1="555.55" x2="409.53" y2="559.55" stroke="#000" stroke-width="0.95"/>
<text x="409.53" y="573.45" font-size="12.0" text-anchor="middle">5</text>
<line x1="439.97" y1="555.55" x2="439.97" y2="559.55" stroke="#000" stroke-width="0.95"/>
<text x="439.97" y="573.45" font-size="12.0" text-anchor="middle">6</text>
<line x1="470.41" y1="555.55" x2="470.41" y2="559.55" stroke="#000" stroke-width="0.95"/>
<text x="470.41" y="573.45" font-size="12.0" text-anchor="middle">7</text>
<line x1="500.85" y1="555.55" x2="500.85" y2="559.55" stroke="#000" stroke-width="0.95"/>
<text x="500.85" y="573.45" font-size="12.0" text-anchor="middle">8</text>
<text x="149.0" y="11.0" font-size="12.0" font-style="italic">g<tspan font-size="8.88" dy="1.6">OO</tspan><tspan dy="-0.9" font-style="normal">(</tspan>r<tspan font-style="normal">)</tspan></text>
<text x="397.5" y="11.0" font-size="12.0" font-style="italic">g<tspan font-size="8.88" dy="1.6">OH</tspan><tspan dy="-0.9" font-style="normal">(</tspan>r<tspan font-style="normal">)</tspan></text>
<text x="149.3" y="593.0" font-size="12.0" font-style="italic" text-anchor="middle">r <tspan font-style="normal">(</tspan>Å<tspan font-style="normal" dx="0.3">)</tspan></text>
<text x="397.9" y="593.0" font-size="12.0" font-style="italic" text-anchor="middle">r <tspan font-style="normal">(</tspan>Å<tspan font-style="normal" dx="0.3">)</tspan></text>
<text transform="translate(10.6,95.0) rotate(-90)" font-size="12.0" text-anchor="middle">BLYPSP-4F</text>
<text transform="translate(10.6,285.8) rotate(-90)" font-size="12.0" text-anchor="middle">WAIL</text>
<text transform="translate(10.6,476.8) rotate(-90)" font-size="12.0" text-anchor="middle">q-TIP4P/F</text>
<rect x="427.3" y="21.0" width="90.30000000000001" height="57.400000000000006" rx="3" ry="3" fill="#fff" fill-opacity="0.8" stroke="#ccc" stroke-width="0.95"/>
<line x1="432.5" y1="30.6" x2="456.5" y2="30.6" stroke="#80f0f0" stroke-width="3.4" stroke-linecap="square"/>
<text x="466.3" y="35.70" font-size="12.0">Flexible</text>
<line x1="432.5" y1="48.8" x2="456.5" y2="48.8" stroke="#c81e24" stroke-width="2.6" stroke-dasharray="10.6,4.4"/>
<text x="466.3" y="53.90" font-size="12.0">MG</text>
<line x1="432.5" y1="66.65" x2="456.5" y2="66.65" stroke="#000" stroke-width="2.6" stroke-dasharray="2.6,3.85"/>
<text x="466.3" y="71.75" font-size="12.0">EG</text>
</svg>
</body></html>
